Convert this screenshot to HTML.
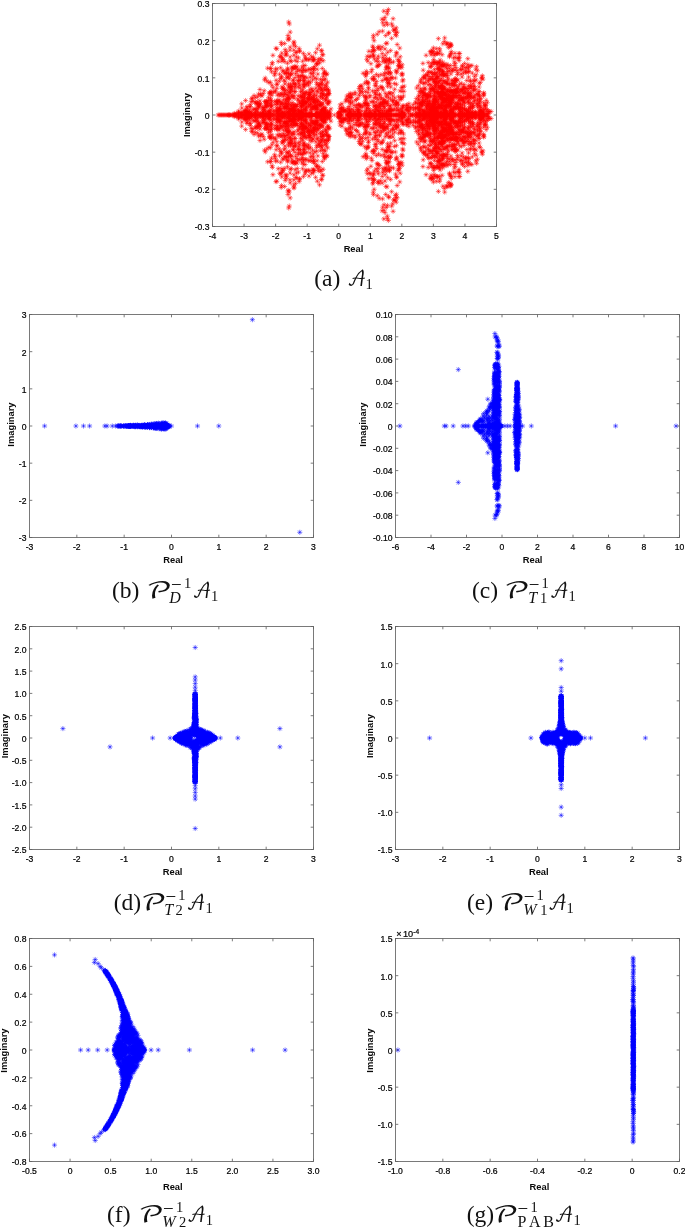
<!DOCTYPE html>
<html lang="en"><head><meta charset="utf-8"><title>Eigenvalue distributions</title>
<style>
html,body{margin:0;padding:0;background:#fff}
body{width:685px;height:1228px;overflow:hidden;position:relative}
svg{position:absolute;left:0;top:0;display:block}
.tl{font-family:"Liberation Sans",sans-serif;font-size:8.6px;fill:#000;stroke:#000;stroke-width:.22px}
.al{font-family:"Liberation Sans",sans-serif;font-size:9.35px;font-weight:bold;fill:#0a0a0a}
.box{fill:none;stroke:#626262;stroke-width:.85}
.tk{fill:none;stroke:#444;stroke-width:.7}
.pts{fill:none;stroke:none}
.cap{font-family:"Liberation Serif","DejaVu Serif",serif;font-size:23.5px;fill:#111}
.scr{font-family:"DejaVu Math TeX Gyre","Liberation Serif",serif}
.s{font-size:14.5px}
.it{font-style:italic}
</style></head><body>
<svg width="685" height="1228" viewBox="0 0 685 1228">
<defs>
<marker id="mr" markerUnits="userSpaceOnUse" markerWidth="8" markerHeight="8" refX="4" refY="4" overflow="visible"><path d="M1.45 4H6.55M4 1.45V6.55M2.2 2.2L5.8 5.8M2.2 5.8L5.8 2.2" fill="none" stroke="#ff0000" stroke-width=".5"/></marker>
<marker id="mb" markerUnits="userSpaceOnUse" markerWidth="8" markerHeight="8" refX="4" refY="4" overflow="visible"><path d="M1.45 4H6.55M4 1.45V6.55M2.2 2.2L5.8 5.8M2.2 5.8L5.8 2.2" fill="none" stroke="#0000ff" stroke-width=".5"/></marker>
</defs>
<g id="plot-a">
<polyline class="pts" style="marker-start:url(#mr);marker-mid:url(#mr);marker-end:url(#mr)" points="266.2,107.1 297.1,66.9 304,87.2 245.6,113.7 268.9,113.2 324.4,115 256,114.2 266.4,115 325.9,99.8 305.3,102.8 288.9,39.8 297.9,99 308.1,94.6 282.2,114.4 267.6,102.8 316.1,107.3 308.6,69.2 298,114.1 317.7,114.9 300.5,79.7 328.6,91.3 275.6,115 300.8,113.2 296,115 287.9,39.1 303.3,68.8 278.6,93.8 316.9,114 320.6,103 266.3,106.1 295,109.8 282.3,113 258.5,106.1 322.3,115 292.7,91 268.9,82.6 308.8,81.3 275.3,90.9 322.7,115 276.8,48.8 247,106.7 275.2,91.6 287.4,94.9 295.1,83.3 323,94.8 310.4,73 287,103.7 241,114.3 270.5,115 330.4,113.4 294.5,91.9 309.9,89.5 252.5,98.2 247.3,115 319.3,112.3 303.1,102 284.8,106.5 285.5,73.4 259.7,115 272,64.2 244.1,111.4 318.9,115 294.9,66.7 266,101.9 313.1,60.8 274.6,101.4 254.1,115 303.8,86.4 322.3,68.5 245,110.5 317.1,107.4 274,111.8 260.3,94 241.5,112.8 283.6,96.3 312.3,106.8 296.7,52.1 319.7,115 276.8,101.5 285.3,113.8 280.7,67.8 328.3,93.9 325.3,89.5 287.1,101.7 293.1,96.6 285.2,49.7 313.6,72.9 248.9,113.2 255.3,109 291.1,89.8 279.5,113.7 319.3,115 313.3,100.2 300.3,88.1 308,113.9 310,69.5 315.7,109.4 324.4,113.3 269.2,110.9 305.6,109.3 268.4,100.7 293.5,80.3 316,106 322.2,93.5 314.4,106 247.6,113 288.3,115 270.9,109.8 330.9,108.9 268.4,106.1 279.4,109.2 288.2,73 253.9,115 320.7,96.3 306.3,59 270.5,68.4 297,71.6 257.6,115 304.6,115 278.3,61.3 248.5,113.5 264.2,90.7 300.9,112.8 306.3,70.4 286,107.3 306.8,77.8 287.9,111.3 266.6,115 285.3,90.8 290.6,74.7 323.4,110.8 264.3,115 259.1,107 301.3,112.3 327,73.8 323,54.7 310.5,101.8 255.2,114.2 317.1,108.6 309.4,115 268.4,112.7 294.9,66.3 251.2,101.6 316.9,105.8 311.8,88.7 317,111.6 314.4,66.5 281.5,77.7 316.2,114.8 279.9,95.9 267.6,105 290.3,104.4 297,114.9 283,115 304.3,109.3 304,80.6 279,100.1 305.4,70.9 288.2,98.9 312.8,106.7 283.4,70.8 316.7,82.6 291.8,86.5 300.8,112.4 308.8,106.6 298.4,77 280.6,114.3 328.4,101.1 260.9,95.2 286,108.1 300.5,96.4 245.6,100.5 269.8,103.5 316.7,98 315.8,115 306.3,106.7 322.7,98.2 314.1,59.6 284.1,89.1 306.9,115 287.1,97.9 313.8,100.1 289.9,109.4 269.6,115 321.1,104.4 309.9,104.9 313.5,115 301.2,75.7 315.8,88.2 293.8,55.1 301.6,70.8 254.3,115 300.9,96.3 317.6,104.5 310.9,103.9 316.9,84.4 296.9,115 321.4,109.7 263.1,115 321.1,88 289.1,92.5 260,89.5 305.2,102.7 294.2,111 292.6,68.3 319.7,62.9 267.6,68.2 305,93.9 291.7,105.5 299.1,48.4 297.1,104.6 267.1,115 298,75.4 320.2,87.2 271.9,85.2 238.3,113.1 255.4,97.6 294.5,112.2 328,94.1 250,106.7 329.7,115 299.6,50.6 265,115 292,96.9 275.9,48.3 311.5,98.6 300,115 283.2,87.8 280.4,106.3 320.5,93.2 314.8,107.2 293.1,115 291.2,106.1 313,90.9 327.6,82.1 257.8,108.5 270.4,98.3 288.5,104.2 297.7,69.7 256.2,103.4 252.2,113.5 277.1,110.4 290,111.4 313.1,109 304.5,80.9 245.7,111.9 250.2,111.5 294.1,104.9 321,111.7 323.5,73.7 288.7,95.9 321.8,50.9 324.5,71.1 291.3,110.7 313.5,95.8 288.7,73.7 269.7,111.1 302.2,94.9 259.1,115 308.1,98.4 317.3,114.6 323.6,111.9 293.8,50.1 264.5,79.8 322.7,98.2 320.7,58.6 327.4,112 303.5,112.1 308.8,115 289.2,115 273.2,115 283.5,115 311.9,115 286,99.7 310,95 297.3,113.6 293.9,106.2 327.4,115 271.2,100.4 296.3,110.5 270.5,113.7 325.1,85.4 296.4,56.9 286.5,73 271.5,102.3 303.5,101.6 290.8,115 266,115 246.8,113.2 290.3,87 302.8,89.9 298.4,80.9 322.6,79.9 323.3,106.9 325,109.3 316.7,115 295.7,106.5 298.8,111.1 290.7,115 290.8,115 249.3,114.1 316.7,113.3 279.6,109.7 245.8,114.1 295,77.6 311.7,56.8 293.1,113.3 288.6,86.8 307.8,98.9 270.8,68.6 238.2,113.9 303.4,53.4 299.2,111.4 320.5,96.7 291.8,95.1 316,113.4 241.4,113.8 245.1,111.7 303.8,93.4 277.7,112.3 255.3,112.5 266.1,101.5 289.3,24 286.9,112.2 301.5,107.7 321.8,82.2 288.7,102.1 273.4,92.3 302.4,72.3 229,114.8 289.9,50.2 285.5,115 290.1,56.9 251.6,98.6 300.8,113 305.5,108.7 313.8,59.5 326.6,86.6 288,35.5 307.6,98.6 293.4,111.8 276.6,84.4 321.9,104.6 313.5,68.7 325.5,100.3 318,109.7 323.7,113.8 266.2,102.3 240.4,113.3 274.9,73.6 291.6,71 309.7,92.9 293.2,83.4 298.1,109 314.5,99.9 256,102.9 309.1,92.5 251.1,115 279.8,110.2 312,73.7 309.4,97.9 291.2,87.1 283.7,104.6 318.3,59.1 282.1,111.6 246.4,115 279.7,110.3 242.8,112.5 317.4,101.5 265.3,111.4 327.9,89.1 276.4,110.6 284.6,73.1 302.9,115 284.8,107.8 289.6,113.7 262.4,107.3 290.2,60.7 244.4,115 277.5,104.3 323.2,103 282.6,94.3 281.8,61.2 309.1,112.7 321.5,110.4 283.8,89.7 289.4,115 311.5,111.8 316.3,113.5 304.8,103.2 272.8,113.6 273,87.7 314.3,99.6 311,107.8 322.3,84.5 315.6,52.7 292.2,102.7 266.9,81 322,115 310.2,115 302.3,105.4 309.3,94.7 289.9,108.6 287.3,106.5 302.2,103.6 296,52.4 311.1,115 325,90 319.4,105.7 290.1,91.5 289.1,37.9 324.3,79.9 290.5,84.1 316.8,115 260.3,103.7 294,68.7 298.3,87.2 317.3,63.5 321.2,83.9 269.6,93.4 305,55.9 305.8,115 269.4,92.8 318.6,85.9 300.8,114.7 326.9,97 273.6,110.3 298.8,83.6 285.9,55.2 306.7,115 304.4,84.8 298,100.2 286,54.1 297.4,115 289.1,97.6 322,109.2 294.6,88 295.5,73.7 280.7,104 280.3,78.7 326.3,97.9 285.2,103.2 320.6,114.6 303.5,65.7 328.5,115 271,92.4 325.4,95.5 315.2,108 301.7,115 311.1,92.2 312,109.2 293.8,45 306.2,103.3 278,101.2 242.9,114.6 309,54 295.5,46.4 322.9,93.8 281.2,93.2 317.8,74.1 329.1,112.3 322.4,115 327.1,89.5 270.4,93.7 271.1,107.2 277.9,115 288.5,108.7 264.2,107.8 269.3,115 241.7,103.9 324.8,73.8 288.4,84.1 305.6,113.5 294.2,98.3 313.3,59.9 317.1,91.2 289.8,98.8 299.6,51.5 261.2,114.3 283,113.9 277.4,95.1 284.8,111.3 286,115 302.2,115 286.6,106.1 286.1,94.3 318.5,115 238.7,111 234.2,114 253.1,109.7 320.4,79.3 306.1,110.8 312.4,97.3 326.6,114.9 276.9,100.4 323.9,108.6 279.3,81.2 298.4,57.9 309.3,115 316.6,95.3 279.8,101.5 295.6,91.5 250.3,114.6 283.2,99.9 328.6,93.5 322.9,109.6 302.7,103.3 316,100.6 322.7,110.3 286.5,108.5 328.5,90.4 293.8,112.2 270.4,82.2 299.2,113.2 303.5,80.8 310.1,77.2 308.6,85.3 249.3,110 306.5,107.3 324,111.9 308.5,101 328,102.2 297.9,80.6 317.3,48.8 267.9,111.4 322.3,54.8 293.1,67.9 321.1,60 285.7,103.8 305.5,110.5 319.4,115 311.3,115 305.2,65.5 327.6,103.5 259.4,104.7 262,95.9 300.6,92 326.4,84 309.6,115 284.9,84.1 263,112.8 293.8,114.7 295.8,67.9 295.1,60.3 305.2,58.1 281.9,57.4 321.3,50.4 283.2,59.7 262.9,112 287.6,76.9 325,109.2 270.4,100.4 282.4,58.9 324.3,87.8 287.6,68.2 319.2,101.4 250.3,104.5 321.8,89.2 278.8,108.8 272.9,55.3 313.3,57.2 329.5,111.1 326.7,115 313.9,68.6 323.5,114.8 329.2,93.7 300.7,113.7 268.5,97.4 319.5,45.2 290.6,89.7 285.1,115 297.2,105.2 247.5,114.5 241.8,108 281.2,42.5 303.6,77.2 313.7,70.3 326.5,74.5 317.8,114.4 325.3,115 306.3,114 312.8,90.9 303,104.8 258.2,106.3 254.1,95.6 314.4,94.1 275.3,71.6 316.2,115 294.8,111.2 235.5,115 301.3,115 293.5,111.7 256.7,109.4 280.9,56 284.7,94.3 287.4,90.3 311,113.3 271.4,105.2 293.5,109.1 304.3,84.1 325.7,112.2 264.2,114.1 257.7,102 274.2,115 277.2,68.9 270.8,91.5 257.1,111.1 276.1,80.3 277.5,102.8 295.8,106.5 307.1,102.1 288.6,112.5 271.5,71.8 260.7,113.7 281.1,102.8 271.8,95.3 295.9,115 320.8,112.2 311.6,99 275.4,68.9 247.8,111.7 255.4,112 293.1,108.2 288.6,77 309.4,94.7 258.6,103.5 280.4,109.8 309.6,96.3 301.8,91.3 298.3,115 322.7,91 263.9,107.5 274.6,75.2 301.6,110.2 301.6,105 328.5,115 328.2,104 303,109.6 314.3,106.5 310.4,82.7 266.9,100.8 304,78 284.6,43.5 288.3,99.3 270,112.7 236.4,114.5 319.8,83.8 311.7,68.8 313.9,97 283.2,114.4 291.9,73.7 272.4,62.6 304,97.6 318.9,89.1 315.5,103.3 324.8,72.4 280.9,115 310.6,104.2 266,105.2 299.6,115 263.4,115 299.9,103.2 300,102.9 287.5,63.2 287.7,105.9 311.3,115 295.9,106.2 291.3,61.4 263.8,110.2 282.7,71.1 319.4,104.5 327.7,112.5 289.2,87.1 320.8,104.2 320.9,115 276.9,88.3 282,86.9 310.3,109.9 284.6,92.9 326.4,94.6 288.7,22 312.5,80 311,115 276.5,107.6 320.5,105.6 286.3,54 263.4,115 251.4,112.4 294,84.3 306.1,101.3 281.8,53.1 319.1,85.2 281.5,44.5 319.4,115 247,110.3 281.1,94.5 270.4,105 293.8,42.8 287.8,112.2 290.5,114.5 319.6,115 302.5,115 304.2,114 290.2,93.1 317.2,102.2 297.3,61.5 313.5,102.4 323.5,113.9 304.7,95.8 293,80.1 281.2,104.1 323.3,95.1 314.7,115 316.7,78.8 277.3,84.1 293.1,115 321.5,115 279.6,108.1 317.6,91.7 299.8,70.3 277,103.1 289.3,78.8 257.1,104 308.7,105 312.3,115 245.7,110.3 284.3,113.1 314.9,78.2 275.1,104.5 299.7,101.2 317.1,69.2 301.9,67.1 265.3,114 323.2,76.4 313.6,101.7 301.5,111.3 286.6,77.6 302.7,113.4 290.3,115 264.8,110.2 265.3,78.1 250.3,106.6 271.8,105.9 279.6,74.2 306.2,84.7 302.6,61.2 303.3,84.5 318,100.1 260.7,113.2 290.2,32.1 257.7,96.9 292,67.2 257.6,115 255.1,101.9 262.4,109.5 290.2,47.2 314.6,102.7 282.7,103.1 313.3,76.2 278.4,115 283.1,108.4 295.3,86.6 256.9,115 293.9,104.3 302.8,99.7 318.1,61 252.9,101.2 316.8,63.6 301.9,97.6 302.4,75.7 251.7,114.9 321.3,90.3 282.3,88.8 300.3,76.7 299.8,80.6 323.2,60.7 304,103.9 329.7,101.8 278.3,113.3 308,82.7 302.3,97 298.1,95.8 305.7,92.6 300.6,106.3 286.8,70.4 306.6,92 258.5,94.2 295.8,114.7 294.1,42 276.5,113 301.8,100.5 308.5,59.7 265.7,114.6 283.9,107 254.2,109 303.7,105.8 258.2,112.2 278,115 293.8,108.3 294,95.6 246.9,107.8 325.8,110.7 278.1,109.8 304.5,97.2 277.3,111.2 303.6,114.4 287.9,98.5 285.6,100.3 295.5,84.6 303,101.6 303.8,93.8 309.8,59.2 281.6,76.4 260.1,105 280.3,115 286.1,51.5 304.4,99.1 291.7,110.8 285,81.4 261.3,115 303.7,70.3 263.3,93.5 298.3,110.2 309.8,99.7 305.4,102.2 270.5,115 288.1,69.4 325.3,107.5 259.9,100.9 309.1,98.3 293.1,108.3 304.8,76.6 290.5,74.8 265.5,104.1 301.4,106.1 234.9,113.3 320.4,115 316.7,64.7 289.2,115 299.7,85.3 299,111.7 328.4,115 249.9,113.7 284,80.2 291.3,86.9 316,108.3 312.5,115 292.3,114.8 238.4,112.6 307.1,83.3 291.3,109.6 264.5,101.4 305.9,59.9 293.6,115 284.7,61.6 281.6,112.9 298.6,115 279.7,56.7 290.4,108.9 325.4,78.9 266.2,122.9 297.1,163.1 304,142.8 245.6,116.3 268.9,116.8 256,115.8 325.9,130.2 305.3,127.2 288.9,190.2 297.9,131 308.1,135.4 282.2,115.6 267.6,127.2 316.1,122.7 308.6,160.8 298,115.9 317.7,115.1 300.5,150.3 328.6,138.7 300.8,116.8 287.9,190.9 303.3,161.2 278.6,136.2 316.9,116 320.6,127 266.3,123.9 295,120.2 282.3,117 258.5,123.9 292.7,139 268.9,147.4 308.8,148.7 275.3,139.1 276.8,181.2 247,123.3 275.2,138.4 287.4,135.1 295.1,146.7 323,135.2 310.4,157 287,126.3 241,115.7 330.4,116.6 294.5,138.1 309.9,140.5 252.5,131.8 319.3,117.7 303.1,128 284.8,123.5 285.5,156.6 272,165.8 244.1,118.6 294.9,163.3 266,128.1 313.1,169.2 274.6,128.6 303.8,143.6 322.3,161.5 245,119.5 317.1,122.6 274,118.2 260.3,136 241.5,117.2 283.6,133.7 312.3,123.2 296.7,177.9 276.8,128.5 285.3,116.2 280.7,162.2 328.3,136.1 325.3,140.5 287.1,128.3 293.1,133.4 285.2,180.3 313.6,157.1 248.9,116.8 255.3,121 291.1,140.2 279.5,116.3 313.3,129.8 300.3,141.9 308,116.1 310,160.5 315.7,120.6 324.4,116.7 269.2,119.1 305.6,120.7 268.4,129.3 293.5,149.7 316,124 322.2,136.5 314.4,124 247.6,117 270.9,120.2 330.9,121.1 268.4,123.9 279.4,120.8 288.2,157 320.7,133.7 306.3,171 270.5,161.6 297,158.4 278.3,168.7 248.5,116.5 264.2,139.3 300.9,117.2 306.3,159.6 286,122.7 306.8,152.2 287.9,118.7 285.3,139.2 290.6,155.3 323.4,119.2 259.1,123 301.3,117.7 327,156.2 323,175.3 310.5,128.2 255.2,115.8 317.1,121.4 268.4,117.3 294.9,163.7 251.2,128.4 316.9,124.2 311.8,141.3 317,118.4 314.4,163.5 281.5,152.3 316.2,115.2 279.9,134.1 267.6,125 290.3,125.6 297,115.1 304.3,120.7 304,149.4 279,129.9 305.4,159.1 288.2,131.1 312.8,123.3 283.4,159.2 316.7,147.4 291.8,143.5 300.8,117.6 308.8,123.4 298.4,153 280.6,115.7 328.4,128.9 260.9,134.8 286,121.9 300.5,133.6 245.6,129.5 269.8,126.5 316.7,132 306.3,123.3 322.7,131.8 314.1,170.4 284.1,140.9 287.1,132.1 313.8,129.9 289.9,120.6 321.1,125.6 309.9,125.1 301.2,154.3 315.8,141.8 293.8,174.9 301.6,159.2 300.9,133.7 317.6,125.5 310.9,126.1 316.9,145.6 321.4,120.3 321.1,142 289.1,137.5 260,140.5 305.2,127.3 294.2,119 292.6,161.7 319.7,167.1 267.6,161.8 305,136.1 291.7,124.5 299.1,181.6 297.1,125.4 298,154.6 320.2,142.8 271.9,144.8 238.3,116.9 255.4,132.4 294.5,117.8 328,135.9 250,123.3 299.6,179.4 292,133.1 275.9,181.7 311.5,131.4 283.2,142.2 280.4,123.7 320.5,136.8 314.8,122.8 291.2,123.9 313,139.1 327.6,147.9 257.8,121.5 270.4,131.7 288.5,125.8 297.7,160.3 256.2,126.6 252.2,116.5 277.1,119.6 290,118.6 313.1,121 304.5,149.1 245.7,118.1 250.2,118.5 294.1,125.1 321,118.3 323.5,156.3 288.7,134.1 321.8,179.1 324.5,158.9 291.3,119.3 313.5,134.2 288.7,156.3 269.7,118.9 302.2,135.1 308.1,131.6 317.3,115.4 323.6,118.1 293.8,179.9 264.5,150.2 322.7,131.8 320.7,171.4 327.4,118 303.5,117.9 286,130.3 310,135 297.3,116.4 293.9,123.8 271.2,129.6 296.3,119.5 270.5,116.3 325.1,144.6 296.4,173.1 286.5,157 271.5,127.7 303.5,128.4 246.8,116.8 290.3,143 302.8,140.1 298.4,149.1 322.6,150.1 323.3,123.1 325,120.7 295.7,123.5 298.8,118.9 249.3,115.9 316.7,116.7 279.6,120.3 245.8,115.9 295,152.4 311.7,173.2 293.1,116.7 288.6,143.2 307.8,131.1 270.8,161.4 238.2,116.1 303.4,176.6 299.2,118.6 320.5,133.3 291.8,134.9 316,116.6 241.4,116.2 245.1,118.3 303.8,136.6 277.7,117.7 255.3,117.5 266.1,128.5 289.3,206 286.9,117.8 301.5,122.3 321.8,147.8 288.7,127.9 273.4,137.7 302.4,157.7 229,115.2 289.9,179.8 290.1,173.1 251.6,131.4 300.8,117 305.5,121.3 313.8,170.5 326.6,143.4 288,194.5 307.6,131.4 293.4,118.2 276.6,145.6 321.9,125.4 313.5,161.3 325.5,129.7 318,120.3 323.7,116.2 266.2,127.7 240.4,116.7 274.9,156.4 291.6,159 309.7,137.1 293.2,146.6 298.1,121 314.5,130.1 256,127.1 309.1,137.5 279.8,119.8 312,156.3 309.4,132.1 291.2,142.9 283.7,125.4 318.3,170.9 282.1,118.4 279.7,119.7 242.8,117.5 317.4,128.5 265.3,118.6 327.9,140.9 276.4,119.4 284.6,156.9 284.8,122.2 289.6,116.3 262.4,122.7 290.2,169.3 244.4,115 277.5,125.7 323.2,127 282.6,135.7 281.8,168.8 309.1,117.3 321.5,119.6 283.8,140.3 311.5,118.2 316.3,116.5 304.8,126.8 272.8,116.4 273,142.3 314.3,130.4 311,122.2 322.3,145.5 315.6,177.3 292.2,127.3 266.9,149 302.3,124.6 309.3,135.3 289.9,121.4 287.3,123.5 302.2,126.4 296,177.6 325,140 319.4,124.3 290.1,138.5 289.1,192.1 324.3,150.1 290.5,145.9 260.3,126.3 294,161.3 298.3,142.8 317.3,166.5 321.2,146.1 269.6,136.6 305,174.1 269.4,137.2 318.6,144.1 300.8,115.3 326.9,133 273.6,119.7 298.8,146.4 285.9,174.8 304.4,145.2 298,129.8 286,175.9 289.1,132.4 322,120.8 294.6,142 295.5,156.3 280.7,126 280.3,151.3 326.3,132.1 285.2,126.8 320.6,115.4 303.5,164.3 271,137.6 325.4,134.5 315.2,122 311.1,137.8 312,120.8 293.8,185 306.2,126.7 278,128.8 242.9,115.4 309,176 295.5,183.6 322.9,136.2 281.2,136.8 317.8,155.9 329.1,117.7 327.1,140.5 270.4,136.3 271.1,122.8 288.5,121.3 264.2,122.2 241.7,126.1 324.8,156.2 288.4,145.9 305.6,116.5 294.2,131.7 313.3,170.1 317.1,138.8 289.8,131.2 299.6,178.5 261.2,115.7 283,116.1 277.4,134.9 284.8,118.7 286.6,123.9 286.1,135.7 238.7,119 234.2,116 253.1,120.3 320.4,150.7 306.1,119.2 312.4,132.7 326.6,115.1 276.9,129.6 323.9,121.4 279.3,148.8 298.4,172.1 316.6,134.7 279.8,128.5 295.6,138.5 250.3,115.4 283.2,130.1 328.6,136.5 322.9,120.4 302.7,126.7 316,129.4 322.7,119.7 286.5,121.5 328.5,139.6 293.8,117.8 270.4,147.8 299.2,116.8 303.5,149.2 310.1,152.8 308.6,144.7 249.3,120 306.5,122.7 324,118.1 308.5,129 328,127.8 297.9,149.4 317.3,181.2 267.9,118.6 322.3,175.2 293.1,162.1 321.1,170 285.7,126.2 305.5,119.5 305.2,164.5 327.6,126.5 259.4,125.3 262,134.1 300.6,138 326.4,146 284.9,145.9 263,117.2 293.8,115.3 295.8,162.1 295.1,169.7 305.2,171.9 281.9,172.6 321.3,179.6 283.2,170.3 262.9,118 287.6,153.1 325,120.8 270.4,129.6 282.4,171.1 324.3,142.2 287.6,161.8 319.2,128.6 250.3,125.5 321.8,140.8 278.8,121.2 272.9,174.7 313.3,172.8 329.5,118.9 313.9,161.4 323.5,115.2 329.2,136.3 300.7,116.3 268.5,132.6 319.5,184.8 290.6,140.3 297.2,124.8 247.5,115.5 241.8,122 281.2,187.5 303.6,152.8 313.7,159.7 326.5,155.5 317.8,115.6 306.3,116 312.8,139.1 303,125.2 258.2,123.7 254.1,134.4 314.4,135.9 275.3,158.4 294.8,118.8 293.5,118.3 256.7,120.6 280.9,174 284.7,135.7 287.4,139.7 311,116.7 271.4,124.8 293.5,120.9 304.3,145.9 325.7,117.8 264.2,115.9 257.7,128 277.2,161.1 270.8,138.5 257.1,118.9 276.1,149.7 277.5,127.2 295.8,123.5 307.1,127.9 288.6,117.5 271.5,158.2 260.7,116.3 281.1,127.2 271.8,134.7 320.8,117.8 311.6,131 275.4,161.1 247.8,118.3 255.4,118 293.1,121.8 288.6,153 309.4,135.3 258.6,126.5 280.4,120.2 309.6,133.7 301.8,138.7 322.7,139 263.9,122.5 274.6,154.8 301.6,119.8 301.6,125 328.2,126 303,120.4 314.3,123.5 310.4,147.3 266.9,129.2 304,152 284.6,186.5 288.3,130.7 270,117.3 236.4,115.5 319.8,146.2 311.7,161.2 313.9,133 283.2,115.6 291.9,156.3 272.4,167.4 304,132.4 318.9,140.9 315.5,126.7 324.8,157.6 310.6,125.8 266,124.8 299.9,126.8 300,127.1 287.5,166.8 287.7,124.1 295.9,123.8 291.3,168.6 263.8,119.8 282.7,158.9 319.4,125.5 327.7,117.5 289.2,142.9 320.8,125.8 276.9,141.7 282,143.1 310.3,120.1 284.6,137.1 326.4,135.4 288.7,208 312.5,150 276.5,122.4 320.5,124.4 286.3,176 251.4,117.6 294,145.7 306.1,128.7 281.8,176.9 319.1,144.8 281.5,185.5 247,119.7 281.1,135.5 270.4,125 293.8,187.2 287.8,117.8 290.5,115.5 304.2,116 290.2,136.9 317.2,127.8 297.3,168.5 313.5,127.6 323.5,116.1 304.7,134.2 293,149.9 281.2,125.9 323.3,134.9 316.7,151.2 277.3,145.9 279.6,121.9 317.6,138.3 299.8,159.7 277,126.9 289.3,151.2 257.1,126 308.7,125 245.7,119.7 284.3,116.9 314.9,151.8 275.1,125.5 299.7,128.8 317.1,160.8 301.9,162.9 265.3,116 323.2,153.6 313.6,128.3 301.5,118.7 286.6,152.4 302.7,116.6 264.8,119.8 265.3,151.9 250.3,123.4 271.8,124.1 279.6,155.8 306.2,145.3 302.6,168.8 303.3,145.5 318,129.9 260.7,116.8 290.2,197.9 257.7,133.1 292,162.8 255.1,128.1 262.4,120.5 290.2,182.8 314.6,127.3 282.7,126.9 313.3,153.8 283.1,121.6 295.3,143.4 293.9,125.7 302.8,130.3 318.1,169 252.9,128.8 316.8,166.4 301.9,132.4 302.4,154.3 251.7,115.1 321.3,139.7 282.3,141.2 300.3,153.3 299.8,149.4 323.2,169.3 304,126.1 329.7,128.2 278.3,116.7 308,147.3 302.3,133 298.1,134.2 305.7,137.4 300.6,123.7 286.8,159.6 306.6,138 258.5,135.8 295.8,115.3 294.1,188 276.5,117 301.8,129.5 308.5,170.3 265.7,115.4 283.9,123 254.2,121 303.7,124.2 258.2,117.8 293.8,121.7 294,134.4 246.9,122.2 325.8,119.3 278.1,120.2 304.5,132.8 277.3,118.8 303.6,115.6 287.9,131.5 285.6,129.7 295.5,145.4 303,128.4 303.8,136.2 309.8,170.8 281.6,153.6 260.1,125 286.1,178.5 304.4,130.9 291.7,119.2 285,148.6 303.7,159.7 263.3,136.5 298.3,119.8 309.8,130.3 305.4,127.8 288.1,160.6 325.3,122.5 259.9,129.1 309.1,131.7 293.1,121.7 304.8,153.4 290.5,155.2 265.5,125.9 301.4,123.9 234.9,116.7 316.7,165.3 299.7,144.7 299,118.3 328.4,115 249.9,116.3 284,149.8 291.3,143.1 316,121.7 292.3,115.2 238.4,117.4 307.1,146.7 291.3,120.4 264.5,128.6 305.9,170.1 284.7,168.4 281.6,117.1 279.7,173.3 290.4,121.1 325.4,151.1 218.2,115 219.3,115 220.4,115 221.5,115 222.6,115 223.6,115 224.7,115 225.8,115 226.9,115 228,115 229.1,115 230.2,115 231.3,115 232.4,115 233.5,115 234.6,115 385.9,43.6 366.3,71.3 400.1,99.7 361.8,110.8 404.2,86.2 405,115 396.4,35.7 373.3,37.8 404.4,115 361.3,115 379.1,104.4 379.8,106.5 353.9,105.3 410.4,107.3 358.2,104.9 378.5,110.8 348.5,115 366.5,81.2 396.3,110.6 388.5,97.5 372,69.5 387,43.1 357.1,114.2 387.5,24.6 399.8,48.1 340.4,112.7 367.8,61.1 364.7,83.3 348.7,115 401.6,112.3 389,115 385.3,93.3 385.2,55.3 388.1,110.3 366.8,115 360.1,106 347.7,108.4 355.6,115 359.8,86.5 394.5,109 369.3,115 373.3,102.3 391.5,113.8 407.3,110.4 350.1,97.3 383.9,59.1 375.1,115 358.2,111.7 370.4,115 393.7,104.6 365.6,103.1 382.6,104.7 377.2,98 341,114.3 398,59.6 398.1,115 396.6,115 376.1,61.1 375.8,113.9 388.2,111 410.4,114 379.5,113.3 367.7,103.5 378.3,88.6 383.2,115 386,72.9 403.6,114.3 383.5,99.4 395.8,115 378.1,115 377.1,105.7 400.9,109 366.7,107.7 368,83.8 382,87.8 350.8,97.4 356.6,99.5 380.4,115 386.6,103.3 409.1,107.4 350.9,111.6 344,110.7 388.9,32.5 400.2,115 349.1,106.5 367.6,115 388.6,63.9 386.6,58.7 398.6,115 387.6,103.4 404.5,115 367.3,56.3 391.8,109.8 384.1,115 373.7,76.6 390.5,99 397.2,44.5 383.6,106.7 390.3,77.9 374.8,106.2 398,102.9 373.2,47.5 385.7,35.5 384.4,106.5 380.3,110.5 401.8,67.6 389.7,84 384,19.7 390.2,109 389.9,109.8 369.9,110.4 368.9,115 385,115 353.9,112 395.2,115 393,100.4 386.6,112.1 370,115 408.9,103.7 391.6,38.3 398.1,109.9 390.5,72.5 382.5,112 366.7,59.3 358.1,115 395.5,104.2 385.6,60.5 363.1,73.3 360.7,115 378.9,111.8 386.3,115 392.6,100.8 378.5,48.3 364.2,105.7 388.4,9.5 352.7,94.1 357.3,115 372.4,91 382.7,61.3 341.1,114.6 353.4,110.1 389.9,92.8 374.7,50.6 376.8,94.5 378.1,99.6 357.6,109.3 406.8,108.1 402.2,64.8 386.2,115 349.1,97.1 388.9,93.2 395.1,115 370.1,95.5 355.1,92.4 390.8,73.8 386.3,111.4 373.7,55.8 367.5,73 402.6,81 348.6,95 368.5,89.1 378.5,76.1 384,75.5 364.6,113.2 384.3,73.3 350.9,115 381.2,105 348.4,112.6 373.5,79.6 390.1,105.8 359.9,90.2 355.2,100.2 406.8,105.5 375.7,105.3 345.7,115 375.5,83.4 365.8,76.3 395.6,55.9 399.2,66.4 392.6,96 388.2,74.1 383.1,114.9 345.7,101.1 387.1,78.3 373.4,56.2 366.5,111 382.9,101.3 363.5,115 410.6,108.9 384.5,113.4 392,77.5 350.5,115 343.3,111.5 357.3,113.9 358.5,104.6 382.1,46.9 387.3,67 400.2,56.8 349.4,110.4 379.5,106.3 387.5,115 375,92.8 347.2,98.6 349.5,113.2 339.6,111.8 369.2,108.7 356.1,107.4 404.7,112.5 386.1,96.7 349.6,113.7 387.8,105.5 379.8,94.2 396.3,52.6 358.9,114.4 370.9,101.8 379,46.6 380.2,115 354.3,114.3 396.3,27.9 355.8,115 377.6,90.6 383.1,115 376.3,108.2 370.5,115 390.6,115 380.8,86.6 388.7,72.6 392.7,26.1 402.2,115 379.2,31.7 375.1,115 401.9,97.5 406.9,109.3 398.8,110 360.3,113 401.1,114.1 386.9,95 380.7,115 352.9,113.4 356.3,105.2 398.4,65.4 367,114.8 378.2,107.5 375.7,109.5 373.2,50.7 375.6,107.1 366.4,99.1 400.5,97.1 380.3,115 367.4,82.7 361.1,91.4 394.7,97.8 394.1,30 395.8,115 384.3,110.7 369.8,115 361,105.6 372.5,115 348.9,115 366.1,115 370.9,63.7 351.1,115 355.2,111.7 351.5,97.3 373.5,49.5 402.4,74.2 405.9,109.5 350.1,102.3 384.3,115 339,113.3 387.8,79.8 385.8,61.9 380.3,115 366.3,103.5 377.7,66.1 343.6,110.7 387.3,11.4 393.5,61.9 348.5,115 413,115 357.8,98.2 401.6,98.9 409,111.4 375.5,97.2 396.9,107.8 382.7,57.4 365.9,74 388.9,83.5 371.6,115 355.3,115 393.1,18.7 359.1,109.3 403.1,79.8 359.8,93.2 369.4,56.8 394.7,89.3 396.6,72.9 374.2,78.5 385,101.9 404,91.3 367.2,108.6 365.5,74.2 350.2,111.2 388.9,114.2 389.1,68.4 351.9,109 390.5,115 367,105.4 380.2,103.5 382.7,22.8 383.8,102.5 382.2,53.6 374.1,40.7 389.5,61 360.9,85.6 398.6,96.8 373.4,35.4 393.2,101.8 385,49 377,66.2 378.3,65.4 380.9,113.1 375.2,90.6 382.7,115 378.3,56.2 397,71 365,111.8 392.2,78.3 374.8,111.5 397.5,115 396.2,105 347.5,113.8 402.5,107.3 395.3,34.6 387.3,115 359.2,115 396.4,84.3 384.1,25.3 362.7,88.8 386.5,66.3 351.6,115 389.5,59.1 359.3,95.4 368.2,114.5 341.6,109.5 372.5,115 384.9,17.4 387.3,13.8 375,115 366.4,110.2 349.4,109.4 371.5,115 393.7,30.1 403,105.5 402,91.3 348.4,101.1 352.5,115 372.2,115 382.6,31.1 344.9,109.9 348.9,114.2 396,101 412.5,115 376.3,85.9 394.3,83.5 389.6,108.9 393,92.9 375.3,94 402.6,87.3 352,115 365.4,97.7 386.3,78.2 364.1,103.2 396.8,103.6 395.8,70.9 394.1,115 399.1,112.1 386.3,22.6 358.3,110.8 369.7,97.1 338.7,114.1 373.8,79.7 386.3,79.5 389.3,111.7 390.2,93.6 364.9,103.7 402.2,112 381.8,115 360.6,115 403.3,106.1 388.1,60.8 388.6,67.8 384.9,100.1 337.9,113.6 382.2,87.5 390.6,50.6 387.8,101.2 361.3,86.3 378.2,61.6 390.7,87 400.6,66.6 362.5,92.3 383.2,89.9 346.9,96.1 357.7,109.5 372.9,115 340.8,111.4 371.4,115 398.7,60.8 368,92.6 355.1,94.3 350.2,93.4 382.2,110.4 374.2,115 385.8,115 374.2,97.9 381,97.3 374.4,59 367,104.2 339.8,108.3 366.6,96.9 391.6,115 370.8,111.8 393.2,115 343.9,111.1 389.7,80.3 396,32.6 363.6,95.6 372.9,110.1 365.2,115 376.1,115 401.9,75.2 389.4,59.5 350.2,100.7 412.5,115 388.5,33.6 395.4,78 396.8,53.2 401.9,73.5 393.4,110.1 365.6,91.6 391.9,110.5 387.9,82.8 375.1,115 398.6,105.1 340.1,104.9 379.8,115 399.5,61.5 381.2,98.8 373,54.1 350.5,103.9 359,88.4 365.3,115 411.8,115 382,19.2 368.3,82.7 399.7,115 385.1,62.1 367.4,115 387.2,114.3 342,103.8 380.7,49.3 380.9,74.6 346.8,110.9 387.5,86.3 341.7,108.2 359.4,113.3 391.6,23.9 374.2,112.1 390.5,106.1 381.6,115 377.7,47.8 384.2,103.7 341.3,108.4 338.4,112.5 403.4,115 389,71.9 358.4,113.6 389.2,115 402.4,111.9 396.7,102.6 386.6,67.5 380.9,115 385.7,102.3 358.3,111.7 376.7,81.4 399,65.5 371.9,78.6 365.5,100.4 380.6,102.4 395.3,29.7 399.3,63.1 412.9,107.5 406.7,105.1 350.5,115 377.2,34.3 382.2,80.6 388.4,115 350.8,94.9 372,51.5 372.7,46.2 384.9,79.1 372.3,115 368.9,51.3 358.7,115 387.7,52.3 368.4,87.5 360.4,107 401.3,115 373.2,101.4 366.8,115 348.9,115 380.6,108.7 370.5,56.2 383.8,11.1 368.6,105.5 378,111.2 352.5,102.1 346.2,99.8 403,115 391.2,62.5 375.2,112.2 359.9,104.6 387.7,82.6 384.7,108.3 385.6,115 408.8,110.4 371.3,71.8 402.6,108.2 376,115 408.3,113.4 407.9,107.4 375,85.7 379.5,95.1 400.2,115 400,90.9 349.4,115 379.8,64.5 349.6,115 397.2,32.2 365.7,96.4 369.8,115 369.1,112.3 390.4,111.3 369.4,112.7 376.4,102.1 398.8,68.2 376.4,74.5 401.7,111.1 401.7,87.4 377.1,110.1 362.7,106.9 403.5,96 382.5,103.1 371.4,115 345.9,111.2 377.7,58.6 343.1,107.5 385.9,69.3 373.8,105.9 385.9,186.4 366.3,158.7 400.1,130.3 361.8,119.2 404.2,143.8 396.4,194.3 373.3,192.2 379.1,125.6 379.8,123.5 353.9,124.7 410.4,122.7 358.2,125.1 378.5,119.2 366.5,148.8 396.3,119.4 388.5,132.5 372,160.5 387,186.9 357.1,115.8 387.5,205.4 399.8,181.9 340.4,117.3 367.8,168.9 364.7,146.7 401.6,117.7 385.3,136.7 385.2,174.7 388.1,119.7 360.1,124 347.7,121.6 359.8,143.5 394.5,121 373.3,127.7 391.5,116.2 407.3,119.6 350.1,132.7 383.9,170.9 358.2,118.3 393.7,125.4 365.6,126.9 382.6,125.3 377.2,132 341,115.7 398,170.4 376.1,168.9 375.8,116.1 388.2,119 410.4,116 379.5,116.7 367.7,126.5 378.3,141.4 386,157.1 403.6,115.7 383.5,130.6 377.1,124.3 400.9,121 366.7,122.3 368,146.2 382,142.2 350.8,132.6 356.6,130.5 386.6,126.7 409.1,122.6 350.9,118.4 344,119.3 388.9,197.5 349.1,123.5 388.6,166.1 386.6,171.3 387.6,126.6 367.3,173.7 391.8,120.2 373.7,153.4 390.5,131 397.2,185.5 383.6,123.3 390.3,152.1 374.8,123.8 398,127.1 373.2,182.5 385.7,194.5 384.4,123.5 380.3,119.5 401.8,162.4 389.7,146 384,210.3 390.2,121 389.9,120.2 369.9,119.6 353.9,118 393,129.6 386.6,117.9 408.9,126.3 391.6,191.7 398.1,120.1 390.5,157.5 382.5,118 366.7,170.7 395.5,125.8 385.6,169.5 363.1,156.7 378.9,118.2 392.6,129.2 378.5,181.7 364.2,124.3 388.4,220.5 352.7,135.9 372.4,139 382.7,168.7 341.1,115.4 353.4,119.9 389.9,137.2 374.7,179.4 376.8,135.5 378.1,130.4 357.6,120.7 406.8,121.9 402.2,165.2 349.1,132.9 388.9,136.8 370.1,134.5 355.1,137.6 390.8,156.2 386.3,118.6 373.7,174.2 367.5,157 402.6,149 348.6,135 368.5,140.9 378.5,153.9 384,154.5 364.6,116.8 384.3,156.7 381.2,125 348.4,117.4 373.5,150.4 390.1,124.2 359.9,139.8 355.2,129.8 406.8,124.5 375.7,124.7 375.5,146.6 365.8,153.7 395.6,174.1 399.2,163.6 392.6,134 388.2,155.9 383.1,115.1 345.7,128.9 387.1,151.7 373.4,173.8 366.5,119 382.9,128.7 410.6,121.1 384.5,116.6 392,152.5 343.3,118.5 357.3,116.1 358.5,125.4 382.1,183.1 387.3,163 400.2,173.2 349.4,119.6 379.5,123.7 375,137.2 347.2,131.4 349.5,116.8 339.6,118.2 369.2,121.3 356.1,122.6 404.7,117.5 386.1,133.3 349.6,116.3 387.8,124.5 379.8,135.8 396.3,177.4 358.9,115.6 370.9,128.2 379,183.4 354.3,115.7 396.3,202.1 377.6,139.4 376.3,121.8 380.8,143.4 388.7,157.4 392.7,203.9 379.2,198.3 401.9,132.5 406.9,120.7 398.8,120 360.3,117 401.1,115.9 386.9,135 352.9,116.6 356.3,124.8 398.4,164.6 367,115.2 378.2,122.5 375.7,120.5 373.2,179.3 375.6,122.9 366.4,130.9 400.5,132.9 367.4,147.3 361.1,138.6 394.7,132.2 394.1,200 384.3,119.3 361,124.4 370.9,166.3 355.2,118.3 351.5,132.7 373.5,180.5 402.4,155.8 405.9,120.5 350.1,127.7 339,116.7 387.8,150.2 385.8,168.1 366.3,126.5 377.7,163.9 343.6,119.3 387.3,218.6 393.5,168.1 357.8,131.8 401.6,131.1 409,118.6 375.5,132.8 396.9,122.2 382.7,172.6 365.9,156 388.9,146.5 393.1,211.3 359.1,120.7 403.1,150.2 359.8,136.8 369.4,173.2 394.7,140.7 396.6,157.1 374.2,151.5 385,128.1 404,138.7 367.2,121.4 365.5,155.8 350.2,118.8 388.9,115.8 389.1,161.6 351.9,121 367,124.6 380.2,126.5 382.7,207.2 383.8,127.5 382.2,176.4 374.1,189.3 389.5,169 360.9,144.4 398.6,133.2 373.4,194.6 393.2,128.2 385,181 377,163.8 378.3,164.6 380.9,116.9 375.2,139.4 378.3,173.8 397,159 365,118.2 392.2,151.7 374.8,118.5 396.2,125 347.5,116.2 402.5,122.7 395.3,195.4 396.4,145.7 384.1,204.7 362.7,141.2 386.5,163.7 389.5,170.9 359.3,134.6 368.2,115.5 341.6,120.5 384.9,212.6 387.3,216.2 366.4,119.8 349.4,120.6 393.7,199.9 403,124.5 402,138.7 348.4,128.9 382.6,198.9 344.9,120.1 348.9,115.8 396,129 376.3,144.1 394.3,146.5 389.6,121.1 393,137.1 375.3,136 402.6,142.7 365.4,132.3 386.3,151.8 364.1,126.8 396.8,126.4 395.8,159.1 399.1,117.9 386.3,207.4 358.3,119.2 369.7,132.9 338.7,115.9 373.8,150.3 386.3,150.5 389.3,118.3 390.2,136.4 364.9,126.3 402.2,118 403.3,123.9 388.1,169.2 388.6,162.2 384.9,129.9 337.9,116.4 382.2,142.5 390.6,179.4 387.8,128.8 361.3,143.7 378.2,168.4 390.7,143 400.6,163.4 362.5,137.7 383.2,140.1 346.9,133.9 357.7,120.5 340.8,118.6 398.7,169.2 368,137.4 355.1,135.7 350.2,136.6 382.2,119.6 374.2,132.1 381,132.7 374.4,171 367,125.8 339.8,121.7 366.6,133.1 370.8,118.2 343.9,118.9 389.7,149.7 396,197.4 363.6,134.4 372.9,119.9 401.9,154.8 389.4,170.5 350.2,129.3 388.5,196.4 395.4,152 396.8,176.8 401.9,156.5 393.4,119.9 365.6,138.4 391.9,119.5 387.9,147.2 398.6,124.9 340.1,125.1 379.8,115 399.5,168.5 381.2,131.2 373,175.9 350.5,126.1 359,141.6 382,210.8 368.3,147.3 385.1,167.9 387.2,115.7 342,126.2 380.7,180.7 380.9,155.4 346.8,119.1 387.5,143.7 341.7,121.8 359.4,116.7 391.6,206.1 374.2,117.9 390.5,123.9 377.7,182.2 384.2,126.3 341.3,121.6 338.4,117.5 389,158.1 358.4,116.4 402.4,118.1 396.7,127.4 386.6,162.5 385.7,127.7 358.3,118.3 376.7,148.6 399,164.5 371.9,151.4 365.5,129.6 380.6,127.6 395.3,200.3 399.3,166.9 412.9,122.5 406.7,124.9 377.2,195.7 382.2,149.4 350.8,135.1 372,178.5 372.7,183.8 384.9,150.9 368.9,178.7 387.7,177.7 368.4,142.5 360.4,123 373.2,128.6 380.6,121.3 370.5,173.8 383.8,218.9 368.6,124.5 378,118.8 352.5,127.9 346.2,130.2 391.2,167.5 375.2,117.8 359.9,125.4 387.7,147.4 384.7,121.7 408.8,119.6 371.3,158.2 402.6,121.8 408.3,116.6 407.9,122.6 375,144.3 379.5,134.9 400,139.1 379.8,165.5 349.6,115 397.2,197.8 365.7,133.6 369.1,117.7 390.4,118.7 369.4,117.3 376.4,127.9 398.8,161.8 376.4,155.5 401.7,118.9 401.7,142.6 377.1,119.9 362.7,123.1 403.5,134 382.5,126.9 345.9,118.8 377.7,171.4 343.1,122.5 385.9,160.7 373.8,124.1 334.3,115 436.7,89.4 450.5,101.8 440.1,74.8 438.7,86 428.5,95.1 471.9,65.5 446.9,82 470.7,96 450.8,74 423.8,83 420,103.9 430.3,114.1 440,107.6 430.1,95.1 439.1,108.6 476.1,112.6 417.1,107.9 423.9,101.8 458.3,57.9 459.7,111 434.6,72.9 423.9,114.8 438.5,87 457.1,91.2 435.6,83.4 446.4,97.2 443,115 473.6,115 452.2,113.4 438.9,62.7 441.1,66.3 427.4,95.2 464.7,88.3 431.2,52.1 426.6,107.7 437.9,83.4 455,106.4 447.4,90.4 415.6,102.1 450.2,103.8 460.3,115 459.7,53.5 432,109.1 423.9,88.9 440.2,98.2 432.3,76.5 481.1,112.8 456.2,91.7 437.1,72.8 467.1,97.8 451.3,106.8 420.7,88.6 432.6,73.4 434.7,111.7 476.1,79.9 453.6,107.9 431.1,85.1 469.1,71.5 440.9,97.1 487.4,109.6 448.7,100.2 416.3,98.6 441.5,113.1 455.5,108.8 442.9,66.2 454.8,79 425.3,75.1 416.8,113.2 425.3,115 453.5,95.6 432.9,88.6 466.5,110.5 464.2,93.5 427.6,98.4 422.4,103.1 455.3,91.4 457.4,74.5 473,83.6 439.1,62.9 418.8,99.3 461.4,97.7 451.1,90.5 480.7,110.1 436.9,115 415.7,112.2 422.2,110.1 472.7,114.2 439.3,53.5 423.8,83.6 419.1,114.5 453.5,115 439.6,80.4 460.4,69.2 451.7,115 433.3,103.9 451.7,115 441.1,95.1 455.5,80.5 434.1,113.8 436.9,92.9 430,84.3 427.9,97.7 441.5,95.1 452,92 450.5,108.2 431.2,115 440.8,87.9 443.1,102.4 432.6,86.8 452.4,83.7 438.7,93.7 425.6,78.6 456.3,79.9 430.2,79.3 439.2,69.8 462.7,100.1 427.5,75 448.6,95.8 450.7,98.6 435.3,103.9 426.6,108.9 441.6,97.8 433.4,47.9 440.7,94.1 428.3,80.8 441.4,115 476.6,103.9 415.4,108.3 449.7,110.3 442.2,89.8 469,115 462.4,110.7 443.8,106.8 434.6,100.8 479.3,111.2 466.8,80.5 472.5,107.2 424.7,95.6 441.1,111.4 444.5,99.2 436.5,62.7 432.9,101.5 438,112.4 430.1,115 481,110.2 474.5,86.4 452.5,99.2 449.8,113.1 487.2,113.8 446,75.5 461.9,98.8 419.6,102.7 442.5,88.4 431.2,63.4 424.7,105.1 468.7,66.8 459.6,57.3 439.3,62.2 427.2,111.3 464.8,108.5 439.2,106.5 463.5,113.3 451.6,99.3 458.9,53.5 451.1,53.5 481.7,78.7 433.8,79.6 471.5,87 452.6,71 457.1,95.9 485.7,105.4 419.8,107.1 435.2,100.4 459.1,100 464.1,114.9 434.3,99.5 444.7,37.9 470.2,86.6 483.7,94.9 483.4,109.1 432.2,50.3 440.5,112.1 442.8,105.1 445.3,112.2 470.3,81.5 445.3,113.2 436.4,48.8 453.1,100.3 464.1,84.5 451.6,113 477.4,100.4 485,106.1 460.8,95.8 473.1,115 424.8,88 450.2,91.6 418.3,85.7 435.3,110.6 453.7,85.9 456.5,97.4 467.5,115 468.4,109 435.4,105.3 443.3,101.7 462.7,112.7 432.2,115 472.3,108 419.5,115 440.4,113 420.8,82.7 435.9,78.4 468.7,88.5 485.6,108.3 442.6,115 433.6,89.6 437.9,77.3 468.4,68.8 431.3,89.4 462.5,114.2 437.2,64.9 434.3,88.7 474,86.4 432.7,53 479.1,87 443.4,109.8 489.1,111.6 459.6,92.3 468.1,90.7 448.2,106.2 483.1,111.6 458.4,108 443.1,74.7 422.3,105.8 431.2,72.3 470.9,88.4 479.1,115 419.4,112.9 441.9,97.1 443.6,74 429.5,108.6 419.7,104.5 470.5,98.6 467.6,113.3 472.7,105.4 436.6,112 473,114.8 483.9,93.1 464.7,109.7 438.9,87.3 440.2,69.6 446.1,107.1 475.9,89.5 446,94.2 442.6,115 422.7,91.2 437.9,107.3 432.3,103.7 444.8,82.4 444.9,105.3 431.4,107 424.7,92.9 453.2,108.2 433.9,81.2 455,114 449.5,84.3 471.3,115 434.9,115 483.4,113.1 469,108 445.8,81.8 439,96.5 432.2,107.7 449.5,56.7 430.8,96.6 439.3,66 422.9,63.4 455.3,92.9 451.3,91.2 456.1,81 468.8,94.3 448.5,106.1 440.1,105.5 434.4,69.4 447.1,83.3 443.1,97.3 443.2,113.9 435.2,102.9 431.5,66.1 464.6,63.5 484,115 455.3,57.4 451.5,110.3 430.1,78.5 443.5,93.1 479,91.5 481.8,77.3 423.8,95.1 468.6,77 432.6,108.3 479.5,96.6 433.1,108.9 462.7,99.5 481.1,107.4 421.3,102.7 416.3,115 447.7,78 442.8,108.8 479,115 436.4,107.8 417.8,103.5 471.2,102.8 451.3,83.5 446.8,110.9 453,91.1 474.8,97.3 434.9,108.1 434.3,106.7 486.8,113.6 446.9,115 419.8,115 461.8,98.4 449.3,102.9 421.3,105.1 440.2,87.3 450.9,45.2 470.8,112.4 454.9,115 453.4,91.1 460.7,107.3 442.3,88.6 466,98.7 459.1,95.5 425.4,115 459.2,95.4 473.6,106.4 479.3,106 443.3,81 427.1,74.9 449.5,102.5 425.7,101.5 449.8,105.9 460.8,115 450.9,115 457,106.4 460.9,109 445,100.5 434.7,82.5 464,114.6 446.5,99.3 457.3,115 440.8,99.9 474.8,80.8 441.2,75 451.3,101.1 453.2,102.3 447.5,102.6 464.6,102.7 435.2,87.2 422.8,110.9 429.2,92.2 442.6,62 457.5,104.1 429.1,76.6 442.3,73 453,80.8 432.1,78.2 453.8,80.9 454.2,65.5 433.3,107.9 473.5,90.2 480.2,106 477.7,107.7 433.1,113.7 437.9,94.2 448.2,79.8 466.3,111.2 418.3,115 434.4,109.6 454.3,62 433.1,62.3 432.8,107.6 489.2,111.4 451.7,80.3 456.7,92.9 425,110.9 436.6,53.7 427.2,112.5 434.2,55.3 427.9,103.6 426.6,115 462.4,104.7 435.6,85.6 473.8,89 415.8,103.1 437.7,107.9 436.8,102.3 441.5,102.9 450.1,87.7 446.3,103.9 439,82.3 438.6,81.7 458.1,58.5 437.5,53 457.1,70.5 446.2,67 433.7,59.5 461.3,83.3 448,65.5 453.3,114.5 424,112.9 444.1,99.6 446.7,91.1 441.9,93.2 440.1,60 427.8,114.5 445.9,99 463.1,100.2 450.3,100.6 437.2,77.7 431.3,111.9 440.2,93.1 437.4,53.6 431.1,54.8 441.9,103.3 439.4,69.8 447.7,99.2 467.6,96.1 439.4,69.9 455.7,102.4 430,115 433.7,51.5 470.3,115 460.7,113.6 458.4,97.8 466.8,72.6 473.6,80.6 478.6,112.9 459.3,104.1 477.6,98.9 435.2,85.9 445,74.2 431.1,110.9 426.1,55.3 441.2,64.9 438.6,115 453,69 441.7,64.3 429.2,106.7 445.8,112.6 438.2,104.5 462.4,89.7 456.6,92.2 480.9,98.5 482.4,75.8 449.9,46.7 434.8,99.5 449.3,104.5 436.7,81.9 447,44.3 461.8,89.9 459.1,60.6 444.1,75.9 437,115 419.2,91.6 470.2,65.9 467.8,64.6 451.6,70.5 465.7,88.5 431.3,51.7 454.8,106.8 436.4,109.8 466.9,115 441.4,87.6 445.1,100.3 439.8,88 442.6,71 471.4,113.9 483.6,93.2 435.2,115 465.2,91.2 481.2,111.8 447,83.5 451.2,103.2 467,88.8 454.9,82.7 447.9,84.2 473.9,90.4 449.1,71.2 463.9,87.5 476.1,74.8 437.6,115 467.9,94.1 431,115 448.1,91.5 454.5,89.6 470.1,106.7 437.5,91.4 483,114.8 461.1,74 476.9,115 434.6,92.1 448.4,47.4 443.8,115 481.7,113.1 466.1,114.5 429.7,100.5 475.5,112.2 439.6,115 444.8,64.1 422.1,115 446.6,73.6 474.9,111.7 444.3,95.3 419.6,113 468.8,96.7 444.6,89.7 425.9,94.1 457.2,104.3 430.9,88.9 451.8,115 442.2,93.3 434.2,96.8 442.9,99.2 436.7,76.1 444.6,110.7 450.4,65.6 446.3,112.4 422.2,97.4 449.6,114.1 479.5,115 469.7,95.4 442.4,83.6 462.7,69.2 430,115 458.1,86.8 430.4,107.8 424.3,112 455,70 439.4,72.8 446.8,68.6 421.6,105.8 433.1,106 424,111.3 477.4,70.7 426.8,105.6 476.6,66.7 423.4,114.6 431.8,109.4 458.1,80 453.1,96.7 421.7,92 438.3,103 427.6,96.2 438.5,99.6 439.5,115 448,89.4 461,100.2 419.5,109.8 455.9,67.5 477.7,94.6 438.4,92.7 454.9,104 443.6,87.8 436.5,78.3 447.6,114.1 422.5,100.3 456,95.7 448,113.7 435,74.8 419.5,108.8 477.7,105.6 454.5,84.8 421.1,90.4 464.1,93 426.4,114.1 444,80.7 427,109 476.5,115 453.6,109.9 456.5,91.5 438.9,96.4 438,110.9 422.9,109.9 472.3,111.9 427.8,103.4 451.8,97.4 432.1,107.2 425.3,94.8 421.3,79.2 438,91.2 426.8,105.2 468.6,112.5 451.8,91.9 430.7,91 418.8,114.2 444.6,100.7 468.8,103.2 434.2,95.3 450.1,43.8 433.9,62.4 483,112.7 434.2,81.6 432.1,111.1 452,113.4 436.1,73.2 470.6,92.3 462.1,77 456.9,115 480.7,114.1 442.7,92.9 420.7,81.1 437.5,113.6 434.3,102.5 430.4,96.9 441.3,106.6 422.7,95.3 413.2,104.6 447.3,97 428.8,109.1 467.2,115 426.5,96.2 425.4,89.3 450.5,110.1 465.4,71.1 463.5,97.5 470.5,104.8 444.3,86.6 434.2,99.9 418.4,110.2 479.3,102 450.6,54.2 479.1,91.8 468.4,110.5 454.9,53.3 462.2,66.4 430.1,51.7 474.5,76.6 469.7,97.1 444.9,93.1 443.1,64.6 445.8,95.4 449.6,92 429.8,103.5 480.1,101.2 439.2,93.8 420.1,115 451.2,45.7 428.5,80.3 491.1,111.5 477.6,103.8 461.4,111.5 423.2,70.2 468.8,100.1 430.7,93.4 453.1,111.7 430.1,88.4 458.6,108.1 457.8,103.2 439,105 433.8,64.4 468.8,111.9 479.3,95.5 430,66.9 488.7,113.2 449.5,94.6 437.9,76.5 445.4,100.5 423,92.1 446.6,106.6 451.3,112.3 446.9,43.7 419.5,107.8 460.3,111.1 445.6,105.5 430,114.9 468,101.3 452.4,91.3 417.8,106.9 442.9,43.8 462,107.4 454.1,84.2 440.5,107.3 464.8,114.9 444.7,115 429.5,101.7 428.1,72.5 474,114.9 434.8,110.8 450.6,97 434.2,102.9 437.7,63.1 437.9,114.4 416.7,88 415.8,114.5 424.9,103 459.2,114.9 435.6,115 443.3,94.7 452.3,95.6 446.6,108.7 473.7,97 463.4,73.2 472.3,73.1 436.9,97.8 486.2,100.4 480.4,109.9 454.8,113.1 465.2,96.7 430.7,104.5 483.6,95.5 431.3,72.5 464.6,105.8 419.8,109.8 462.5,115 449.8,98.6 441.5,106.8 435.3,111.1 444.8,100.1 436.3,78.5 439.6,48.6 487.6,115 439.9,51 471.4,93.7 443.6,87.9 470.9,112.9 458.1,88.3 470.3,80.2 459.1,113.1 452.3,115 473.1,97.8 455.2,107 467.8,58.7 455.7,78.4 444.1,93.7 436,81.4 437.8,101.4 468.1,102.3 434.7,91.6 436.3,84.5 484.2,109.9 455.8,91.2 438.5,115 457,88.6 443.4,75.5 423.1,101.2 474.9,95 421.9,103.9 479.3,83.3 442.1,54.7 448.3,96 445.4,110.4 444.2,110.1 468.8,93 438.4,38.6 486.7,111 450.1,114.6 467.7,93.4 429.9,115 431,109.6 437.3,106.5 471.5,97.1 441.7,108.4 465,67.7 456.1,85.5 430.6,66.3 445.9,92.4 427.6,96.1 446.3,102.2 429.8,115 455.4,63.6 444,100.1 450.8,44.4 443.6,65.7 449.6,55.8 442.3,70 436.7,112.8 480.6,112.1 447.5,71.4 428.8,103.9 439.2,68.5 462.9,93.2 448.3,101.2 445.1,111.5 449.8,115 459,109.8 484.7,114.4 428.4,111.8 478.5,94.4 444.3,41.6 452.3,95.5 442.5,71.9 444.1,65.5 441.2,85.6 462.2,89.6 445.3,111.3 462.6,108.3 426,99.2 418.7,100 433.8,107.1 433.4,106.9 434.5,114.4 443.3,71.5 455.2,96.9 474.7,100.4 487.3,102.7 453.9,98.1 474.2,101.3 446.9,105.2 460.7,91.7 473.1,103.7 456.9,90 441.7,105.3 466.4,115 462.7,90.2 484.3,105.1 466.6,67.6 450.3,90.9 433.3,115 415.5,108.1 433.3,90 457.9,72.7 428.8,71.7 457.8,92.1 434.9,93 429.8,110.8 470.6,85.3 427.5,95.5 469.6,113.9 451.6,103.7 435.1,115 433.6,99.1 450.6,115 434.8,102.4 451.3,51.7 452.1,85.6 418.6,96.2 434.9,53.9 459.7,99 428.2,62.6 461,69.7 463.2,86.5 466.7,112.5 472.7,112.9 439.7,115 479.8,99.5 421.1,115 422.5,101.1 450.8,111.4 422.9,113.3 447.1,43.1 437.2,68.6 456.4,108.6 442.8,113.2 438.1,68.1 454.7,95.4 482.9,79.1 433.5,109 423.3,93 429.4,114.6 475.9,114.1 459.6,84.4 413.5,109.9 432.3,105.6 462.5,65.5 428.5,105.4 445.4,115 431.1,115 436,99.3 443.6,114.7 445.2,107.9 470.6,110 445.2,95 480.3,82.5 447,64.4 444.3,106 436.3,100.4 440.8,93.7 483.6,102.7 448,94 430.8,112.2 427.7,101.3 453.5,93.7 448.4,105.6 446.3,115 452.1,109.4 423.9,77.5 422.9,98 435.8,96.7 435.8,62.5 458.4,107.7 471.3,115 449.7,105.2 464.1,102.2 464.6,109.7 441.3,78.6 449.5,68.4 465.4,71.9 480.2,111.2 465.7,92.4 442.1,92.7 425.4,99.3 434.2,95.6 447.5,75.7 432.2,109.9 460,113.9 435.1,114.4 443,91.5 441.4,91.2 485.5,105 442.2,85.2 455.7,91 481,115 460.5,103.4 458.6,100.9 467.6,96.9 441.5,92.4 433.7,74.5 433.1,110.7 425.9,82.4 424,76.2 470.8,108 476.8,93.7 467.2,112.2 432.9,79.5 420.5,112.2 460.1,89.8 448.5,98.5 450.4,96.5 441.4,115 451.1,111.6 460.5,104.8 445.3,88.7 442.9,102.3 443.1,99.8 420.4,93.1 440,94.5 440.8,80.6 434.4,62.3 457.1,105.2 465.2,98.2 441.2,85.5 459.9,107.1 446.7,113.4 437.1,115 419.2,95.8 437.2,110.1 472.7,114.5 468.2,85.8 479.3,103.5 464,102.1 453.5,57.9 422.2,102.9 423.7,77.8 468.4,71.9 428.1,84.8 427.4,106.3 475.8,69.2 442.1,88.3 425,113.6 433.1,112.1 436.7,140.6 450.5,128.2 440.1,155.2 438.7,144 428.5,134.9 471.9,164.5 446.9,148 470.7,134 450.8,156 423.8,147 420,126.1 430.3,115.9 440,122.4 430.1,134.9 439.1,121.4 476.1,117.4 417.1,122.1 423.9,128.2 458.3,172.1 459.7,119 434.6,157.1 423.9,115.2 438.5,143 457.1,138.8 435.6,146.6 446.4,132.8 452.2,116.6 438.9,167.3 441.1,163.7 427.4,134.8 464.7,141.7 431.2,177.9 426.6,122.3 437.9,146.6 455,123.6 447.4,139.6 415.6,127.9 450.2,126.2 460.3,115 459.7,176.5 432,120.9 423.9,141.1 440.2,131.8 432.3,153.5 481.1,117.2 456.2,138.3 437.1,157.2 467.1,132.2 451.3,123.2 420.7,141.4 432.6,156.6 434.7,118.3 476.1,150.1 453.6,122.1 431.1,144.9 469.1,158.5 440.9,132.9 487.4,120.4 448.7,129.8 416.3,131.4 441.5,116.9 455.5,121.2 442.9,163.8 454.8,151 425.3,154.9 416.8,116.8 453.5,134.4 432.9,141.4 466.5,119.5 464.2,136.5 427.6,131.6 422.4,126.9 455.3,138.6 457.4,155.5 473,146.4 439.1,167.1 418.8,130.7 461.4,132.3 451.1,139.5 480.7,119.9 415.7,117.8 422.2,119.9 472.7,115.8 439.3,176.5 423.8,146.4 419.1,115.5 439.6,149.6 460.4,160.8 433.3,126.1 441.1,134.9 455.5,149.5 434.1,116.2 436.9,137.1 430,145.7 427.9,132.3 441.5,134.9 452,138 450.5,121.8 440.8,142.1 443.1,127.6 432.6,143.2 452.4,146.3 438.7,136.3 425.6,151.4 456.3,150.1 430.2,150.7 439.2,160.2 462.7,129.9 427.5,155 448.6,134.2 450.7,131.4 435.3,126.1 426.6,121.1 441.6,132.2 433.4,182.1 440.7,135.9 428.3,149.2 476.6,126.1 415.4,121.7 449.7,119.7 442.2,140.2 462.4,119.3 443.8,123.2 434.6,129.2 479.3,118.8 466.8,149.5 472.5,122.8 424.7,134.4 441.1,118.6 444.5,130.8 436.5,167.3 432.9,128.5 438,117.6 481,119.8 474.5,143.6 452.5,130.8 449.8,116.9 487.2,116.2 446,154.5 461.9,131.2 419.6,127.3 442.5,141.6 431.2,166.6 424.7,124.9 468.7,163.2 459.6,172.7 439.3,167.8 427.2,118.7 464.8,121.5 439.2,123.5 463.5,116.7 451.6,130.7 458.9,176.5 451.1,176.5 481.7,151.3 433.8,150.4 471.5,143 452.6,159 457.1,134.1 485.7,124.6 419.8,122.9 435.2,129.6 459.1,130 464.1,115.1 434.3,130.5 444.7,192.1 470.2,143.4 483.7,135.1 483.4,120.9 432.2,179.7 440.5,117.9 442.8,124.9 445.3,117.8 470.3,148.5 445.3,116.8 436.4,181.2 453.1,129.7 464.1,145.5 451.6,117 477.4,129.6 485,123.9 460.8,134.2 424.8,142 450.2,138.4 418.3,144.3 435.3,119.4 453.7,144.1 456.5,132.6 468.4,121 435.4,124.7 443.3,128.3 462.7,117.3 472.3,122 440.4,117 420.8,147.3 435.9,151.6 468.7,141.5 485.6,121.7 433.6,140.4 437.9,152.7 468.4,161.2 431.3,140.6 462.5,115.8 437.2,165.1 434.3,141.3 474,143.6 432.7,177 479.1,143 443.4,120.2 489.1,118.4 459.6,137.7 468.1,139.3 448.2,123.8 483.1,118.4 458.4,122 443.1,155.3 422.3,124.2 431.2,157.7 470.9,141.6 419.4,117.1 441.9,132.9 443.6,156 429.5,121.4 419.7,125.5 470.5,131.4 467.6,116.7 472.7,124.6 436.6,118 473,115.2 483.9,136.9 464.7,120.3 438.9,142.7 440.2,160.4 446.1,122.9 475.9,140.5 446,135.8 422.7,138.8 437.9,122.7 432.3,126.3 444.8,147.6 444.9,124.7 431.4,123 424.7,137.1 453.2,121.8 433.9,148.8 455,116 449.5,145.7 483.4,116.9 469,122 445.8,148.2 439,133.5 432.2,122.3 449.5,173.3 430.8,133.4 439.3,164 422.9,166.6 455.3,137.1 451.3,138.8 456.1,149 468.8,135.7 448.5,123.9 440.1,124.5 434.4,160.6 447.1,146.7 443.1,132.7 443.2,116.1 435.2,127.1 431.5,163.9 464.6,166.5 455.3,172.6 451.5,119.7 430.1,151.5 443.5,136.9 479,138.5 481.8,152.7 423.8,134.9 468.6,153 432.6,121.7 479.5,133.4 433.1,121.1 462.7,130.5 481.1,122.6 421.3,127.3 447.7,152 442.8,121.2 436.4,122.2 417.8,126.5 471.2,127.2 451.3,146.5 446.8,119.1 453,138.9 474.8,132.7 434.9,121.9 434.3,123.3 486.8,116.4 461.8,131.6 449.3,127.1 421.3,124.9 440.2,142.7 450.9,184.8 470.8,117.6 453.4,138.9 460.7,122.7 442.3,141.4 466,131.3 459.1,134.5 459.2,134.6 473.6,123.6 479.3,124 443.3,149 427.1,155.1 449.5,127.5 425.7,128.5 449.8,124.1 457,123.6 460.9,121 445,129.5 434.7,147.5 464,115.4 446.5,130.7 440.8,130.1 474.8,149.2 441.2,155 451.3,128.9 453.2,127.7 447.5,127.4 464.6,127.3 435.2,142.8 422.8,119.1 429.2,137.8 442.6,168 457.5,125.9 429.1,153.4 442.3,157 453,149.2 432.1,151.8 453.8,149.1 454.2,164.5 433.3,122.1 473.5,139.8 480.2,124 477.7,122.3 433.1,116.3 437.9,135.8 448.2,150.2 466.3,118.8 434.4,120.4 454.3,168 433.1,167.7 432.8,122.4 489.2,118.6 451.7,149.7 456.7,137.1 425,119.1 436.6,176.3 427.2,117.5 434.2,174.7 427.9,126.4 462.4,125.3 435.6,144.4 473.8,141 415.8,126.9 437.7,122.1 436.8,127.7 441.5,127.1 450.1,142.3 446.3,126.1 439,147.7 438.6,148.3 458.1,171.5 437.5,177 457.1,159.5 446.2,163 433.7,170.5 461.3,146.7 448,164.5 453.3,115.5 424,117.1 444.1,130.4 446.7,138.9 441.9,136.8 440.1,170 427.8,115.5 445.9,131 463.1,129.8 450.3,129.4 437.2,152.3 431.3,118.1 440.2,136.9 437.4,176.4 431.1,175.2 441.9,126.7 439.4,160.2 447.7,130.8 467.6,133.9 439.4,160.1 455.7,127.6 433.7,178.5 460.7,116.4 458.4,132.2 466.8,157.4 473.6,149.4 478.6,117.1 459.3,125.9 477.6,131.1 435.2,144.1 445,155.8 431.1,119.1 426.1,174.7 441.2,165.1 438.6,115 453,161 441.7,165.7 429.2,123.3 445.8,117.4 438.2,125.5 462.4,140.3 456.6,137.8 480.9,131.5 482.4,154.2 449.9,183.3 434.8,130.5 449.3,125.5 436.7,148.1 447,185.7 461.8,140.1 459.1,169.4 444.1,154.1 419.2,138.4 470.2,164.1 467.8,165.4 451.6,159.5 465.7,141.5 431.3,178.3 454.8,123.2 436.4,120.2 441.4,142.4 445.1,129.7 439.8,142 442.6,159 471.4,116.1 483.6,136.8 465.2,138.8 481.2,118.2 447,146.5 451.2,126.8 467,141.2 454.9,147.3 447.9,145.8 473.9,139.6 449.1,158.8 463.9,142.5 476.1,155.2 467.9,135.9 448.1,138.5 454.5,140.4 470.1,123.3 437.5,138.6 483,115.2 461.1,156 434.6,137.9 448.4,182.6 481.7,116.9 466.1,115.5 429.7,129.5 475.5,117.8 444.8,165.9 446.6,156.4 474.9,118.3 444.3,134.7 419.6,117 468.8,133.3 444.6,140.3 425.9,135.9 457.2,125.7 430.9,141.1 442.2,136.7 434.2,133.2 442.9,130.8 436.7,153.9 444.6,119.3 450.4,164.4 446.3,117.6 422.2,132.6 449.6,115.9 469.7,134.6 442.4,146.4 462.7,160.8 458.1,143.2 430.4,122.2 424.3,118 455,160 439.4,157.2 446.8,161.4 421.6,124.2 433.1,124 424,118.7 477.4,159.3 426.8,124.4 476.6,163.3 423.4,115.4 431.8,120.6 458.1,150 453.1,133.3 421.7,138 438.3,127 427.6,133.8 438.5,130.4 448,140.6 461,129.8 419.5,120.2 455.9,162.5 477.7,135.4 438.4,137.3 454.9,126 443.6,142.2 436.5,151.7 447.6,115.9 422.5,129.7 456,134.3 448,116.3 435,155.2 419.5,121.2 477.7,124.4 454.5,145.2 421.1,139.6 464.1,137 426.4,115.9 444,149.3 427,121 453.6,120.1 456.5,138.5 438.9,133.6 438,119.1 422.9,120.1 472.3,118.1 427.8,126.6 451.8,132.6 432.1,122.8 425.3,135.2 421.3,150.8 438,138.8 426.8,124.8 468.6,117.5 451.8,138.1 430.7,139 418.8,115.8 444.6,129.3 468.8,126.8 434.2,134.7 450.1,186.2 433.9,167.6 483,117.3 434.2,148.4 432.1,118.9 452,116.6 436.1,156.8 470.6,137.7 462.1,153 480.7,115.9 442.7,137.1 420.7,148.9 437.5,116.4 434.3,127.5 430.4,133.1 441.3,123.4 422.7,134.7 413.2,125.4 447.3,133 428.8,120.9 426.5,133.8 425.4,140.7 450.5,119.9 465.4,158.9 463.5,132.5 470.5,125.2 444.3,143.4 434.2,130.1 418.4,119.8 479.3,128 450.6,175.8 479.1,138.2 468.4,119.5 454.9,176.7 462.2,163.6 430.1,178.3 474.5,153.4 469.7,132.9 444.9,136.9 443.1,165.4 445.8,134.6 449.6,138 429.8,126.5 480.1,128.8 439.2,136.2 451.2,184.3 428.5,149.7 491.1,118.5 477.6,126.2 461.4,118.5 423.2,159.8 468.8,129.9 430.7,136.6 453.1,118.3 430.1,141.6 458.6,121.9 457.8,126.8 439,125 433.8,165.6 468.8,118.1 479.3,134.5 430,163.1 488.7,116.8 449.5,135.4 437.9,153.5 445.4,129.5 423,137.9 446.6,123.4 451.3,117.7 446.9,186.3 419.5,122.2 460.3,118.9 445.6,124.5 430,115.1 468,128.7 452.4,138.7 417.8,123.1 442.9,186.2 462,122.6 454.1,145.8 440.5,122.7 464.8,115.1 429.5,128.3 428.1,157.5 474,115.1 434.8,119.2 450.6,133 434.2,127.1 437.7,166.9 437.9,115.6 416.7,142 415.8,115.5 424.9,127 459.2,115.1 443.3,135.3 452.3,134.4 446.6,121.3 473.7,133 463.4,156.8 472.3,156.9 436.9,132.2 486.2,129.6 480.4,120.1 454.8,116.9 465.2,133.3 430.7,125.5 483.6,134.5 431.3,157.5 464.6,124.2 419.8,120.2 449.8,131.4 441.5,123.2 435.3,118.9 444.8,129.9 436.3,151.5 439.6,181.4 439.9,179 471.4,136.3 443.6,142.1 470.9,117.1 458.1,141.7 470.3,149.8 459.1,116.9 473.1,132.2 455.2,123 467.8,171.3 455.7,151.6 444.1,136.3 436,148.6 437.8,128.6 468.1,127.7 434.7,138.4 436.3,145.5 484.2,120.1 455.8,138.8 457,141.4 443.4,154.5 423.1,128.8 474.9,135 421.9,126.1 479.3,146.7 442.1,175.3 448.3,134 445.4,119.6 444.2,119.9 468.8,137 438.4,191.4 486.7,119 450.1,115.4 467.7,136.6 431,120.4 437.3,123.5 471.5,132.9 441.7,121.6 465,162.3 456.1,144.5 430.6,163.7 445.9,137.6 427.6,133.9 446.3,127.8 455.4,166.4 444,129.9 450.8,185.6 443.6,164.3 449.6,174.2 442.3,160 436.7,117.2 480.6,117.9 447.5,158.6 428.8,126.1 439.2,161.5 462.9,136.8 448.3,128.8 445.1,118.5 459,120.2 484.7,115.6 428.4,118.2 478.5,135.6 444.3,188.4 452.3,134.5 442.5,158.1 444.1,164.5 441.2,144.4 462.2,140.4 445.3,118.7 462.6,121.7 426,130.8 418.7,130 433.8,122.9 433.4,123.1 434.5,115.6 443.3,158.5 455.2,133.1 474.7,129.6 487.3,127.3 453.9,131.9 474.2,128.7 446.9,124.8 460.7,138.3 473.1,126.3 456.9,140 441.7,124.7 462.7,139.8 484.3,124.9 466.6,162.4 450.3,139.1 415.5,121.9 433.3,140 457.9,157.3 428.8,158.3 457.8,137.9 434.9,137 429.8,119.2 470.6,144.7 427.5,134.5 469.6,116.1 451.6,126.3 433.6,130.9 434.8,127.6 451.3,178.3 452.1,144.4 418.6,133.8 434.9,176.1 459.7,131 428.2,167.4 461,160.3 463.2,143.5 466.7,117.5 472.7,117.1 479.8,130.5 422.5,128.9 450.8,118.6 422.9,116.7 447.1,186.9 437.2,161.4 456.4,121.4 442.8,116.8 438.1,161.9 454.7,134.6 482.9,150.9 433.5,121 423.3,137 429.4,115.4 475.9,115.9 459.6,145.6 413.5,120.1 432.3,124.4 462.5,164.5 428.5,124.6 436,130.7 443.6,115.3 445.2,122.1 470.6,120 445.2,135 480.3,147.5 447,165.6 444.3,124 436.3,129.6 440.8,136.3 483.6,127.3 448,136 430.8,117.8 427.7,128.7 453.5,136.3 448.4,124.4 452.1,120.6 423.9,152.5 422.9,132 435.8,133.3 435.8,167.5 458.4,122.3 449.7,124.8 464.1,127.8 464.6,120.3 441.3,151.4 449.5,161.6 465.4,158.1 480.2,118.8 465.7,137.6 442.1,137.3 425.4,130.7 434.2,134.4 447.5,154.3 432.2,120.1 460,116.1 435.1,115.6 443,138.5 441.4,138.8 485.5,125 442.2,144.8 455.7,139 460.5,126.6 458.6,129.1 467.6,133.1 441.5,137.6 433.7,155.5 433.1,119.3 425.9,147.6 424,153.8 470.8,122 476.8,136.3 467.2,117.8 432.9,150.5 420.5,117.8 460.1,140.2 448.5,131.5 450.4,133.5 451.1,118.4 460.5,125.2 445.3,141.3 442.9,127.7 443.1,130.2 420.4,136.9 440,135.5 440.8,149.4 434.4,167.7 457.1,124.8 465.2,131.8 441.2,144.5 459.9,122.9 446.7,116.6 419.2,134.2 437.2,119.9 472.7,115.5 468.2,144.2 479.3,126.5 464,127.9 453.5,172.1 422.2,127.1 423.7,152.2 468.4,158.1 428.1,145.2 427.4,123.7 475.8,160.8 442.1,141.7 425,116.4 433.1,117.9"/>
<path class="tk" d="M212.50 226.50v-2.8M212.50 3.50v2.8M244.06 226.50v-2.8M244.06 3.50v2.8M275.61 226.50v-2.8M275.61 3.50v2.8M307.17 226.50v-2.8M307.17 3.50v2.8M338.72 226.50v-2.8M338.72 3.50v2.8M370.28 226.50v-2.8M370.28 3.50v2.8M401.83 226.50v-2.8M401.83 3.50v2.8M433.39 226.50v-2.8M433.39 3.50v2.8M464.94 226.50v-2.8M464.94 3.50v2.8M496.50 226.50v-2.8M496.50 3.50v2.8M212.50 3.50h2.8M496.50 3.50h-2.8M212.50 40.67h2.8M496.50 40.67h-2.8M212.50 77.83h2.8M496.50 77.83h-2.8M212.50 115.00h2.8M496.50 115.00h-2.8M212.50 152.17h2.8M496.50 152.17h-2.8M212.50 189.33h2.8M496.50 189.33h-2.8M212.50 226.50h2.8M496.50 226.50h-2.8"/>
<rect class="box" x="212.50" y="3.50" width="284.00" height="223.00"/>
<text class="tl" text-anchor="middle" x="212.5" y="239.0">-4</text>
<text class="tl" text-anchor="middle" x="244.1" y="239.0">-3</text>
<text class="tl" text-anchor="middle" x="275.6" y="239.0">-2</text>
<text class="tl" text-anchor="middle" x="307.2" y="239.0">-1</text>
<text class="tl" text-anchor="middle" x="338.7" y="239.0">0</text>
<text class="tl" text-anchor="middle" x="370.3" y="239.0">1</text>
<text class="tl" text-anchor="middle" x="401.8" y="239.0">2</text>
<text class="tl" text-anchor="middle" x="433.4" y="239.0">3</text>
<text class="tl" text-anchor="middle" x="464.9" y="239.0">4</text>
<text class="tl" text-anchor="middle" x="496.5" y="239.0">5</text>
<text class="tl" text-anchor="end" x="209.5" y="7.3">0.3</text>
<text class="tl" text-anchor="end" x="209.5" y="44.5">0.2</text>
<text class="tl" text-anchor="end" x="209.5" y="81.6">0.1</text>
<text class="tl" text-anchor="end" x="209.5" y="118.8">0</text>
<text class="tl" text-anchor="end" x="209.5" y="156.0">-0.1</text>
<text class="tl" text-anchor="end" x="209.5" y="193.1">-0.2</text>
<text class="tl" text-anchor="end" x="209.5" y="230.3">-0.3</text>
<text class="al" text-anchor="middle" x="353.5" y="251.9">Real</text>
<text class="al" text-anchor="middle" transform="translate(189.7 115.0) rotate(-90)">Imaginary</text>
</g>
<g id="plot-b">
<polyline class="pts" style="marker-start:url(#mb);marker-mid:url(#mb);marker-end:url(#mb)" points="44.6,426 75.9,426 83.5,426 89.6,426 104.8,426 107.1,426 112.3,426 115.6,426 171.5,426 197.5,426 218.8,426 252.4,319.7 299.8,532.3 165.6,422.8 166,428.9 129.6,426.3 163,422.8 159.7,426.3 143.7,426.3 143.2,425.8 142.6,427 165,429.1 145.6,426.3 149.4,424.5 154.7,424.1 130.2,425.6 120,425.9 159,426.3 144.2,425.4 161.4,425.1 163.2,428.1 126.6,426.4 137.1,425.6 141.6,426.1 165.3,423.4 137.6,425.2 146.7,426 154.7,427.9 167.4,426.6 142.2,426.1 168.2,426.5 160.8,426.6 162.3,424.9 147.4,425.2 158.9,424.8 123.9,426.2 155.4,423.7 143.1,426.1 135,426.7 165.2,423.9 122.1,426.1 144.3,424.8 149.6,427.3 168.2,425.3 155.1,424.8 130.7,426.5 152.6,425.1 161.3,428.6 157.6,428.1 151.4,426.8 138.6,425.6 144.7,426.1 164.7,428.8 123.7,425.8 150.3,426.6 137.3,426.7 134,426.2 133.9,425.5 134.9,425.9 164.5,423.7 169,425.9 161.9,424.7 167.8,427 131,426.3 167.9,426.8 135.8,425.9 135.1,426.4 140.8,426.6 145.8,425.9 164.3,426.2 162.8,425.8 129.9,425.8 161.4,424 154.9,427.8 168.2,426 156.1,427.3 144.8,424.8 147.8,424.7 166.4,426.9 120.6,425.9 167.4,424.6 148.1,425 127.8,426.4 165.4,427.6 162.9,425.2 139.3,426.4 147.2,426.8 140,427 141.3,426.8 157.2,423.7 163.1,427.4 132.9,426.4 133.1,426 133,425.8 162.8,424.7 129.3,425.7 146.7,426.4 130.6,425.4 141.1,425.6 127.5,426.3 134.8,425.7 162,424.7 155.9,425.1 155.2,426.8 142.5,426.2 140.5,426 123.5,426.1 143.9,425.2 162.8,428.7 137.9,426.7 135.3,425.4 118.7,425.9 159.1,428.8 129.8,426.2 132,425.7 125,425.9 153.7,427.5 130.6,425.8 156.2,425.5 153.6,427.5 166.7,424.8 141.7,425.2 150.1,424.5 166.4,424.8 153.9,425.6 158.5,423.2 130.7,426.4 165.9,425.3 146.1,426.2 156,428.5 160.7,427.9 141.2,425.8 168.6,426.4 147.3,425.6 161.1,429 147.4,424.9 150.3,426.8 151.8,424.8 143.3,425.7 144.9,426.4 124,426.2 159.8,423.7 163.9,428.3 166.9,425.3 119.2,426.1 156.5,425.3 121.2,426 156.5,426.2 166.7,423.6 149.5,427.4 128.6,425.6 153.3,428 163.7,429 153.3,424.3 153.5,426.6 148.9,426 135,426.6 147,425.5 156.4,428.3 118.4,426 129.2,426.3 162.8,423.1 137.2,425.2 143.5,425.9 128.7,426.1 130.3,425.4 152,424.3 150.6,425.8 145.2,427.3 153.6,427.1 130,425.8 151.7,424.7 127.9,425.7 135.4,425.3 142.5,426.6 137.2,425.3 141.5,426.2 147.9,426 155.8,428.3 128.9,426 154.2,425.7 141.5,425.7 136.1,426 129.1,426.4 147.9,424.7 120.1,426.1 133.4,425.3 141.2,426.4 168.5,425.6 146.7,426.7 147.7,425.1 164.6,426.5 151.6,427.6 155.3,425.8 142.3,426.9 128.7,425.7 134.4,426.5 125.6,425.7 151,427 126.7,426.3 146.6,425.5 137.4,426.4 117.7,426 157.1,423.7 121.3,426 151.3,424.1 145.5,425.6 163.7,425 144.2,427.2 130.3,425.6 144.7,425 147.5,427.4 126,425.9 135.4,426.6 133,425.4 134.8,425.6 161.6,429 139.7,425.4 157,425.6 120.1,426 169,426.1 164,423 146,425.8 125.3,425.8 147.8,426.1 156.5,425.7 139.4,426.1 117.9,426 139.7,426.3 154,423.7 126.5,425.9 149.7,427.8 161.4,423 155.4,424.9 160.8,425 160,428 164.3,423.5 145,426.9 156.5,423.5 167.8,427.3 157.1,425 169.1,426 167.3,425.4 142.4,425.2 129.9,426 138.5,425.6 128.5,426.3 127.5,425.7 146,427.2 166.9,426 166.7,427.5 155.4,427.6 168.3,426.7 139,426.4 131.3,426.4 165.8,428.6 164.8,423.8 139.1,426 159.2,423.8 130.4,425.7 166.9,427.4 138.6,425.5 133.5,425.5"/>
<path class="tk" d="M29.50 537.50v-2.8M29.50 314.50v2.8M76.83 537.50v-2.8M76.83 314.50v2.8M124.17 537.50v-2.8M124.17 314.50v2.8M171.50 537.50v-2.8M171.50 314.50v2.8M218.83 537.50v-2.8M218.83 314.50v2.8M266.17 537.50v-2.8M266.17 314.50v2.8M313.50 537.50v-2.8M313.50 314.50v2.8M29.50 314.50h2.8M313.50 314.50h-2.8M29.50 351.67h2.8M313.50 351.67h-2.8M29.50 388.83h2.8M313.50 388.83h-2.8M29.50 426.00h2.8M313.50 426.00h-2.8M29.50 463.17h2.8M313.50 463.17h-2.8M29.50 500.33h2.8M313.50 500.33h-2.8M29.50 537.50h2.8M313.50 537.50h-2.8"/>
<rect class="box" x="29.50" y="314.50" width="284.00" height="223.00"/>
<text class="tl" text-anchor="middle" x="29.5" y="550.1">-3</text>
<text class="tl" text-anchor="middle" x="76.8" y="550.1">-2</text>
<text class="tl" text-anchor="middle" x="124.2" y="550.1">-1</text>
<text class="tl" text-anchor="middle" x="171.5" y="550.1">0</text>
<text class="tl" text-anchor="middle" x="218.8" y="550.1">1</text>
<text class="tl" text-anchor="middle" x="266.2" y="550.1">2</text>
<text class="tl" text-anchor="middle" x="313.5" y="550.1">3</text>
<text class="tl" text-anchor="end" x="26.5" y="318.3">3</text>
<text class="tl" text-anchor="end" x="26.5" y="355.5">2</text>
<text class="tl" text-anchor="end" x="26.5" y="392.6">1</text>
<text class="tl" text-anchor="end" x="26.5" y="429.8">0</text>
<text class="tl" text-anchor="end" x="26.5" y="467.0">-1</text>
<text class="tl" text-anchor="end" x="26.5" y="504.1">-2</text>
<text class="tl" text-anchor="end" x="26.5" y="541.3">-3</text>
<text class="al" text-anchor="middle" x="173.1" y="563.2">Real</text>
<text class="al" text-anchor="middle" transform="translate(13.9 424.6) rotate(-90)">Imaginary</text>
</g>
<g id="plot-c">
<polyline class="pts" style="marker-start:url(#mb);marker-mid:url(#mb);marker-end:url(#mb)" points="399.9,426 444.3,426 446.1,426 453.2,426 462.9,426 465.6,426 468.3,426 504.8,426 507.5,426 510.2,426 522.6,426 531.3,426 615.6,426 676,426 458.3,369.6 458.3,482.4 487.8,399.2 487.8,452.8 478.1,426 501.1,426 478,426 497.1,426 498,426 493.8,426 494.4,426 495,426 499.5,426 490.3,426 485.1,426 486.6,426 478,426 476.6,426 483.9,426 491,426 500.9,426 494.4,426 497.6,426 496.7,426 491.7,426 487.3,426 480.1,426 481.3,426 489.1,426 494.9,426 501.9,426 493.3,426 477.2,426 500,426 487,426 483.3,426 476.7,426 499.3,426 489.7,426 483.5,426 485.5,426 498.1,426 498.5,426 500.4,426 487.9,426 489.4,426 478.6,426 485.2,426 500.1,426 499.2,426 498.1,426 499.2,426 491.4,426 486.3,426 474.4,426 497,426 495.4,426 498.1,426 494,426 500.8,426 499.9,426 482.8,426 501,426 495.5,426 493.7,394.4 494.9,371 498.7,376.5 499.5,387 494.4,389.5 495.3,385.7 496.5,389.1 496.9,422.2 498.2,397.5 496.6,377.2 493.8,425.6 497.2,414.1 494.7,373.3 495.6,412.1 495.6,422.6 497.9,404.1 497,419.5 498,421.1 498.2,367.9 496.8,387.1 495.4,373.9 496.9,421.1 499.5,385 498.6,422.4 494,423.9 498.9,423.1 495.8,410.5 498.9,376.2 498,408.2 494.3,382.7 497.5,410.4 497.5,412.5 495.4,411.2 497.6,406.3 493.9,378.6 496.6,374.8 497.6,412.3 494.6,375.4 498.6,414.1 498.1,367.6 499.1,415.6 499.1,372 495.7,368.2 494.1,413.8 494.2,395.3 494.2,384.8 495.3,398.2 496.3,364.9 495.8,425.5 499.2,399.2 498,368.4 494.3,402.5 493.9,380.9 496.9,425.9 498.4,395 494.3,420.2 498.3,398.1 495.8,417.7 498.1,395.8 493.9,415.6 495.2,379.7 498.2,394.3 494.3,383.9 499.5,381.8 494.2,400.6 494.2,424.8 496.3,379.7 499.1,404.6 495.8,396.1 494.5,389.7 494.9,365.3 497.1,376.8 494.5,372.7 498.7,394.2 498.5,389.4 498.6,405.6 495.6,399.1 496,378.6 498.3,396.2 497.9,373.1 496,389.6 498.1,377.3 499.4,387.3 498.6,386.7 498.6,398 497.4,378.2 496,413.8 497.6,372 494.7,414.4 499.2,399.4 497.7,390.3 495,410.2 494.7,367.7 494.6,424.8 499.4,407.8 498.5,389.2 499,400 495.8,393.6 495.6,365 494.9,408.9 495.7,409.8 493.7,407.6 497.1,411.3 496.1,399.8 498.6,399.5 496.1,380.7 496.7,382.1 495.4,407.4 497.6,364.4 495.7,409.9 496.4,375 498.6,395.7 498,369.9 498.4,410.7 497.1,403.4 494.4,407.9 494.4,376.1 498.5,371.4 499.6,414.1 497.5,389.3 495.2,423.9 495,378.1 495.1,410.2 499.1,420.3 496.1,364.1 497.9,381.1 499.3,411.6 498.9,374.7 499,423.5 495.7,403.2 495.4,415.1 498,392 494.1,390.6 495.7,378.3 495.8,368.2 498.6,404.2 499.7,422.9 497.9,399.6 497.6,383.3 495.1,396.8 496.1,409.6 496.9,387 494.8,391.6 498.3,389.6 496.8,366.7 498.6,372.5 499.5,419.6 494.8,379.7 497.3,403.4 497.9,386.8 494.8,400.1 496.4,365.6 497.7,376 494.4,383.3 494.2,410.3 496.4,418.5 496.3,418.2 498.5,390.3 494.4,401.9 495.5,364.7 496.7,400.1 498.4,413.4 496.7,366.2 497.7,393.9 495.4,376.5 496.7,410.3 496,391.7 499.1,378.9 497.1,364.8 496.9,422.7 499.4,390.8 494.7,376.7 495.9,408 499.3,402.8 499.5,411.1 495.7,415.2 498.6,406.3 499.5,381.7 495.8,412.6 494.5,373.7 495.1,413.8 499.7,399.3 498.1,367.7 494.4,377 498.4,369.2 495.3,422.8 495.4,406.3 497.7,411.7 495.4,374.9 496.3,423 494.4,408.8 495.4,374.1 495.7,402.9 499,407.5 494.9,405.8 493.8,402.7 499.4,384 495,404.1 496,403 496.1,376.1 497.4,396 498.8,371.8 496.9,406.6 498.8,415.2 495.5,375.6 497,404.4 497.1,405.8 494.9,417.5 499,371.5 494.8,367.2 496.4,391.5 496.8,423.4 499.6,416.9 497.9,365.9 495.7,399.1 495.2,393.8 496.9,393.6 496.6,384.8 499.1,395.5 495,365.8 499.1,382.3 496.8,408.4 495.6,377.7 494.6,405.2 494.9,423.8 495.6,392.6 499,391.1 497.5,364.1 497,424.6 496.2,404.7 494.7,379.8 494.9,410.8 494.3,416.1 496.6,403.5 496.7,366.9 494.6,392.1 495,364.6 495.6,363.8 497,391.7 498,377.4 497,394.7 495.8,390.5 496.1,367.3 498.2,372 496.8,378.5 497.8,413.5 494.8,416.7 495.4,381.7 495.3,418.4 494.9,410.9 499.6,400.3 495.6,407.6 498.8,400 494.4,379.4 494.4,376.4 498.9,386.9 499.1,391.7 498.1,418.1 497.5,422.1 494.8,424.5 497.4,405.8 495,392.2 497.2,408.4 498.2,379.5 494.5,403.9 497.5,386.5 497.9,375.1 495.6,388 495.5,416.1 497,374.9 497.8,406.2 498.9,366.3 497.7,386.7 495.6,365.7 498.3,380 493.7,397.8 494.6,409.3 497.2,379.1 498.8,401.3 494.3,405.9 495.6,386.5 494.4,424.3 494.9,394.7 495.3,388 498.5,375.8 498,404.3 496.9,382.2 497.8,404.2 498.3,425.3 497.6,388.6 495.5,403 494.6,393.7 499.5,406.8 494.6,380.2 499.6,411.3 495.6,380.4 493.8,392.1 496,374.6 494.8,410.6 498,413.1 493.7,457.6 494.9,481 498.7,475.5 499.5,465 494.4,462.5 495.3,466.3 496.5,462.9 496.9,429.8 498.2,454.5 496.6,474.8 493.8,426.4 497.2,437.9 494.7,478.7 495.6,439.9 495.6,429.4 497.9,447.9 497,432.5 498,430.9 498.2,484.1 496.8,464.9 495.4,478.1 496.9,430.9 499.5,467 498.6,429.6 494,428.1 498.9,428.9 495.8,441.5 498.9,475.8 498,443.8 494.3,469.3 497.5,441.6 497.5,439.5 495.4,440.8 497.6,445.7 493.9,473.4 496.6,477.2 497.6,439.7 494.6,476.6 498.6,437.9 498.1,484.4 499.1,436.4 499.1,480 495.7,483.8 494.1,438.2 494.2,456.7 494.2,467.2 495.3,453.8 496.3,487.1 495.8,426.5 499.2,452.8 498,483.6 494.3,449.5 493.9,471.1 496.9,426.1 498.4,457 494.3,431.8 498.3,453.9 495.8,434.3 498.1,456.2 493.9,436.4 495.2,472.3 498.2,457.7 494.3,468.1 499.5,470.2 494.2,451.4 494.2,427.2 496.3,472.3 499.1,447.4 495.8,455.9 494.5,462.3 494.9,486.7 497.1,475.2 494.5,479.3 498.7,457.8 498.5,462.6 498.6,446.4 495.6,452.9 496,473.4 498.3,455.8 497.9,478.9 496,462.4 498.1,474.7 499.4,464.7 498.6,465.3 498.6,454 497.4,473.8 496,438.2 497.6,480 494.7,437.6 499.2,452.6 497.7,461.7 495,441.8 494.7,484.3 494.6,427.2 499.4,444.2 498.5,462.8 499,452 495.8,458.4 495.6,487 494.9,443.1 495.7,442.2 493.7,444.4 497.1,440.7 496.1,452.2 498.6,452.5 496.1,471.3 496.7,469.9 495.4,444.6 497.6,487.6 495.7,442.1 496.4,477 498.6,456.3 498,482.1 498.4,441.3 497.1,448.6 494.4,444.1 494.4,475.9 498.5,480.6 499.6,437.9 497.5,462.7 495.2,428.1 495,473.9 495.1,441.8 499.1,431.7 496.1,487.9 497.9,470.9 499.3,440.4 498.9,477.3 499,428.5 495.7,448.8 495.4,436.9 498,460 494.1,461.4 495.7,473.7 495.8,483.8 498.6,447.8 499.7,429.1 497.9,452.4 497.6,468.7 495.1,455.2 496.1,442.4 496.9,465 494.8,460.4 498.3,462.4 496.8,485.3 498.6,479.5 499.5,432.4 494.8,472.3 497.3,448.6 497.9,465.2 494.8,451.9 496.4,486.4 497.7,476 494.4,468.7 494.2,441.7 496.4,433.5 496.3,433.8 498.5,461.7 494.4,450.1 495.5,487.3 496.7,451.9 498.4,438.6 496.7,485.8 497.7,458.1 495.4,475.5 496.7,441.7 496,460.3 499.1,473.1 497.1,487.2 496.9,429.3 499.4,461.2 494.7,475.3 495.9,444 499.3,449.2 499.5,440.9 495.7,436.8 498.6,445.7 499.5,470.3 495.8,439.4 494.5,478.3 495.1,438.2 499.7,452.7 498.1,484.3 494.4,475 498.4,482.8 495.3,429.2 495.4,445.7 497.7,440.3 495.4,477.1 496.3,429 494.4,443.2 495.4,477.9 495.7,449.1 499,444.5 494.9,446.2 493.8,449.3 499.4,468 495,447.9 496,449 496.1,475.9 497.4,456 498.8,480.2 496.9,445.4 498.8,436.8 495.5,476.4 497,447.6 497.1,446.2 494.9,434.5 499,480.5 494.8,484.8 496.4,460.5 496.8,428.6 499.6,435.1 497.9,486.1 495.7,452.9 495.2,458.2 496.9,458.4 496.6,467.2 499.1,456.5 495,486.2 499.1,469.7 496.8,443.6 495.6,474.3 494.6,446.8 494.9,428.2 495.6,459.4 499,460.9 497.5,487.9 497,427.4 496.2,447.3 494.7,472.2 494.9,441.2 494.3,435.9 496.6,448.5 496.7,485.1 494.6,459.9 495,487.4 495.6,488.2 497,460.3 498,474.6 497,457.3 495.8,461.5 496.1,484.7 498.2,480 496.8,473.5 497.8,438.5 494.8,435.3 495.4,470.3 495.3,433.6 494.9,441.1 499.6,451.7 495.6,444.4 498.8,452 494.4,472.6 494.4,475.6 498.9,465.1 499.1,460.3 498.1,433.9 497.5,429.9 494.8,427.5 497.4,446.2 495,459.8 497.2,443.6 498.2,472.5 494.5,448.1 497.5,465.5 497.9,476.9 495.6,464 495.5,435.9 497,477.1 497.8,445.8 498.9,485.7 497.7,465.3 495.6,486.3 498.3,472 493.7,454.2 494.6,442.7 497.2,472.9 498.8,450.7 494.3,446.1 495.6,465.5 494.4,427.7 494.9,457.3 495.3,464 498.5,476.2 498,447.7 496.9,469.8 497.8,447.8 498.3,426.7 497.6,463.4 495.5,449 494.6,458.3 499.5,445.2 494.6,471.8 499.6,440.7 495.6,471.6 493.8,459.9 496,477.4 494.8,441.4 498,438.9 497.4,341.6 497.3,352.3 498.3,357.6 498.7,343.9 497.9,358.5 498.3,355 497.7,340.1 497.2,340.7 495.1,337 499.1,345.9 497.1,358.4 496.7,337.5 497.2,355 498.3,346.7 497.2,346 497.7,358.9 497.9,356.7 498.6,355.9 497.3,346 497,338.1 497.9,353.3 498,363.4 497.4,510.4 497.3,499.7 498.3,494.4 498.7,508.1 497.9,493.5 498.3,497 497.7,511.9 497.2,511.3 495.1,515 499.1,506.1 497.1,493.6 496.7,514.5 497.2,497 498.3,505.3 497.2,506 497.7,493.1 497.9,495.3 498.6,496.1 497.3,506 497,513.9 497.9,498.7 498,488.6 494.9,333.5 496.1,336.2 498.4,341.3 499.2,346.3 497,352.4 494.9,518.5 496.1,515.8 498.4,510.7 499.2,505.7 497,499.6 492.4,407.2 476.8,423.7 494.3,404.4 493,417.9 486.6,412.2 487.1,420.1 493.3,399.9 481.9,425.9 476.1,423.9 492.3,403.5 494.5,394.2 483.3,421.6 479.9,420.4 492.9,405.4 478.4,422.6 479.3,420.7 484.5,417.3 492.8,409.5 490.3,407.1 493.4,403.9 489.7,424.8 483.5,413.6 490.3,404.6 488.2,423 480.2,419.4 493.7,412.6 493.3,417.4 490.8,403.5 489.5,410.7 486.6,415.2 488,417.7 480.8,418.7 493.7,406.1 492.7,412.9 484.3,417.8 491.3,424.1 477,424.7 487.6,411.6 491.9,424.7 493.5,406.5 492.9,420.8 486.8,414.2 493.6,397 486.3,419 486.9,410.6 476.4,423.1 481.8,424.5 489,422.6 489.2,424.6 493.3,400.4 492.3,420.2 482.2,420.5 494.7,417 477.3,422.4 487.8,425.3 489.3,408.1 489.2,416.1 479.9,420.9 482.4,420.4 477.3,425 477.9,422.6 490.3,420.7 485.9,424.8 484.1,422.2 475.6,425 494.7,424 493.1,414.9 483.3,425.9 476.9,422.6 474.8,425.4 482.6,420.8 487.2,411.6 492.5,402.8 489.6,424.8 492.3,416.3 478.7,421.8 486.4,412.8 489.1,406.9 494.8,424.8 492.7,423 494.4,398 490.9,407.1 489.3,418.8 491.6,425.6 491.2,418.2 481.3,420.6 489.5,421.7 487.5,421 481.2,421.4 489.1,424.8 494.4,405.3 483,416 489.7,408.8 491.5,406.3 488.3,418.7 492.4,444.8 476.8,428.3 494.3,447.6 493,434.1 486.6,439.8 487.1,431.9 493.3,452.1 481.9,426.1 476.1,428.1 492.3,448.5 494.5,457.8 483.3,430.4 479.9,431.6 492.9,446.6 478.4,429.4 479.3,431.3 484.5,434.7 492.8,442.5 490.3,444.9 493.4,448.1 489.7,427.2 483.5,438.4 490.3,447.4 488.2,429 480.2,432.6 493.7,439.4 493.3,434.6 490.8,448.5 489.5,441.3 486.6,436.8 488,434.3 480.8,433.3 493.7,445.9 492.7,439.1 484.3,434.2 491.3,427.9 477,427.3 487.6,440.4 491.9,427.3 493.5,445.5 492.9,431.2 486.8,437.8 493.6,455 486.3,433 486.9,441.4 476.4,428.9 481.8,427.5 489,429.4 489.2,427.4 493.3,451.6 492.3,431.8 482.2,431.5 494.7,435 477.3,429.6 487.8,426.7 489.3,443.9 489.2,435.9 479.9,431.1 482.4,431.6 477.3,427 477.9,429.4 490.3,431.3 485.9,427.2 484.1,429.8 475.6,427 494.7,428 493.1,437.1 483.3,426.1 476.9,429.4 474.8,426.6 482.6,431.2 487.2,440.4 492.5,449.2 489.6,427.2 492.3,435.7 478.7,430.2 486.4,439.2 489.1,445.1 494.8,427.2 492.7,429 494.4,454 490.9,444.9 489.3,433.2 491.6,426.4 491.2,433.8 481.3,431.4 489.5,430.3 487.5,431 481.2,430.6 489.1,427.2 494.4,446.7 483,436 489.7,443.2 491.5,445.7 488.3,433.3 517.2,384.8 517.2,382.4 517.3,414.8 515.9,410.5 516.1,407.2 518,400.9 518.5,413.2 517,388.6 517.1,383.5 515.3,416.1 517.2,383.1 517.3,383.6 517.1,408.6 516.7,405.9 516.7,388.9 516.5,405.2 517.2,390 517.6,388 520,425.3 517.2,384.8 517.2,418.4 517,423.6 515.8,401.3 516.4,423.3 517,413.5 516.4,397.7 516.7,410.6 516.3,415.7 514.6,419.5 518.1,393.4 517.3,410.8 517.5,405.6 517.2,423.2 519.4,420.5 517.8,423.2 517,389.2 516.7,394.7 516.7,391.1 517.2,382.4 518.1,395.7 517.7,391.9 516.6,390.2 518.1,393.6 517.3,385.1 516.9,388.6 516.6,411.5 517.2,382.5 517.3,386.6 515.9,407.6 516.5,395.8 517.4,389.4 516.9,387.8 516.6,412.2 516.6,422.2 518,399.1 517.2,402.7 517.3,404.7 516.7,398.8 517.5,403.1 517.8,402.6 517,400 517.2,389 516.7,425.6 515.5,424.6 519.6,417.3 518.4,415 519.1,421.8 517.6,415.5 516.2,412.6 515.7,401 519.1,409.5 518.4,397.9 515.8,417.2 517.7,417.6 515.4,422.7 516.9,414.9 517.2,383 517.4,415.6 516.8,396.5 515.5,409 517.8,394.1 519.6,417.2 518,411.1 517.1,425.9 516.4,401.6 518.6,422.6 517.3,409.1 517.8,423.2 516.2,396.4 517.1,393.8 517.4,388 517.5,392.4 515,425.9 516.6,394.5 517.3,416.8 518.4,417.8 517.7,420.3 519.6,414.6 517.3,417.8 520,424 516.4,399.6 517.7,399.6 516.5,394.5 515.8,412.7 519.1,413 517.7,390.6 516.9,385.7 515.5,422.9 516.5,395 516.6,390.2 518.8,406.1 517.4,395.3 516.8,394.2 517.2,384.6 517.7,388.8 517.5,389.8 517.9,397.7 515,414.3 517.9,423.3 516.6,409.9 515.1,419 518.3,416.6 516,416.6 515.9,426 516.7,414.5 516.4,394 519.1,410.3 516,396.9 517.7,397.7 517.7,396.1 518.3,425.2 517.9,407.7 517.2,392.5 516.7,397.9 518.1,396.6 517.2,382.9 515.5,424.1 517,408.3 517,411.8 515.1,420.2 517.7,419.6 519.6,421.5 518.2,416 518.3,425.3 516.2,397.7 517.3,385.3 518.7,409 518,419.8 517.2,412.4 518,414.6 515.8,417 516.8,388 516.8,387.3 517,384.6 519,418.3 517.8,391.7 517,398.9 517.1,383.4 516.2,419.6 515.5,419.2 517.9,414.4 516.3,425.4 516.6,390.4 516.6,400.8 518.4,418 516.3,406.6 518.4,414.7 516.5,402.5 517.3,401 517.1,417.6 517.2,467.2 517.2,469.6 517.3,437.2 515.9,441.5 516.1,444.8 518,451.1 518.5,438.8 517,463.4 517.1,468.5 515.3,435.9 517.2,468.9 517.3,468.4 517.1,443.4 516.7,446.1 516.7,463.1 516.5,446.8 517.2,462 517.6,464 520,426.7 517.2,467.2 517.2,433.6 517,428.4 515.8,450.7 516.4,428.7 517,438.5 516.4,454.3 516.7,441.4 516.3,436.3 514.6,432.5 518.1,458.6 517.3,441.2 517.5,446.4 517.2,428.8 519.4,431.5 517.8,428.8 517,462.8 516.7,457.3 516.7,460.9 517.2,469.6 518.1,456.3 517.7,460.1 516.6,461.8 518.1,458.4 517.3,466.9 516.9,463.4 516.6,440.5 517.2,469.5 517.3,465.4 515.9,444.4 516.5,456.2 517.4,462.6 516.9,464.2 516.6,439.8 516.6,429.8 518,452.9 517.2,449.3 517.3,447.3 516.7,453.2 517.5,448.9 517.8,449.4 517,452 517.2,463 516.7,426.4 515.5,427.4 519.6,434.7 518.4,437 519.1,430.2 517.6,436.5 516.2,439.4 515.7,451 519.1,442.5 518.4,454.1 515.8,434.8 517.7,434.4 515.4,429.3 516.9,437.1 517.2,469 517.4,436.4 516.8,455.5 515.5,443 517.8,457.9 519.6,434.8 518,440.9 517.1,426.1 516.4,450.4 518.6,429.4 517.3,442.9 517.8,428.8 516.2,455.6 517.1,458.2 517.4,464 517.5,459.6 515,426.1 516.6,457.5 517.3,435.2 518.4,434.2 517.7,431.7 519.6,437.4 517.3,434.2 520,428 516.4,452.4 517.7,452.4 516.5,457.5 515.8,439.3 519.1,439 517.7,461.4 516.9,466.3 515.5,429.1 516.5,457 516.6,461.8 518.8,445.9 517.4,456.7 516.8,457.8 517.2,467.4 517.7,463.2 517.5,462.2 517.9,454.3 515,437.7 517.9,428.7 516.6,442.1 515.1,433 518.3,435.4 516,435.4 515.9,426 516.7,437.5 516.4,458 519.1,441.7 516,455.1 517.7,454.3 517.7,455.9 518.3,426.8 517.9,444.3 517.2,459.5 516.7,454.1 518.1,455.4 517.2,469.1 515.5,427.9 517,443.7 517,440.2 515.1,431.8 517.7,432.4 519.6,430.5 518.2,436 518.3,426.7 516.2,454.3 517.3,466.7 518.7,443 518,432.2 517.2,439.6 518,437.4 515.8,435 516.8,464 516.8,464.7 517,467.4 519,433.7 517.8,460.3 517,453.1 517.1,468.6 516.2,432.4 515.5,432.8 517.9,437.6 516.3,426.6 516.6,461.6 516.6,451.2 518.4,434 516.3,445.4 518.4,437.3 516.5,449.5 517.3,451 517.1,434.4"/>
<path class="tk" d="M395.50 537.50v-2.8M395.50 314.50v2.8M431.00 537.50v-2.8M431.00 314.50v2.8M466.50 537.50v-2.8M466.50 314.50v2.8M502.00 537.50v-2.8M502.00 314.50v2.8M537.50 537.50v-2.8M537.50 314.50v2.8M573.00 537.50v-2.8M573.00 314.50v2.8M608.50 537.50v-2.8M608.50 314.50v2.8M644.00 537.50v-2.8M644.00 314.50v2.8M679.50 537.50v-2.8M679.50 314.50v2.8M395.50 314.50h2.8M679.50 314.50h-2.8M395.50 336.80h2.8M679.50 336.80h-2.8M395.50 359.10h2.8M679.50 359.10h-2.8M395.50 381.40h2.8M679.50 381.40h-2.8M395.50 403.70h2.8M679.50 403.70h-2.8M395.50 426.00h2.8M679.50 426.00h-2.8M395.50 448.30h2.8M679.50 448.30h-2.8M395.50 470.60h2.8M679.50 470.60h-2.8M395.50 492.90h2.8M679.50 492.90h-2.8M395.50 515.20h2.8M679.50 515.20h-2.8M395.50 537.50h2.8M679.50 537.50h-2.8"/>
<rect class="box" x="395.50" y="314.50" width="284.00" height="223.00"/>
<text class="tl" text-anchor="middle" x="395.5" y="550.1">-6</text>
<text class="tl" text-anchor="middle" x="431.0" y="550.1">-4</text>
<text class="tl" text-anchor="middle" x="466.5" y="550.1">-2</text>
<text class="tl" text-anchor="middle" x="502.0" y="550.1">0</text>
<text class="tl" text-anchor="middle" x="537.5" y="550.1">2</text>
<text class="tl" text-anchor="middle" x="573.0" y="550.1">4</text>
<text class="tl" text-anchor="middle" x="608.5" y="550.1">6</text>
<text class="tl" text-anchor="middle" x="644.0" y="550.1">8</text>
<text class="tl" text-anchor="middle" x="679.5" y="550.1">10</text>
<text class="tl" text-anchor="end" x="392.5" y="318.3">0.10</text>
<text class="tl" text-anchor="end" x="392.5" y="340.6">0.08</text>
<text class="tl" text-anchor="end" x="392.5" y="362.9">0.06</text>
<text class="tl" text-anchor="end" x="392.5" y="385.2">0.04</text>
<text class="tl" text-anchor="end" x="392.5" y="407.5">0.02</text>
<text class="tl" text-anchor="end" x="392.5" y="429.8">0</text>
<text class="tl" text-anchor="end" x="392.5" y="452.1">-0.02</text>
<text class="tl" text-anchor="end" x="392.5" y="474.4">-0.04</text>
<text class="tl" text-anchor="end" x="392.5" y="496.7">-0.06</text>
<text class="tl" text-anchor="end" x="392.5" y="519.0">-0.08</text>
<text class="tl" text-anchor="end" x="392.5" y="541.3">-0.10</text>
<text class="al" text-anchor="middle" x="532.6" y="563.2">Real</text>
<text class="al" text-anchor="middle" transform="translate(366.4 424.6) rotate(-90)">Imaginary</text>
</g>
<g id="plot-d">
<polyline class="pts" style="marker-start:url(#mb);marker-mid:url(#mb);marker-end:url(#mb)" points="152.6,738 170.1,738 220.3,738 237.8,738 62.9,728.6 110,746.9 279.9,728.6 279.9,746.9 195.2,647.5 195.2,828.5 195.2,676.9 195.2,680 195.2,683.6 195.2,687.2 195.2,690.3 195.2,799.1 195.2,796 195.2,792.4 195.2,788.8 195.2,785.7 194.2,723.6 195.4,699.8 195.4,698.9 195.6,712.6 194.3,731.9 195.2,719 195.4,713.6 196.3,722.6 195,696.7 194.3,723.1 195.3,703.2 195.3,697.7 194.8,714.9 195.5,707.3 195.1,696.5 195.2,711.3 194.3,727.5 194.6,710.6 195.2,698.8 194.4,734.7 195.8,713.3 195.4,706.8 197.2,734.4 194.9,712.2 196.2,732.8 197.2,734.7 195,700.4 195.1,700.8 195.7,717 195,717.8 194.1,728.3 195,722.8 194.4,718 195.4,700 194.5,720.9 195.4,699.8 195.7,721.6 196.3,724.4 194.8,710.4 195.1,732.1 194.2,733.8 195.4,710 194.7,710.5 194,729.2 196.1,721.1 194.7,719.4 196.3,727.6 195.8,719 195.4,703.5 196.5,727.7 195.2,712.2 195,695.5 195,701 194.9,723.4 194.8,716.1 195.1,732.6 195.4,700.8 195.1,718.1 195.3,693.8 195,696.9 193.9,726.2 195.1,701.9 195.2,710.3 194.5,723 194.6,727.1 194.8,708.5 196.1,718.3 195.3,721.5 195.4,728.3 194.9,700.3 194,727.5 194.6,713.4 194.5,728.8 195,723 195.1,703.9 195.4,699.1 196.2,728.6 193.8,729.7 195.1,708.3 195.3,700.6 195.8,732.5 194.9,706.8 194.4,731.7 195.2,694.7 196.9,735 194.8,719.5 194.1,724 194.9,711.5 195.1,714 195.6,709.8 195.4,712.3 193.9,727.9 196.1,719.1 195.8,731.5 195.3,732.7 195.4,734.3 195.1,694.5 195.3,704.5 193.8,730.1 195.9,716.3 195.1,708.3 194.4,725 195.3,699.2 195.5,708.6 195.2,697.2 195,698.3 195.7,713.6 196.5,732.9 194.3,718 193.6,732.5 195.6,734.2 195.5,705.6 195.2,694.4 195.1,694 195.1,700 195.4,708.4 194.9,699 195,701.5 195.1,701.5 195.5,706.1 194.8,712.5 195.3,720.2 194.2,729.6 194.9,709.9 194.6,717.3 195.2,694.3 195.4,697.9 195.3,694.4 194.6,731 195.5,702.6 194.4,735.1 195.9,733.5 194.3,730.8 194.9,707.3 194.8,706.6 194.9,718.2 194.6,725.4 196.9,731.9 197,734.1 194.9,720.8 194.9,730.8 196.1,728 194.3,728.7 195,703.8 197,733.1 194.1,729.5 194.5,716.1 193.8,728.7 195.4,700.8 196.2,721.2 195.6,705.3 195.2,724.5 196.7,732.2 194.2,726.5 195.1,731.7 194.8,705.3 195.1,694 193.3,734.4 194.6,723.4 194.3,725.5 197,732.9 196,727.1 195,699.6 195.1,698.5 194.8,717.1 194.6,715 195.1,694.6 195.1,709.6 195.8,720.6 195.4,706.6 195,718.8 194.5,713.4 195.3,694.6 195.7,725.4 195.5,712 195.3,697 195.2,707.9 195.2,694.7 195.7,719.5 195.9,731.1 196.2,728 195.5,708.5 194.3,716.9 195.2,695.8 194,724.4 194.9,714.7 195.9,719 195.9,734 194.9,707.2 195.3,704.2 195.2,706.7 195.3,710.4 195,704 194.7,715 194.6,713.5 193.6,731.6 195,708 194.9,724.3 195.8,734.4 194.4,722.5 195.3,709 195.1,698.1 195.1,704.4 195.4,701.9 195.5,724.9 194.1,728.6 195.3,695.2 195.1,694.3 195.9,722.1 194.1,722.5 195.3,707.8 195.2,699.7 195.7,713.3 195.2,699.8 195.9,718 195,699 194.7,713.9 196.2,719.4 195.4,710.8 194.9,699.8 195,715 196.2,719.9 193.9,729.3 195,707.1 195.6,719.9 196,724 196.1,727.9 195.9,728 196.1,722.5 194.9,705.1 195,702.3 193.7,730.8 195,702.9 194.9,707.9 195.8,724.3 194.8,724.3 195,695.5 195.8,713.9 195.3,699.1 194.6,716.5 195.8,719.7 194.3,718.6 194.3,717.4 195.4,699.4 195.6,716.9 195.2,729.7 194.9,698.8 195.1,730.9 194.4,732.3 195.2,724.1 193.1,734.1 195.4,718.8 195.6,724.4 195.2,698 195.3,709.2 195.3,717.7 195.4,699.5 195.8,716 195.1,698.7 195.7,711.1 195.4,715.2 194.7,705.2 195.1,715.5 195.6,732.7 195.9,723.9 194.4,730.1 194.9,724.7 195,695.2 194.4,725.7 196.2,729.6 194.9,714.4 195.8,722.8 195.3,694.7 195.5,703 195.4,697.7 193.9,726.3 195.9,727.8 196.1,721 195.4,707.3 195.8,730.1 195.1,705.6 195,715.3 194.8,714.6 195.4,703.7 193.9,725.9 194.8,704.2 194.2,752.4 195.4,776.2 195.4,777.1 195.6,763.4 194.3,744.1 195.2,757 195.4,762.4 196.3,753.4 195,779.3 194.3,752.9 195.3,772.8 195.3,778.3 194.8,761.1 195.5,768.7 195.1,779.5 195.2,764.7 194.3,748.5 194.6,765.4 195.2,777.2 194.4,741.3 195.8,762.7 195.4,769.2 197.2,741.6 194.9,763.8 196.2,743.2 197.2,741.3 195,775.6 195.1,775.2 195.7,759 195,758.2 194.1,747.7 195,753.2 194.4,758 195.4,776 194.5,755.1 195.4,776.2 195.7,754.4 196.3,751.6 194.8,765.6 195.1,743.9 194.2,742.2 195.4,766 194.7,765.5 194,746.8 196.1,754.9 194.7,756.6 196.3,748.4 195.8,757 195.4,772.5 196.5,748.3 195.2,763.8 195,780.5 195,775 194.9,752.6 194.8,759.9 195.1,743.4 195.4,775.2 195.1,757.9 195.3,782.2 195,779.1 193.9,749.8 195.1,774.1 195.2,765.7 194.5,753 194.6,748.9 194.8,767.5 196.1,757.7 195.3,754.5 195.4,747.7 194.9,775.7 194,748.5 194.6,762.6 194.5,747.2 195,753 195.1,772.1 195.4,776.9 196.2,747.4 193.8,746.3 195.1,767.7 195.3,775.4 195.8,743.5 194.9,769.2 194.4,744.3 195.2,781.3 196.9,741 194.8,756.5 194.1,752 194.9,764.5 195.1,762 195.6,766.2 195.4,763.7 193.9,748.1 196.1,756.9 195.8,744.5 195.3,743.3 195.4,741.7 195.1,781.5 195.3,771.5 193.8,745.9 195.9,759.7 195.1,767.7 194.4,751 195.3,776.8 195.5,767.4 195.2,778.8 195,777.7 195.7,762.4 196.5,743.1 194.3,758 193.6,743.5 195.6,741.8 195.5,770.4 195.2,781.6 195.1,782 195.1,776 195.4,767.6 194.9,777 195,774.5 195.1,774.5 195.5,769.9 194.8,763.5 195.3,755.8 194.2,746.4 194.9,766.1 194.6,758.7 195.2,781.7 195.4,778.1 195.3,781.6 194.6,745 195.5,773.4 194.4,740.9 195.9,742.5 194.3,745.2 194.9,768.7 194.8,769.4 194.9,757.8 194.6,750.6 196.9,744.1 197,741.9 194.9,755.2 194.9,745.2 196.1,748 194.3,747.3 195,772.2 197,742.9 194.1,746.5 194.5,759.9 193.8,747.3 195.4,775.2 196.2,754.8 195.6,770.7 195.2,751.5 196.7,743.8 194.2,749.5 195.1,744.3 194.8,770.7 195.1,782 193.3,741.6 194.6,752.6 194.3,750.5 197,743.1 196,748.9 195,776.4 195.1,777.5 194.8,758.9 194.6,761 195.1,781.4 195.1,766.4 195.8,755.4 195.4,769.4 195,757.2 194.5,762.6 195.3,781.4 195.7,750.6 195.5,764 195.3,779 195.2,768.1 195.2,781.3 195.7,756.5 195.9,744.9 196.2,748 195.5,767.5 194.3,759.1 195.2,780.2 194,751.6 194.9,761.3 195.9,757 195.9,742 194.9,768.8 195.3,771.8 195.2,769.3 195.3,765.6 195,772 194.7,761 194.6,762.5 193.6,744.4 195,768 194.9,751.7 195.8,741.6 194.4,753.5 195.3,767 195.1,777.9 195.1,771.6 195.4,774.1 195.5,751.1 194.1,747.4 195.3,780.8 195.1,781.7 195.9,753.9 194.1,753.5 195.3,768.2 195.2,776.3 195.7,762.7 195.2,776.2 195.9,758 195,777 194.7,762.1 196.2,756.6 195.4,765.2 194.9,776.2 195,761 196.2,756.1 193.9,746.7 195,768.9 195.6,756.1 196,752 196.1,748.1 195.9,748 196.1,753.5 194.9,770.9 195,773.7 193.7,745.2 195,773.1 194.9,768.1 195.8,751.7 194.8,751.7 195,780.5 195.8,762.1 195.3,776.9 194.6,759.5 195.8,756.3 194.3,757.4 194.3,758.6 195.4,776.6 195.6,759.1 195.2,746.3 194.9,777.2 195.1,745.1 194.4,743.7 195.2,751.9 193.1,741.9 195.4,757.2 195.6,751.6 195.2,778 195.3,766.8 195.3,758.3 195.4,776.5 195.8,760 195.1,777.3 195.7,764.9 195.4,760.8 194.7,770.8 195.1,760.5 195.6,743.3 195.9,752.1 194.4,745.9 194.9,751.3 195,780.8 194.4,750.3 196.2,746.4 194.9,761.6 195.8,753.2 195.3,781.3 195.5,773 195.4,778.3 193.9,749.7 195.9,748.2 196.1,755 195.4,768.7 195.8,745.9 195.1,770.4 195,760.7 194.8,761.4 195.4,772.3 193.9,750.1 194.8,771.8 195.1,732 185.7,745.1 190.2,740.6 200.9,736.3 185.9,742.3 194.6,731.9 195.5,749.4 178.1,736.4 214.5,737.3 208.1,738.6 179.1,741 189.7,736.8 205.2,735.7 201.1,738.5 177.3,736.5 178.8,734.2 175.4,737.6 200.5,729.5 208.5,733 211.1,741.4 206.2,735.7 176.8,737.7 183.7,741.5 190.6,733.9 213.3,739 206.4,744 195.8,730.1 182,736.1 198.5,747.2 188,741.4 189.6,741.5 214.1,738.3 188.1,745.4 193.6,746.4 189.9,729.4 183.1,735.1 176,737.2 185.6,731.8 183.4,738.8 183.6,739.4 182.2,736.3 202.4,743.6 191.1,738.7 190.1,731.1 175.9,738.2 175.9,739.1 214.7,738.6 211,736.1 210.4,733.6 194.1,742.7 208.8,736.6 201.2,729.7 180.8,735.7 198.1,749.1 198,747.6 185.9,736 199.6,737.4 199,736.3 181.4,742.8 179.5,738.7 200.9,737.3 205.9,741 201.7,738.5 198.2,738.1 201,739.4 195.9,746.9 190.6,729.5 179.6,734.4 215.3,738.1 204,734.8 180.2,736.1 200.9,732.3 182.6,742.1 200,740.9 214,736.9 213,738.3 193.8,742.3 177.5,737 188.1,734.7 189.9,743.2 193.5,746.6 188.2,744.2 210,741.8 200.3,744.3 214.6,738 194.3,747.9 185.9,744 203.8,731.5 196.4,743.6 207.2,740.2 181.3,742.7 214.4,737.8 179,736 182.8,733.7 184.7,734 199.2,747.5 204.8,743.2 197.1,740.1 187.6,735.4 212.8,735.3 178.9,734.5 187.4,731.3 186.7,733.7 185.5,737.3 180.9,741.9 214.1,736.9 213.9,739.5 199.6,735.2 211.3,735.9 186.6,737.5 210.4,737.6 205.2,734.2 207.1,741.3 203.3,732.3 175.2,737.8 204.7,735.8 190.8,729 200,733.6 184.6,733.6 211.3,739.2 212.9,739.6 204.3,744.5 212.2,735.5 200.5,731.3 191.5,738.1 211.7,734.8 210.5,739.6 182.2,732.7 197.8,739.2 177,738.1 175.1,738.3 179.8,741.6 209.6,734.7 182.3,741.3 177.6,740.6 212,740.6 178.7,734.6 194.7,731.9 191.9,742.9 196.1,740.4 179.2,739 194.2,729.6 179.6,734.1 190.1,744 203.8,743.7 180.8,740.2 174.8,738 201.2,741.9 209.7,739.3 181.1,736.2 177.7,735.5 182,741.4 179,740 196,732.8 215.3,737.8 197.5,735.2 179.4,739.2 183.9,733.6 206.9,734.4 196.3,746.5 206.6,743.1 190.5,737.1 181.3,737.8 180.4,737.1 195.6,724.9 215.2,738.1 201,733 206.7,742.5 203.3,744.1 203.2,731.4 176.9,740.1 191.8,735.1 204,730.9 176.1,738.2 175,738.1 198.7,747.5 182,741.4 197.7,741.8 175,737.9 176.4,738.1 175.5,738.7 199,743.3 199.9,732 197.2,731.2 211.3,738.2 185.9,742.6 186.8,745.4 208.4,741.2 197.9,737.1 188.3,739.5 189.3,744.9 187.1,736.3 195.5,731.8 187.8,737.1 190.2,733.9 200.8,742.3 197.8,735.7 195.4,727 175.8,738.8 197.5,730.2 191,747.7 185.4,744.4 206.9,737.7 203.2,737.2 212.1,738.8 178.3,736.1 190.4,740.6 205.4,740.8 181.9,740.7 183,743.5 187.5,737 176.3,737.3 202.7,737 207,739 181.1,735.6 179.4,739.3 201.3,730 212.1,738.7 214.2,739 197.9,728.7 197.2,732 215.4,738 177.4,740.1 190.6,731.2 203.1,740.6 210.3,740.1 203.4,734.1 194.9,725.5 194.3,726.7 211.9,739.5 205.3,731.4 183.2,733.6 212.6,739.7 208,732.7 200.2,743 207.6,734.3 204.5,738.2 188.8,741.5 203.5,739.3 190.4,747.4 176.1,736.8 190.5,744.1 196.9,744.5 206,735.6 196.4,734 179.6,734.6 190.2,735.8 206.8,734.2 189,737.8 202.7,743.6 187.7,733.1 182.4,741.2 211.7,736 178.9,738.6 206.3,743.1 201.2,736.5 177.1,738.6 175.4,738.2 185,739 202.8,734.1 206.4,736 189.8,733.8 210.6,738.3 179.4,738.1 206.5,735.5 203.6,732.7 188.7,738.9 215,737.4 189.2,744.1 185.2,735.4 201,734.4 197,742 181.8,743.3 189.1,737.3 208,739.4 188.6,733.2 206.1,736.3 198.6,736 206.1,742.5 184.2,735.7 210.5,740.8 179.5,736.6 198.6,737.3 214.1,739.3 180.3,733.9 179.4,735.6 183,738 176.1,738.2 202.6,739.8 196.1,749.4 185.6,741.6 203.7,741.4 195.6,724 186.5,739.8 183.3,740.3 187.2,734.9 209.5,742.5 215.4,738 189.7,735.4 199.6,733.4 205.5,741.3 185.3,740.3 202.5,735.6 193.1,734.6 212.1,736.8 181.2,737 178.5,741.2 176.6,738 192.3,747.9 192.4,745.5 182.5,733.5 207.6,739.3 205.6,740.2 202.7,730.5 201.6,735.3 203.1,741.8 206.6,739.9 193.8,733.8 184.4,742.8 180.6,733.4 188,732.6 196.8,744 214.3,739 209.6,733.2 196.6,732.7 177.7,736 180.7,741.3 184.1,733.2 180.1,740.8 190.4,734.4 202.8,732.2 175.9,738.4 183.7,732.2 211.9,738.7 194.8,744.2 196.2,730.2 198.4,736.1 201.8,738.3 184.1,742.7 202.4,731.2 178.7,736.1 207.1,744 206.7,738 187.9,739.7 205.9,736.9 180.4,740.5 210,738.9 194.5,735.6 194,726.2 182.4,737.4 207.1,740.7 194.6,724.6 186.2,743.7 183.3,744 198.5,739.5 176.8,738 190,733.4 177.3,739.7 210.5,738.2 190.5,732.4 177.7,739.6 195.6,729.5 184.2,732 199.2,730.2 207.8,736.9 198.1,730 208.9,739.5 199.3,728.9 207.3,732.5 190.9,746.9 203,741.3 188,740.9 204.5,736.2 210.3,733.9 186.8,730.7 194.6,747.7 192.4,732.3 180.5,741.1 188.7,734.7 189.3,734.7 209.5,740.9 203.3,738 180.3,736 180.9,734.9 186,731.7 199.3,739.4 184.3,731.5 180.9,733.2 201.5,738.6 189.4,737.5 207.6,742.5 213.1,738.4 203.1,740.4 203.7,744.9 199.7,746.3 179.5,734.5 196.9,734.9 183.3,737.4 182.8,742.6 187.4,731.2 195.2,750.1 211.3,734.5 180.5,735.2 190.3,734.3 182.6,740.5 207.3,732.6 184.5,737.6 193.7,733 190.8,742.2 199.1,737.8 178.8,740.2 201.2,742.7 203.6,737.3 185.9,738.8 214.5,738.5 202.9,745.5 181.8,739.7 188.1,734.8 179.6,741.5 190.6,739.4 175.8,737.8 203.4,738.7 214.5,739.1 212.5,736.2 182.2,737.3 194.3,726.8 199.4,730.3 195.4,724.2 197.3,749.5 177.9,737.2 195.1,723.9 198.5,742.4 196.6,726.6 214.6,738.4 198.1,738.8 196.5,732.9 199.9,731.8 177.6,736.5 198.6,748 198.8,734.9 206.9,734.4 191.4,742.7 205.3,741.2 191.6,727.7 179.8,734.2 189.3,734.9 214.1,737.2 196.2,725.4 201.2,746.3 176.2,736.7 209.8,735.3 197.9,741.3 188.2,745.1 209.5,737.1"/>
<path class="tk" d="M29.50 849.50v-2.8M29.50 626.50v2.8M76.83 849.50v-2.8M76.83 626.50v2.8M124.17 849.50v-2.8M124.17 626.50v2.8M171.50 849.50v-2.8M171.50 626.50v2.8M218.83 849.50v-2.8M218.83 626.50v2.8M266.17 849.50v-2.8M266.17 626.50v2.8M313.50 849.50v-2.8M313.50 626.50v2.8M29.50 626.50h2.8M313.50 626.50h-2.8M29.50 648.80h2.8M313.50 648.80h-2.8M29.50 671.10h2.8M313.50 671.10h-2.8M29.50 693.40h2.8M313.50 693.40h-2.8M29.50 715.70h2.8M313.50 715.70h-2.8M29.50 738.00h2.8M313.50 738.00h-2.8M29.50 760.30h2.8M313.50 760.30h-2.8M29.50 782.60h2.8M313.50 782.60h-2.8M29.50 804.90h2.8M313.50 804.90h-2.8M29.50 827.20h2.8M313.50 827.20h-2.8M29.50 849.50h2.8M313.50 849.50h-2.8"/>
<rect class="box" x="29.50" y="626.50" width="284.00" height="223.00"/>
<text class="tl" text-anchor="middle" x="29.5" y="861.7">-3</text>
<text class="tl" text-anchor="middle" x="76.8" y="861.7">-2</text>
<text class="tl" text-anchor="middle" x="124.2" y="861.7">-1</text>
<text class="tl" text-anchor="middle" x="171.5" y="861.7">0</text>
<text class="tl" text-anchor="middle" x="218.8" y="861.7">1</text>
<text class="tl" text-anchor="middle" x="266.2" y="861.7">2</text>
<text class="tl" text-anchor="middle" x="313.5" y="861.7">3</text>
<text class="tl" text-anchor="end" x="26.5" y="630.3">2.5</text>
<text class="tl" text-anchor="end" x="26.5" y="652.6">2.0</text>
<text class="tl" text-anchor="end" x="26.5" y="674.9">1.5</text>
<text class="tl" text-anchor="end" x="26.5" y="697.2">1.0</text>
<text class="tl" text-anchor="end" x="26.5" y="719.5">0.5</text>
<text class="tl" text-anchor="end" x="26.5" y="741.8">0</text>
<text class="tl" text-anchor="end" x="26.5" y="764.1">-0.5</text>
<text class="tl" text-anchor="end" x="26.5" y="786.4">-1.0</text>
<text class="tl" text-anchor="end" x="26.5" y="808.7">-1.5</text>
<text class="tl" text-anchor="end" x="26.5" y="831.0">-2.0</text>
<text class="tl" text-anchor="end" x="26.5" y="853.3">-2.5</text>
<text class="al" text-anchor="middle" x="172.6" y="874.9">Real</text>
<text class="al" text-anchor="middle" transform="translate(7.7 736.2) rotate(-90)">Imaginary</text>
</g>
<g id="plot-e">
<polyline class="pts" style="marker-start:url(#mb);marker-mid:url(#mb);marker-end:url(#mb)" points="429.6,738 530.9,738 584.8,738 590.5,738 645.4,738 561.2,660.7 561.2,668.9 561.2,687.5 561.2,691.2 561.2,815.3 561.2,807.1 561.2,788.5 561.2,784.8 561.1,713.6 561.3,705.4 560.9,704.3 561.1,697.2 560,724.3 561,728.5 562.5,728.2 561.5,707 561,698.3 560.7,709.8 564.7,729.5 560.6,714.1 561.4,708.8 560.1,721.7 561.5,717.6 561.3,703 561.7,725.2 561,724.5 562.1,732.2 556.8,731.6 561.2,714.9 565.7,731.9 561.1,722.8 561.1,703.2 561.2,696.1 560.9,706 558.1,732.5 561.2,701.4 561.3,701.3 560.9,721.1 561.3,709.3 561.3,712.5 561.2,725.6 560.5,722.9 560.4,722.3 561,697.2 560.7,716.1 561.1,699.6 561.3,695.9 562,727.9 561.2,712.6 561.2,704.1 560.7,710.4 559.1,725.4 561,705.2 561.2,706.2 561.1,717.8 564,730.2 565.8,730.6 560.8,727.6 560.3,725 561.3,702.4 561.1,703.3 560,724.9 560.9,702.5 560.7,710.5 561.4,707.1 561.5,712.6 561.5,708.6 561.2,717.7 561.5,716.8 561.1,698.9 561.3,701.2 561,715.7 561.3,698 560.8,712.2 561,702.3 564.8,732.7 562.3,725 560.9,721.2 561.3,713.5 561,703.6 557.9,730.1 561.1,717.8 562.9,729.1 561.5,710.7 557.8,732.9 561.7,713.4 560.4,721.4 560.5,720 561.4,707 561.3,717 562,726.2 561.2,721.9 560.4,721.7 561.5,705.1 559.6,724.7 561.2,696.6 561,711.2 560.9,700.2 561,716.6 561.6,717 561.6,709.2 561.3,698.6 561,701.8 561.6,721.6 565.3,729.9 560.9,724 562.5,733.4 561.1,700.3 561.2,696 561.1,700.3 561.3,696.5 561.1,714.7 561.3,709.9 561.2,696.9 560.7,714.9 561.1,696.4 561,718.4 560.8,717.4 563.7,730.9 561.1,721.1 562.4,729.3 561.3,698.7 562.8,725.1 560.7,712.8 561.8,718 561.1,707.8 561.1,710.3 561.7,721 564,732.1 561.5,728.6 563.2,731.7 557.8,728.4 562.6,725 560.8,724 561.1,703.2 560.8,705.9 560.7,721.4 560.9,711.8 564.4,732.1 561.4,706.3 561.4,700.6 561.7,726.6 561.6,709.3 561.6,720.5 560.9,706.6 559.3,727.9 561.4,702.2 560.8,706.6 561.2,697.4 561.1,716 561.6,718 562.3,723.5 560.7,715.8 563.5,726.3 561.3,705.1 561.1,697.8 561,704.3 560.6,716.8 561.2,712.7 561.6,709.6 561.8,720.2 561.5,714.9 561.4,701.9 560.9,719.3 562.9,730.8 561.1,710.4 563.5,726.7 560.6,715.3 561.2,712.2 557.2,731.6 561,702.1 559.8,722.8 561.2,696.7 558.1,732.2 559.5,725.1 561.2,713 561.6,711.7 560.2,733.1 560.9,712.1 561.2,706.5 560.7,711.7 561.5,721.8 561.5,721.7 560.8,730.7 561.7,722.2 561.4,723.8 561.3,702.4 561.8,723.2 561.5,703.7 561.7,717.7 560.8,714.9 561.4,714.4 560.3,724.3 559.8,727.5 561.4,715.6 562.3,722.2 561.3,696.3 559.9,727.3 561.4,713.4 561.4,709.2 561.4,709.4 561.2,703.5 563,726.8 560.9,717.1 562.3,724 565.5,732.9 561.1,700.6 561,698.6 561.2,697.1 560.6,716.9 561.2,723.9 561.5,705.1 561.7,721.7 561.4,700.8 561,698.1 561.6,730.1 561.5,720 560.9,703.9 560.9,710.3 561.5,720.1 561.1,701.8 557.7,732.1 561.2,696.5 560.8,709.7 558.4,728.9 560.7,709.9 565,730.1 561,703.3 560.8,709.1 561.4,704.2 561.4,708.8 561,696 560.6,717.6 561.4,700.2 560.4,720.2 561.7,719.2 561.7,717.6 560.9,722.4 560.6,718.6 561.1,712.2 561.3,714.3 561.3,696.7 560.9,712.4 561.4,702 562.6,723 561.9,723.3 561.5,726.8 561.1,714.3 561.4,703.2 561.6,714.8 561,707.1 557.7,731.7 560.2,722.1 561.1,697 561.1,702.4 561.4,721.2 561.1,701.5 561.3,704.4 561.1,698.6 561.7,715.3 561.2,710.4 562.2,730.9 562.6,725.3 561.3,705.4 561.1,705.4 558.5,730.3 556.8,732.5 561,713.4 561.1,762.4 561.3,770.6 560.9,771.7 561.1,778.8 560,751.7 561,747.5 562.5,747.8 561.5,769 561,777.7 560.7,766.2 564.7,746.5 560.6,761.9 561.4,767.2 560.1,754.3 561.5,758.4 561.3,773 561.7,750.8 561,751.5 562.1,743.8 556.8,744.4 561.2,761.1 565.7,744.1 561.1,753.2 561.1,772.8 561.2,779.9 560.9,770 558.1,743.5 561.2,774.6 561.3,774.7 560.9,754.9 561.3,766.7 561.3,763.5 561.2,750.4 560.5,753.1 560.4,753.7 561,778.8 560.7,759.9 561.1,776.4 561.3,780.1 562,748.1 561.2,763.4 561.2,771.9 560.7,765.6 559.1,750.6 561,770.8 561.2,769.8 561.1,758.2 564,745.8 565.8,745.4 560.8,748.4 560.3,751 561.3,773.6 561.1,772.7 560,751.1 560.9,773.5 560.7,765.5 561.4,768.9 561.5,763.4 561.5,767.4 561.2,758.3 561.5,759.2 561.1,777.1 561.3,774.8 561,760.3 561.3,778 560.8,763.8 561,773.7 564.8,743.3 562.3,751 560.9,754.8 561.3,762.5 561,772.4 557.9,745.9 561.1,758.2 562.9,746.9 561.5,765.3 557.8,743.1 561.7,762.6 560.4,754.6 560.5,756 561.4,769 561.3,759 562,749.8 561.2,754.1 560.4,754.3 561.5,770.9 559.6,751.3 561.2,779.4 561,764.8 560.9,775.8 561,759.4 561.6,759 561.6,766.8 561.3,777.4 561,774.2 561.6,754.4 565.3,746.1 560.9,752 562.5,742.6 561.1,775.7 561.2,780 561.1,775.7 561.3,779.5 561.1,761.3 561.3,766.1 561.2,779.1 560.7,761.1 561.1,779.6 561,757.6 560.8,758.6 563.7,745.1 561.1,754.9 562.4,746.7 561.3,777.3 562.8,750.9 560.7,763.2 561.8,758 561.1,768.2 561.1,765.7 561.7,755 564,743.9 561.5,747.4 563.2,744.3 557.8,747.6 562.6,751 560.8,752 561.1,772.8 560.8,770.1 560.7,754.6 560.9,764.2 564.4,743.9 561.4,769.7 561.4,775.4 561.7,749.4 561.6,766.7 561.6,755.5 560.9,769.4 559.3,748.1 561.4,773.8 560.8,769.4 561.2,778.6 561.1,760 561.6,758 562.3,752.5 560.7,760.2 563.5,749.7 561.3,770.9 561.1,778.2 561,771.7 560.6,759.2 561.2,763.3 561.6,766.4 561.8,755.8 561.5,761.1 561.4,774.1 560.9,756.7 562.9,745.2 561.1,765.6 563.5,749.3 560.6,760.7 561.2,763.8 557.2,744.4 561,773.9 559.8,753.2 561.2,779.3 558.1,743.8 559.5,750.9 561.2,763 561.6,764.3 560.2,742.9 560.9,763.9 561.2,769.5 560.7,764.3 561.5,754.2 561.5,754.3 560.8,745.3 561.7,753.8 561.4,752.2 561.3,773.6 561.8,752.8 561.5,772.3 561.7,758.3 560.8,761.1 561.4,761.6 560.3,751.7 559.8,748.5 561.4,760.4 562.3,753.8 561.3,779.7 559.9,748.7 561.4,762.6 561.4,766.8 561.4,766.6 561.2,772.5 563,749.2 560.9,758.9 562.3,752 565.5,743.1 561.1,775.4 561,777.4 561.2,778.9 560.6,759.1 561.2,752.1 561.5,770.9 561.7,754.3 561.4,775.2 561,777.9 561.6,745.9 561.5,756 560.9,772.1 560.9,765.7 561.5,755.9 561.1,774.2 557.7,743.9 561.2,779.5 560.8,766.3 558.4,747.1 560.7,766.1 565,745.9 561,772.7 560.8,766.9 561.4,771.8 561.4,767.2 561,780 560.6,758.4 561.4,775.8 560.4,755.8 561.7,756.8 561.7,758.4 560.9,753.6 560.6,757.4 561.1,763.8 561.3,761.7 561.3,779.3 560.9,763.6 561.4,774 562.6,753 561.9,752.7 561.5,749.2 561.1,761.7 561.4,772.8 561.6,761.2 561,768.9 557.7,744.3 560.2,753.9 561.1,779 561.1,773.6 561.4,754.8 561.1,774.5 561.3,771.6 561.1,777.4 561.7,760.7 561.2,765.6 562.2,745.1 562.6,750.7 561.3,770.6 561.1,770.6 558.5,745.7 556.8,743.5 561,762.6 544.7,738.5 545.9,738.2 576.6,732.6 544.6,742.1 577.5,733.3 552.1,743.5 570.5,739.1 554.1,736.4 568.3,743 564.6,739.8 542.6,740.8 570.2,742.7 568.3,742.8 566.5,733.9 559,732.1 569.9,741.2 576.4,736.6 572.3,734.9 550.4,735.9 565.8,738.4 544.3,737 552,734.1 545.1,740.2 569.1,733.1 548.6,736.7 565.6,732.2 549.7,732.9 558.7,732.9 576.7,736.3 579.2,740.7 572.8,733.5 574.3,739.2 558.6,732.8 561.1,734.3 572.9,740.9 570,733 560.2,742.7 556.3,735.4 556.8,738.3 579.7,739.5 570.5,736.9 547,734 550.3,741.3 545.1,739.2 576.4,739.1 579.9,737.5 563.4,732.1 551.7,740.6 552.5,742.5 559.2,742.3 542,737.2 556.6,734.5 575,733.4 552,739.9 545.8,742.7 548.4,737.8 543.5,737.8 551.4,737.9 558.9,741.5 570.1,732.9 545.4,735.9 573.6,736.7 575.8,733.3 567.3,734 568.3,742.5 557.7,741.3 574.4,736.1 555.3,733.3 547.1,741.5 553,739.4 544.3,735.6 563.4,741.9 569.3,737.3 571.7,742.8 545.5,738.2 551.4,737.1 575.1,738.7 577.1,741.4 575.1,733.3 555.9,732.7 557.2,742.3 554.6,741.5 555.7,740.6 557,738.8 544.4,735.9 556.3,738.7 573.1,741.9 569.7,733 554.3,739.5 563.7,733.6 566.4,734.5 579.3,738.8 558.5,734.4 566,735.5 568.7,738.6 565.8,743 550.1,741 566.5,742.5 570.3,737.1 551.4,735.1 577.3,733.5 551.9,742.4 570.4,735.1 559.4,741.9 580.5,738.2 546.4,733.6 569.8,738 580.4,737.8 563.6,733.7 568.9,732.9 543.9,738 542,737.9 554.8,738.1 554.6,739.2 546.5,736.6 574.2,741.2 575.5,742.9 557.3,738.8 556.2,734.3 573,740.4 554.8,742.3 572.5,740.5 569.5,742.8 544.9,738.6 576.5,738.3 575.3,743.7 544.1,741.5 573.4,737.6 556.9,738.9 566.8,739.7 566.7,735.1 543.7,737.9 571.4,734 563.6,732.1 550.2,736.4 564.3,734.1 576.6,735.1 543.1,741.1 566.6,739.7 549.3,740.7 551.6,738.5 543.3,734 567.7,735.2 571.5,739.3 573.4,739 554.4,733.8 565,735.6 552,735.6 568.3,741.4 575.6,738 577.2,740 543.9,734 565.7,736.9 575,742.6 545.4,739.2 552.2,742.5 543.3,738.4 545.5,738.9 542.6,739.3 548.8,742.1 555.6,740.3 561.3,741.9 551,735.7 573.3,737.4 560.3,741.8 554.3,738 556.4,732.9 580.2,738.2 571.9,742.2 574.8,736.9 573.6,737.5 541.8,737.8 549.6,735.5 565.5,735 542.8,737.6 546.6,739 551.4,735.8 562.9,733.2 550.3,742 545.6,732.3 567.3,735.2 564.4,733.3 565.9,738.2 547.1,742.3 566.4,736.9 551.8,741.9 548.5,733.1 543.5,740.2 579.6,740.1 547.4,743.6 553.5,733.2 567.7,737.5 547,739.6 578.4,736.3 567.8,736.7 576,733.5 555,740.1 576.1,741.5 571.3,738.6 568.8,732.1 550.1,736 571.9,742.5 545.4,739 552.6,736.4 568.9,740.2 569.2,741 553.7,733.8 549.6,738.6 567.1,739.8 545.9,737.3 575.8,739.3 572,732.8 573,741 573.4,735.3 568,739.7 554.5,741 544.2,740 567,737.5 576.9,735.1 544.3,739.5 580.5,737.9 566,732.3 542.3,737.5 545.4,734.8 546.8,733.9 567.8,740.9 564.2,732.4 548.7,741.7 553.7,733.6 577.2,739.7 549.5,741.8 547.7,732.7 556.7,741.9 544.2,741.2 580.1,738.6 545.8,741.4 550.1,736.2 573.2,743.4 544.3,739.2 566.5,738.1 568,734.8 543.5,737.5 574,738.2 566.8,733.1 551.1,733.8 578.8,736.9 547.5,739.4 561.4,733.2 545.8,737 563.4,741.3 569.9,733.1 562.7,734.4 570.8,735.5 557.4,735.1 542,737.4 553.9,743.8 542.9,737 555.1,734.9 570.3,739.5 574.6,741.3 559.7,733.2 573.4,732.7 546.8,743.8 571.4,733.7 557.4,742.5 567.6,734.7 558.5,732.8 578.6,735.7 564.8,733.7 547.7,743.9 573.5,743.4 548.1,734.3 569,736.6 556.3,739.2 575.4,743.4 550.3,742.5 577.2,743.3 576.4,742.8 546.1,742.3 567.8,740.8 563.5,732.9 566,732.2 565.9,738.2 572.3,741.5 545.2,742.9 552.3,732.9 578.6,742.4 544.5,736.4 543.6,742.4 556.4,742.8 565.4,737.4 570.4,736.2 572,740.4 570.5,743.8 579.3,738.1 575,737.4 556.6,741.2 547.6,733.1 554.7,742.4 544.5,739.6 566.7,733 569.8,738.7 568.8,739.1 565.5,736.2 555.8,736.9 572.1,732.9 573.3,736.2 558,735.2 543.3,740.7 579.2,734.9 542.1,737.8 569.5,740.3 546.8,741 557.6,735.6 550.6,741.3 545.8,736.7 576.2,733.1 569.6,733 570.2,742.3 545.2,742.5 565,736.4 556.8,739 545.6,737.3 562.7,733.2 571.8,741.8 579.7,739.1 563.7,741.3 571.6,738.5 546.2,734.9 557.5,739.5 549.1,732.1 555.5,732.4 567.9,732.8 570.9,741.5 553,737.3 546.6,738.9 556.7,741.5 576.4,734.8 562.1,732.8 576.6,741.6 548.2,737.4 574,735.1 547.9,732.3 571.9,734.5 544.2,735.3 568.2,742.5 545.1,732.7 567,741.1 547.7,740.3 572.5,741.3 561.1,742.8 569,738.1 576.6,734.8 556.7,735 551.7,739.1 575.8,737 556.9,740.6 541.9,738.2 570.9,739.7 546,735.7 561.3,733.8 553.9,734.2 570.8,734.4 546.1,733.7 575.4,739.4 570.2,733.2 568.9,738.7 548.2,736.4 543.3,741.9 569.5,741.1 576.8,739.5 545.5,733.9 553,732.2 580.5,738.3 548.6,741.8 552.3,734.3 553.8,735.9 556,741.3 575.7,740.5 565,743 548.8,732.2 557.5,735.2 574.6,743.2 556.8,732.4 564.9,739.7 573.2,736.4 563.2,733.8 567.5,741 557.3,743.6 565.2,734.4 556.4,734.7 547,743.8 562.8,743.7 555.5,736.1 572.8,738.3 563,732.2 565.5,733.5 548.1,740.2 564.9,738.4 572.4,740.3 555.4,734.5 552.4,736.6 554.8,742.5 542.9,738.7 556,743.7 575.8,740.3 568.6,736.2 556.9,736.8 547.4,742.3 574.8,738.5 570.4,742.2 571.3,739.5 576,733.9 556.7,732.1 542.4,737.6 580.5,737.7 559.3,741.3 566.4,742.7 549.8,737.4 569.9,743.2 569.7,742.3 565.5,732.6 570.2,735.2 549,736.9 578.7,737.3 564.8,742.4 562.2,733.8 580.1,736.4 564.6,739.7 544,734.5 573.9,732.2 542.4,737.6 544.9,733.8 551.8,738.4 549.9,734.9 569.3,737.9 577.8,743 566.8,740.8 567.1,738.2 551.8,734.2 562.8,732.7 545.8,741.3 558,740.9 571.3,734.1 567.3,740.7 543.5,737.3 552.7,742.5 563.6,742.8 546.3,742.5 543,736 567.6,732.8 554.3,733.6 560,742.3 571.3,736.9 563.8,733.7 549.3,741 564.9,738.5 551.4,740.6 570.3,736.2 546.4,740.4 574.6,738.7 573.3,738.1 573.7,735.8 542.4,736.1 574.5,732.9 574.5,739.6 552,738.1 570.4,743.5 577.6,739.5 580.2,737.4 544.6,735.3 560.5,733.3 569.1,734.1 566.8,742.4 551.4,738.2 550.8,736.5 567.2,741.6 547.4,734.1 554.5,734.7 556.3,740.1 543.5,740.4 563.8,742.5 542.8,741.6 566.6,743 542.7,740.6 554.4,732.9 547.6,735.9 559.1,733.7 553.4,742.4 560.5,733 553.8,733.3 576,741.8 558.4,742.2 544.8,735.7 559.2,741.5 558,735.8"/>
<path class="tk" d="M395.50 849.50v-2.8M395.50 626.50v2.8M442.83 849.50v-2.8M442.83 626.50v2.8M490.17 849.50v-2.8M490.17 626.50v2.8M537.50 849.50v-2.8M537.50 626.50v2.8M584.83 849.50v-2.8M584.83 626.50v2.8M632.17 849.50v-2.8M632.17 626.50v2.8M679.50 849.50v-2.8M679.50 626.50v2.8M395.50 626.50h2.8M679.50 626.50h-2.8M395.50 663.67h2.8M679.50 663.67h-2.8M395.50 700.83h2.8M679.50 700.83h-2.8M395.50 738.00h2.8M679.50 738.00h-2.8M395.50 775.17h2.8M679.50 775.17h-2.8M395.50 812.33h2.8M679.50 812.33h-2.8M395.50 849.50h2.8M679.50 849.50h-2.8"/>
<rect class="box" x="395.50" y="626.50" width="284.00" height="223.00"/>
<text class="tl" text-anchor="middle" x="395.5" y="861.7">-3</text>
<text class="tl" text-anchor="middle" x="442.8" y="861.7">-2</text>
<text class="tl" text-anchor="middle" x="490.2" y="861.7">-1</text>
<text class="tl" text-anchor="middle" x="537.5" y="861.7">0</text>
<text class="tl" text-anchor="middle" x="584.8" y="861.7">1</text>
<text class="tl" text-anchor="middle" x="632.2" y="861.7">2</text>
<text class="tl" text-anchor="middle" x="679.5" y="861.7">3</text>
<text class="tl" text-anchor="end" x="392.5" y="630.3">1.5</text>
<text class="tl" text-anchor="end" x="392.5" y="667.5">1.0</text>
<text class="tl" text-anchor="end" x="392.5" y="704.6">0.5</text>
<text class="tl" text-anchor="end" x="392.5" y="741.8">0</text>
<text class="tl" text-anchor="end" x="392.5" y="779.0">-0.5</text>
<text class="tl" text-anchor="end" x="392.5" y="816.1">-1.0</text>
<text class="tl" text-anchor="end" x="392.5" y="853.3">-1.5</text>
<text class="al" text-anchor="middle" x="538.8" y="874.9">Real</text>
<text class="al" text-anchor="middle" transform="translate(373.0 736.0) rotate(-90)">Imaginary</text>
</g>
<g id="plot-f">
<polyline class="pts" style="marker-start:url(#mb);marker-mid:url(#mb);marker-end:url(#mb)" points="80.6,1050 88.2,1050 97.7,1050 107.2,1050 151.1,1050 158.2,1050 189.4,1050 252.6,1050 285.1,1050 54.5,954.9 54.5,1145.1 95.2,959.5 94.4,962.5 98.1,963.6 100.1,966.4 101.3,967.8 103.7,969.9 95.2,1140.5 94.4,1137.5 98.1,1136.4 100.1,1133.6 101.3,1132.2 103.7,1130.1 109.5,977.5 118.7,1044.9 116.9,1046.1 126.1,1018.5 125,1016.7 125.5,1017.3 124.7,1016.3 125,1032.5 126.2,1025.8 116.7,991.3 128,1043 137.4,1038.4 130.4,1032.7 140.5,1046.9 127.2,1037.4 124.7,1017.6 127.1,1017.1 105.6,971.6 128.6,1033.6 127.1,1021.1 120.7,1006.5 118.6,995.3 109.6,977.7 118.8,1044.5 106.3,972.8 126.7,1034.3 121,1047.1 121.5,1009.9 119.9,999.4 133,1038.3 118.5,994.5 122.3,1040.7 116.7,1043.3 118.2,994.5 120.9,1004.1 125.4,1016.9 118,1038.5 122.5,1004.5 123.4,1008.2 123.3,1006.9 127.9,1017.8 133,1046.9 133.6,1041.4 135,1049.2 114,984.8 121.2,1006.6 132,1036 137.2,1048.8 106.7,973.1 135,1049.2 128.5,1026.2 113.5,985.6 138,1035.4 121,1046.8 135.3,1046.5 125.2,1049.4 133,1032.9 125.8,1016.1 133.1,1040.9 132.9,1031 124,1020.1 128,1018.3 132.6,1032.6 120.5,1002.4 129.3,1042.6 114.9,986.9 122.2,1016.6 122.9,1047.8 121.2,1032.3 128.6,1043 136.3,1034.2 120.1,1042 135.9,1048.6 127.9,1021.4 121.3,1006.6 105.7,971.7 139.4,1041.5 116.1,991.4 139.3,1043.1 123.4,1049.8 121.7,1049.4 111.7,982 123.4,1025.4 117.6,993.2 124.5,1021.6 126.8,1013.5 120.1,998.8 123,1030.2 122.5,1004 110.1,978.4 107.5,974.5 109.7,977.9 118.5,1036.1 116.5,990.6 123.1,1015.8 124.8,1040 130.1,1040.7 119.5,1049 111.9,981.3 129.4,1045.2 105.1,970.7 123.8,1038.2 126.2,1040.8 116,990.2 121.3,1003.8 122.5,1025.2 127.8,1036.2 123,1026.7 106.7,973.4 121.8,1005.4 119.8,997.8 127.8,1025.9 136.6,1049 144.6,1049.7 144.5,1049.6 113.6,984.4 117.5,994.3 128.5,1031.9 116.5,992.6 124.3,1025 128.2,1023.2 105,970.7 136,1038.6 105.8,971.9 122.5,1006.1 128.5,1028.5 131,1046.6 125.5,1013.6 116.4,989.6 120.1,1003.1 126.1,1037.8 141.9,1049.9 130.8,1033 126.8,1012.7 125.4,1011.9 107.9,975 122.9,1030.7 118.6,997.9 125.8,1015.7 121.7,1004 128.1,1032.7 108.4,976 126.3,1049 128.8,1028.8 125.2,1020.3 115.1,988.7 122.5,1008.1 127.2,1034.9 128.4,1042.3 130.2,1021.7 110.6,979.2 125.6,1015.1 141.1,1045.1 118,994.9 119.3,1044.3 124.8,1045.9 128.8,1030.2 125.1,1014.5 117.6,991.4 140.4,1041.1 128.2,1049 140.7,1046.6 107.2,974.1 125.7,1017.4 117.3,1047.2 117.6,992.7 142.9,1049.7 119.9,1050 117,991.1 125,1015.3 122.8,1010.4 129.6,1031 121.7,1045.1 118.5,994.3 137.3,1050 123.8,1038.1 123.3,1005.3 143.5,1049.3 135.1,1043.4 126.4,1018.4 113.6,983.9 133.1,1034.5 123,1010.3 123.5,1024.8 123.8,1009 132.4,1028 128.1,1025.9 122.2,1010.6 105,970.8 139.3,1049.8 124,1030.7 137.1,1047.7 125,1015.9 134.4,1047.3 123.3,1009.4 117.3,1049.6 136.6,1048.7 138.3,1048.9 128.6,1018.8 131.1,1038 143.5,1049.9 124.4,1028.7 126,1021.7 129.9,1025 122.3,1010.7 120.6,1003.6 120.3,1000.7 119,997.2 120.6,998.5 133.8,1038.9 122.8,1014.4 126.6,1036.5 123.7,1010.2 115.7,989.2 106.2,972.5 123.2,1048.1 116.4,991.8 113.3,984.5 134.4,1033 124.5,1045.3 106,972.3 122.7,1048.4 115.8,990.9 132.3,1041.6 111.2,980.5 118.5,994.7 121.2,999.4 123.8,1009 121.6,1003.4 135.9,1038.2 113.3,983.6 122.8,1032.4 128,1036.1 115.8,1049.9 120,1036.5 121.5,1046.9 126.2,1022.9 122.8,1006.4 126,1047.6 112.6,983 117.7,1037.3 133.6,1049.2 115.6,1047 115.8,987.8 110.5,978.8 118.8,1039.9 132.8,1050 126,1028.7 133.3,1036.2 117.8,1046.8 122.8,1005.4 120,1047 126.8,1026.1 119.1,1035.6 121.2,1028.8 124.6,1015.5 129.7,1041 122.4,1048.7 107.2,973.9 129.8,1035.1 123,1049.6 115.5,988 130,1027.6 124.3,1009.2 129.4,1024.8 122.2,1020.3 128.6,1022.9 122.7,1049.9 134.4,1040.9 120.4,1050 127.2,1016.9 126.8,1026.8 125.5,1013.3 123.2,1040.8 118.3,992.9 117,991.3 129.7,1030.3 124.5,1015 124.8,1015.2 125,1011.5 123.4,1015.6 135.8,1039.6 134.4,1033.6 118.7,996.6 124.6,1016.3 121.7,1033.1 108.2,975.7 116.6,1050 121.2,1004.2 122.5,1047 115.5,1047.7 118,995.3 119.1,999.6 115,987.9 123.9,1012.6 122.9,1037.8 136.4,1046.2 121.6,1001.2 121.8,1004 122.4,1008.7 124.2,1029.8 123.5,1012.2 118.6,1046.6 109.3,977.2 119.1,999.6 128.8,1035.7 120.7,1042.5 126.6,1040.1 113.4,984.9 136.9,1033.2 112.6,983 127.3,1015.4 130.5,1044.3 134.8,1041.9 117.9,993.2 130.1,1022.2 127.2,1042.2 122.8,1034 123.5,1020.5 124.5,1019.6 105.3,971.2 108.4,976.1 113.7,984.1 126.8,1015.9 121.7,1041.8 124.2,1013.3 120.3,1003.2 128.1,1048 108.5,976.3 129.5,1024 117.9,994 125.4,1037.7 118.1,993.7 120,1037.4 124.9,1049.9 124.3,1022.9 130.6,1029.4 117.9,1049.2 120.9,999.8 126.2,1037.2 127.8,1018.6 125.7,1010.5 128.3,1035.1 121.9,1048.9 120.1,996.5 120.5,1002.1 134.4,1040.2 131.1,1029.3 127.4,1020.1 133.5,1035.1 107.6,974.3 125.2,1017.2 117.7,1048.2 135.7,1049.7 124.8,1025.5 121.6,1000.6 135.3,1040.5 121.8,1025.8 116.1,988.7 122.3,1007.4 119.5,996.2 128.2,1041.4 127.4,1031.1 121.8,1002.5 108.1,975.5 124.2,1031.2 123.4,1027.9 133.3,1047.6 112.4,982.4 125.7,1036.7 122,1031.1 119.1,1000.4 129.3,1025 107.7,974.5 117.1,992.8 120.6,1001.3 124.1,1026 113.1,984.2 135.8,1044 123.8,1007.7 129.8,1027.1 115.1,989.2 141.4,1049.9 105.1,970.9 135.2,1032.5 133.2,1039.8 127,1040 116.3,1049.9 135.1,1046.7 118.5,997 119.9,999.2 122.1,1026.6 122.5,1006.5 129.3,1033.6 139.8,1045.2 124.2,1038.5 127.5,1034.8 113.4,984.3 125.1,1011.4 123.1,1016.4 117.5,1042.7 108,975.3 110.4,979.1 116,989.1 113.9,984.9 122,1043.1 111.7,981.1 129.1,1031.3 135.9,1046.7 135.4,1037.9 128.8,1041.5 132.9,1038.9 114.4,986.3 137.7,1044 140.1,1041.1 125.6,1019.9 108.3,975.4 122.6,1002.8 127.5,1026.2 116.7,1043.6 116.9,993.6 134.3,1029.7 134.8,1049.8 124.8,1045.7 127.9,1026.5 136.4,1036.8 132.1,1046.8 127.8,1023.8 124.4,1027.2 126,1039 127.9,1040.8 128,1039.1 125,1011 135.3,1047.7 125.6,1039.2 126,1022.6 122.3,1022.2 118.7,997.7 131.9,1030.2 118.9,1034.9 122.5,1044.3 119.2,1040.4 121.5,1045.5 116.9,993.9 141.9,1043.5 119.5,995.1 124.4,1007.8 119.7,997.4 123.3,1006.4 139.9,1050 140.2,1039.7 115.1,987.2 114.4,1049.9 123.9,1049.6 131.9,1029.7 118.9,995.2 134.9,1044.8 125.8,1017.1 132,1030.5 125.6,1026.3 126.1,1012.9 111.9,981.3 130.4,1028.6 132.4,1040.2 117.2,994.5 122.9,1041 116.6,1049.6 136.2,1047.2 127.5,1022.3 119.8,996.3 117.5,995.3 107.4,974.1 124.2,1007.3 122.6,1037.6 120.1,1001.6 129.1,1046.3 125.8,1042.9 127.6,1014.5 124.6,1030.9 133.9,1040.2 105.5,971.6 133.6,1046.6 125,1021.8 117.4,991 142.8,1046 114.3,986.7 115.5,987.2 122.9,1009.3 118.5,1041.8 124.2,1013.9 114.8,1049.7 130.4,1039.1 121.7,1030.5 119.6,999 108.5,976.2 130.3,1032.2 124.3,1045.8 115.8,989 139.3,1048 124.9,1049.8 119.7,1041 123.7,1020.3 121.6,1008.7 122.3,1032.8 115.4,1044.5 117.5,1046.4 127.2,1022.6 131.4,1034.4 118.7,994.5 116.9,990.2 120.7,1048.7 111.4,980.6 116.1,990.2 114.3,985.6 115.3,989.1 125.1,1012.4 114.5,986.2 123.4,1009.8 122.9,1016.1 120.9,1003.6 123.3,1017.4 121.1,1048.5 141,1049 107.5,974.2 124.7,1049.7 121.3,999.8 127.8,1016.6 119.8,1045.5 109.4,977.7 124,1012.7 115.2,987.5 121.3,1003.1 124.9,1029.4 124.8,1048 105.8,972.1 117.7,1040.4 122.1,1005.1 119.4,1041.1 120.2,1001.6 125.4,1013.5 128.3,1040.5 114.2,986.3 131.5,1037 105.8,971.8 110.6,979.1 138.4,1048.5 136.7,1049 135.2,1033.2 121.2,1005.5 119.6,1049.8 115.3,988.2 111,980.5 132.3,1048.2 122.9,1012.4 132.4,1046 119.3,997.9 136.8,1049.6 120.6,1034.3 123.8,1029.2 115.4,988.1 127.2,1031.5 120.7,1034.2 138.2,1042 126.2,1036.5 131.1,1037.2 121.3,1002.2 130,1025 115.8,989.7 110.9,979.4 125.5,1011.8 127.2,1021.3 137.6,1045.8 141.6,1049.9 113.3,984.2 125.9,1024.8 118.6,1044.7 132.3,1038.6 133.9,1047.8 123.9,1035.3 129,1033.3 116,1049.7 116.6,990.6 127.5,1028.9 126.8,1047.6 122.4,1007.6 137.2,1042.1 113.1,983.7 116.9,993.8 111.8,981.4 126,1034 123,1044.5 115.6,990.3 119.8,1047.1 116.1,990.1 120.9,1002.7 124.4,1022.5 116.5,990.1 114.8,986.4 124,1013.5 140.4,1049.9 137,1045.6 124.5,1018.3 107.3,974.2 115.1,1046.1 129.8,1038.7 128.8,1033.4 126.9,1038 124.3,1028.6 124.2,1039.8 135.6,1044.2 108.5,976.2 124.8,1012.9 122.7,1012.2 134,1039.9 124.4,1014.1 125.6,1041.8 126.5,1026 113.6,985 124.4,1014.8 130.8,1042.4 128.1,1025.7 111.7,981.6 123,1048.4 122.2,1008.5 122.8,1014.8 132.4,1030.1 124.2,1011.9 142.1,1046.8 140.6,1042.3 120.1,1003.9 113.4,984.5 122.4,1017.8 123.6,1015.3 112.8,983.9 134.3,1049.9 138.3,1045.8 119.9,1000.7 121,1007.6 124.4,1017.4 126.5,1037 137,1038.4 126.5,1014.4 108.7,976.4 135.1,1031.5 126,1028.8 110.4,978.6 126.9,1020.2 122.4,1044.7 115.4,989.3 140.8,1042.3 124,1049.9 136.8,1039.6 120.3,1037.3 121.3,1000.3 137.7,1041.1 123.4,1017.8 131.3,1038.5 127.2,1028.1 127,1047.6 140.9,1045.7 135.2,1032 115.4,988.7 138.2,1044.3 118,1048.3 124.1,1048.5 119.7,997.6 135.1,1038.9 129,1035.8 143.2,1047.8 130.9,1028.7 126.2,1038.5 124.7,1048.6 125.7,1015.2 126.5,1031.4 123,1037.4 123.4,1046.9 128.6,1030.4 132.2,1039.5 135.1,1039.2 138.3,1049.7 122.2,1023.4 120,1002.3 144.2,1049.6 121.5,1002.5 128.3,1041.4 106.9,973.5 122.9,1007.8 135.1,1049.8 123.8,1020 123.2,1048.6 127.5,1028.6 120.6,1002.7 121.3,1006.1 128.7,1031.1 137.4,1049.4 127.1,1029.5 127.8,1020.3 132.3,1049.6 121.7,1025.6 124.2,1010.3 136.4,1044.6 108.9,976.6 117,991.4 129,1023.7 119.7,997.6 136.4,1034.3 132.3,1046.7 132.1,1040.2 122.2,1034.2 118.4,1044.8 125.8,1016.6 111.9,981.2 129.2,1048.8 125.6,1020.1 124.3,1046.9 114,985.3 115.8,989.5 129.1,1030.5 127.9,1027.5 122,1045.1 137.3,1046.7 124.1,1034.4 129.1,1020.1 131.8,1041.1 106.8,973.4 121.9,1006 129.1,1041 124.7,1038.5 134.1,1029.1 111.2,980.7 132.9,1026.5 129.4,1042 123.9,1012.9 134.7,1045.5 121,1002.8 105.1,971 143.9,1047.4 112.9,983.6 124.9,1047.9 114.1,984.9 115.9,990.9 121.9,1009.1 115.4,989.3 120.2,998.9 122.4,1005.2 123,1006.5 137.6,1039 112.1,981.8 130.9,1030.6 135.5,1042.7 134.1,1050 131.5,1032.3 123,1047.2 133.2,1040.1 141.7,1042.7 137.9,1044.1 125.9,1014.5 113.8,986.2 124.2,1046.4 117.5,994.9 115.4,988 127.8,1029.6 114.6,1045.4 127,1016.1 120.8,1004.4 117.7,992.7 114.1,1049 107.9,975 120.8,1002.9 131.3,1035.5 125.4,1042.5 120.2,1042.4 137,1044.7 133,1035.5 121,1033.8 128.1,1016.7 130.1,1027.4 118,1049.4 110.8,980.3 128.5,1049.1 129.2,1023.3 133.1,1033.9 114.2,986.5 118,1036.9 130.3,1040 119.2,997.1 132.4,1047.8 118,1041.6 110.9,979.9 128.4,1042.2 112.7,982.7 125.3,1017.6 124.7,1044.2 129.9,1033.1 121.4,1009.4 125.2,1046.9 132.2,1029.7 137.6,1047 121.2,1028.9 128.6,1019.2 137,1046.8 124.7,1034.3 133,1042.2 121,1007.4 123.9,1010.8 131,1023.3 128.5,1036.8 132.1,1041.5 123,1032.7 119.7,1049.8 127.9,1031.5 133.7,1040.6 128.6,1022.8 125.4,1009.9 110.1,978.7 123.5,1033.1 126.7,1033.4 118.5,993.8 120.5,1047.6 132.7,1047.4 125.7,1018.8 134.9,1046.4 119.6,997.5 121.7,1002.2 131,1037.5 125.1,1016.9 126.7,1025.6 106.1,972.4 123,1007.7 125.8,1015.9 124.3,1011.7 128.3,1041.2 133.1,1042.1 106.3,972.5 123.6,1010.2 136.8,1038.7 114.1,985.7 129.2,1034.6 126.2,1038.7 129.2,1050 111.3,980.6 127.3,1020.1 140,1049.1 121.3,1001.2 113.5,985.1 117.2,991.7 107,973.7 121.1,1001 126.2,1017.6 108.7,976.1 123.5,1008.7 125.2,1037.8 125.1,1011.5 128,1037.3 126.2,1028.1 121.8,1033.8 116.1,1042.2 121.6,1002.7 122.3,1030.7 124.1,1016.6 126.2,1024.8 133.1,1031.6 121.6,1047.7 134.8,1049.8 130.9,1029.2 111.8,981.2 123.1,1015 128.6,1049.5 132.3,1042.8 116.1,990.5 143.5,1048.4 113.5,984.4 115.5,987.2 126.8,1020.3 127.1,1036.4 125.9,1030.2 117.3,1049.8 108.8,976.3 114.6,1049.9 116.8,990.6 127.2,1033.8 110.6,979.2 127.4,1015.6 118.4,994 131.6,1041.7 143.1,1049.9 120.8,1027.6 126.8,1023 124.2,1023.1 134.7,1040.1 118.7,996.4 123.8,1029.7 114.9,1045.4 125.7,1032.2 127.5,1030.1 135.1,1047.6 115,1049.7 138.7,1050 123.9,1013.6 134.3,1048.6 122.1,1001.9 125.8,1011.9 120.9,1001 130.5,1022.7 124.9,1015.4 141,1042.5 127.4,1014.1 138.3,1050 121.3,1003.7 117.1,1043.3 126.3,1015.9 113.2,984.2 124.2,1007.1 109.5,1122.5 118.7,1055.1 116.9,1053.9 126.1,1081.5 125,1083.3 125.5,1082.7 124.7,1083.7 125,1067.5 126.2,1074.2 116.7,1108.7 128,1057 137.4,1061.6 130.4,1067.3 140.5,1053.1 127.2,1062.6 124.7,1082.4 127.1,1082.9 105.6,1128.4 128.6,1066.4 127.1,1078.9 120.7,1093.5 118.6,1104.7 109.6,1122.3 118.8,1055.5 106.3,1127.2 126.7,1065.7 121,1052.9 121.5,1090.1 119.9,1100.6 133,1061.7 118.5,1105.5 122.3,1059.3 116.7,1056.7 118.2,1105.5 120.9,1095.9 125.4,1083.1 118,1061.5 122.5,1095.5 123.4,1091.8 123.3,1093.1 127.9,1082.2 133,1053.1 133.6,1058.6 135,1050.8 114,1115.2 121.2,1093.4 132,1064 137.2,1051.2 106.7,1126.9 135,1050.8 128.5,1073.8 113.5,1114.4 138,1064.6 121,1053.2 135.3,1053.5 125.2,1050.6 133,1067.1 125.8,1083.9 133.1,1059.1 132.9,1069 124,1079.9 128,1081.7 132.6,1067.4 120.5,1097.6 129.3,1057.4 114.9,1113.1 122.2,1083.4 122.9,1052.2 121.2,1067.7 128.6,1057 136.3,1065.8 120.1,1058 135.9,1051.4 127.9,1078.6 121.3,1093.4 105.7,1128.3 139.4,1058.5 116.1,1108.6 139.3,1056.9 123.4,1050.2 121.7,1050.6 111.7,1118 123.4,1074.6 117.6,1106.8 124.5,1078.4 126.8,1086.5 120.1,1101.2 123,1069.8 122.5,1096 110.1,1121.6 107.5,1125.5 109.7,1122.1 118.5,1063.9 116.5,1109.4 123.1,1084.2 124.8,1060 130.1,1059.3 119.5,1051 111.9,1118.7 129.4,1054.8 105.1,1129.3 123.8,1061.8 126.2,1059.2 116,1109.8 121.3,1096.2 122.5,1074.8 127.8,1063.8 123,1073.3 106.7,1126.6 121.8,1094.6 119.8,1102.2 127.8,1074.1 136.6,1051 144.6,1050.3 144.5,1050.4 113.6,1115.6 117.5,1105.7 128.5,1068.1 116.5,1107.4 124.3,1075 128.2,1076.8 105,1129.3 136,1061.4 105.8,1128.1 122.5,1093.9 128.5,1071.5 131,1053.4 125.5,1086.4 116.4,1110.4 120.1,1096.9 126.1,1062.2 141.9,1050.1 130.8,1067 126.8,1087.3 125.4,1088.1 107.9,1125 122.9,1069.3 118.6,1102.1 125.8,1084.3 121.7,1096 128.1,1067.3 108.4,1124 126.3,1051 128.8,1071.2 125.2,1079.7 115.1,1111.3 122.5,1091.9 127.2,1065.1 128.4,1057.7 130.2,1078.3 110.6,1120.8 125.6,1084.9 141.1,1054.9 118,1105.1 119.3,1055.7 124.8,1054.1 128.8,1069.8 125.1,1085.5 117.6,1108.6 140.4,1058.9 128.2,1051 140.7,1053.4 107.2,1125.9 125.7,1082.6 117.3,1052.8 117.6,1107.3 142.9,1050.3 119.9,1050 117,1108.9 125,1084.7 122.8,1089.6 129.6,1069 121.7,1054.9 118.5,1105.7 137.3,1050 123.8,1061.9 123.3,1094.7 143.5,1050.7 135.1,1056.6 126.4,1081.6 113.6,1116.1 133.1,1065.5 123,1089.7 123.5,1075.2 123.8,1091 132.4,1072 128.1,1074.1 122.2,1089.4 105,1129.2 139.3,1050.2 124,1069.3 137.1,1052.3 125,1084.1 134.4,1052.7 123.3,1090.6 117.3,1050.4 136.6,1051.3 138.3,1051.1 128.6,1081.2 131.1,1062 143.5,1050.1 124.4,1071.3 126,1078.3 129.9,1075 122.3,1089.3 120.6,1096.4 120.3,1099.3 119,1102.8 120.6,1101.5 133.8,1061.1 122.8,1085.6 126.6,1063.5 123.7,1089.8 115.7,1110.8 106.2,1127.5 123.2,1051.9 116.4,1108.2 113.3,1115.5 134.4,1067 124.5,1054.7 106,1127.7 122.7,1051.6 115.8,1109.1 132.3,1058.4 111.2,1119.5 118.5,1105.3 121.2,1100.6 123.8,1091 121.6,1096.6 135.9,1061.8 113.3,1116.4 122.8,1067.6 128,1063.9 115.8,1050.1 120,1063.5 121.5,1053.1 126.2,1077.1 122.8,1093.6 126,1052.4 112.6,1117 117.7,1062.7 133.6,1050.8 115.6,1053 115.8,1112.2 110.5,1121.2 118.8,1060.1 132.8,1050 126,1071.3 133.3,1063.8 117.8,1053.2 122.8,1094.6 120,1053 126.8,1073.9 119.1,1064.4 121.2,1071.2 124.6,1084.5 129.7,1059 122.4,1051.3 107.2,1126.1 129.8,1064.9 123,1050.4 115.5,1112 130,1072.4 124.3,1090.8 129.4,1075.2 122.2,1079.7 128.6,1077.1 122.7,1050.1 134.4,1059.1 120.4,1050 127.2,1083.1 126.8,1073.2 125.5,1086.7 123.2,1059.2 118.3,1107.1 117,1108.7 129.7,1069.7 124.5,1085 124.8,1084.8 125,1088.5 123.4,1084.4 135.8,1060.4 134.4,1066.4 118.7,1103.4 124.6,1083.7 121.7,1066.9 108.2,1124.3 116.6,1050 121.2,1095.8 122.5,1053 115.5,1052.3 118,1104.7 119.1,1100.4 115,1112.1 123.9,1087.4 122.9,1062.2 136.4,1053.8 121.6,1098.8 121.8,1096 122.4,1091.3 124.2,1070.2 123.5,1087.8 118.6,1053.4 109.3,1122.8 119.1,1100.4 128.8,1064.3 120.7,1057.5 126.6,1059.9 113.4,1115.1 136.9,1066.8 112.6,1117 127.3,1084.6 130.5,1055.7 134.8,1058.1 117.9,1106.8 130.1,1077.8 127.2,1057.8 122.8,1066 123.5,1079.5 124.5,1080.4 105.3,1128.8 108.4,1123.9 113.7,1115.9 126.8,1084.1 121.7,1058.2 124.2,1086.7 120.3,1096.8 128.1,1052 108.5,1123.7 129.5,1076 117.9,1106 125.4,1062.3 118.1,1106.3 120,1062.6 124.9,1050.1 124.3,1077.1 130.6,1070.6 117.9,1050.8 120.9,1100.2 126.2,1062.8 127.8,1081.4 125.7,1089.5 128.3,1064.9 121.9,1051.1 120.1,1103.5 120.5,1097.9 134.4,1059.8 131.1,1070.7 127.4,1079.9 133.5,1064.9 107.6,1125.7 125.2,1082.8 117.7,1051.8 135.7,1050.3 124.8,1074.5 121.6,1099.4 135.3,1059.5 121.8,1074.2 116.1,1111.3 122.3,1092.6 119.5,1103.8 128.2,1058.6 127.4,1068.9 121.8,1097.5 108.1,1124.5 124.2,1068.8 123.4,1072.1 133.3,1052.4 112.4,1117.6 125.7,1063.3 122,1068.9 119.1,1099.6 129.3,1075 107.7,1125.5 117.1,1107.2 120.6,1098.7 124.1,1074 113.1,1115.8 135.8,1056 123.8,1092.3 129.8,1072.9 115.1,1110.8 141.4,1050.1 105.1,1129.1 135.2,1067.5 133.2,1060.2 127,1060 116.3,1050.1 135.1,1053.3 118.5,1103 119.9,1100.8 122.1,1073.4 122.5,1093.5 129.3,1066.4 139.8,1054.8 124.2,1061.5 127.5,1065.2 113.4,1115.7 125.1,1088.6 123.1,1083.6 117.5,1057.3 108,1124.7 110.4,1120.9 116,1110.9 113.9,1115.1 122,1056.9 111.7,1118.9 129.1,1068.7 135.9,1053.3 135.4,1062.1 128.8,1058.5 132.9,1061.1 114.4,1113.7 137.7,1056 140.1,1058.9 125.6,1080.1 108.3,1124.6 122.6,1097.2 127.5,1073.8 116.7,1056.4 116.9,1106.4 134.3,1070.3 134.8,1050.2 124.8,1054.3 127.9,1073.5 136.4,1063.2 132.1,1053.2 127.8,1076.2 124.4,1072.8 126,1061 127.9,1059.2 128,1060.9 125,1089 135.3,1052.3 125.6,1060.8 126,1077.4 122.3,1077.8 118.7,1102.3 131.9,1069.8 118.9,1065.1 122.5,1055.7 119.2,1059.6 121.5,1054.5 116.9,1106.1 141.9,1056.5 119.5,1104.9 124.4,1092.2 119.7,1102.6 123.3,1093.6 139.9,1050 140.2,1060.3 115.1,1112.8 114.4,1050.1 123.9,1050.4 131.9,1070.3 118.9,1104.8 134.9,1055.2 125.8,1082.9 132,1069.5 125.6,1073.7 126.1,1087.1 111.9,1118.7 130.4,1071.4 132.4,1059.8 117.2,1105.5 122.9,1059 116.6,1050.4 136.2,1052.8 127.5,1077.7 119.8,1103.7 117.5,1104.7 107.4,1125.9 124.2,1092.7 122.6,1062.4 120.1,1098.4 129.1,1053.7 125.8,1057.1 127.6,1085.5 124.6,1069.1 133.9,1059.8 105.5,1128.4 133.6,1053.4 125,1078.2 117.4,1109 142.8,1054 114.3,1113.3 115.5,1112.8 122.9,1090.7 118.5,1058.2 124.2,1086.1 114.8,1050.3 130.4,1060.9 121.7,1069.5 119.6,1101 108.5,1123.8 130.3,1067.8 124.3,1054.2 115.8,1111 139.3,1052 124.9,1050.2 119.7,1059 123.7,1079.7 121.6,1091.3 122.3,1067.2 115.4,1055.5 117.5,1053.6 127.2,1077.4 131.4,1065.6 118.7,1105.5 116.9,1109.8 120.7,1051.3 111.4,1119.4 116.1,1109.8 114.3,1114.4 115.3,1110.9 125.1,1087.6 114.5,1113.8 123.4,1090.2 122.9,1083.9 120.9,1096.4 123.3,1082.6 121.1,1051.5 141,1051 107.5,1125.8 124.7,1050.3 121.3,1100.2 127.8,1083.4 119.8,1054.5 109.4,1122.3 124,1087.3 115.2,1112.5 121.3,1096.9 124.9,1070.6 124.8,1052 105.8,1127.9 117.7,1059.6 122.1,1094.9 119.4,1058.9 120.2,1098.4 125.4,1086.5 128.3,1059.5 114.2,1113.7 131.5,1063 105.8,1128.2 110.6,1120.9 138.4,1051.5 136.7,1051 135.2,1066.8 121.2,1094.5 119.6,1050.2 115.3,1111.8 111,1119.5 132.3,1051.8 122.9,1087.6 132.4,1054 119.3,1102.1 136.8,1050.4 120.6,1065.7 123.8,1070.8 115.4,1111.9 127.2,1068.5 120.7,1065.8 138.2,1058 126.2,1063.5 131.1,1062.8 121.3,1097.8 130,1075 115.8,1110.3 110.9,1120.6 125.5,1088.2 127.2,1078.7 137.6,1054.2 141.6,1050.1 113.3,1115.8 125.9,1075.2 118.6,1055.3 132.3,1061.4 133.9,1052.2 123.9,1064.7 129,1066.7 116,1050.3 116.6,1109.4 127.5,1071.1 126.8,1052.4 122.4,1092.4 137.2,1057.9 113.1,1116.3 116.9,1106.2 111.8,1118.6 126,1066 123,1055.5 115.6,1109.7 119.8,1052.9 116.1,1109.9 120.9,1097.3 124.4,1077.5 116.5,1109.9 114.8,1113.6 124,1086.5 140.4,1050.1 137,1054.4 124.5,1081.7 107.3,1125.8 115.1,1053.9 129.8,1061.3 128.8,1066.6 126.9,1062 124.3,1071.4 124.2,1060.2 135.6,1055.8 108.5,1123.8 124.8,1087.1 122.7,1087.8 134,1060.1 124.4,1085.9 125.6,1058.2 126.5,1074 113.6,1115 124.4,1085.2 130.8,1057.6 128.1,1074.3 111.7,1118.4 123,1051.6 122.2,1091.5 122.8,1085.2 132.4,1069.9 124.2,1088.1 142.1,1053.2 140.6,1057.7 120.1,1096.1 113.4,1115.5 122.4,1082.2 123.6,1084.7 112.8,1116.1 134.3,1050.1 138.3,1054.2 119.9,1099.3 121,1092.4 124.4,1082.6 126.5,1063 137,1061.6 126.5,1085.6 108.7,1123.6 135.1,1068.5 126,1071.2 110.4,1121.4 126.9,1079.8 122.4,1055.3 115.4,1110.7 140.8,1057.7 124,1050.1 136.8,1060.4 120.3,1062.7 121.3,1099.7 137.7,1058.9 123.4,1082.2 131.3,1061.5 127.2,1071.9 127,1052.4 140.9,1054.3 135.2,1068 115.4,1111.3 138.2,1055.7 118,1051.7 124.1,1051.5 119.7,1102.4 135.1,1061.1 129,1064.2 143.2,1052.2 130.9,1071.3 126.2,1061.5 124.7,1051.4 125.7,1084.8 126.5,1068.6 123,1062.6 123.4,1053.1 128.6,1069.6 132.2,1060.5 135.1,1060.8 138.3,1050.3 122.2,1076.6 120,1097.7 144.2,1050.4 121.5,1097.5 128.3,1058.6 106.9,1126.5 122.9,1092.2 135.1,1050.2 123.8,1080 123.2,1051.4 127.5,1071.4 120.6,1097.3 121.3,1093.9 128.7,1068.9 137.4,1050.6 127.1,1070.5 127.8,1079.7 132.3,1050.4 121.7,1074.4 124.2,1089.7 136.4,1055.4 108.9,1123.4 117,1108.6 129,1076.3 119.7,1102.4 136.4,1065.7 132.3,1053.3 132.1,1059.8 122.2,1065.8 118.4,1055.2 125.8,1083.4 111.9,1118.8 129.2,1051.2 125.6,1079.9 124.3,1053.1 114,1114.7 115.8,1110.5 129.1,1069.5 127.9,1072.5 122,1054.9 137.3,1053.3 124.1,1065.6 129.1,1079.9 131.8,1058.9 106.8,1126.6 121.9,1094 129.1,1059 124.7,1061.5 134.1,1070.9 111.2,1119.3 132.9,1073.5 129.4,1058 123.9,1087.1 134.7,1054.5 121,1097.2 105.1,1129 143.9,1052.6 112.9,1116.4 124.9,1052.1 114.1,1115.1 115.9,1109.1 121.9,1090.9 115.4,1110.7 120.2,1101.1 122.4,1094.8 123,1093.5 137.6,1061 112.1,1118.2 130.9,1069.4 135.5,1057.3 134.1,1050 131.5,1067.7 123,1052.8 133.2,1059.9 141.7,1057.3 137.9,1055.9 125.9,1085.5 113.8,1113.8 124.2,1053.6 117.5,1105.1 115.4,1112 127.8,1070.4 114.6,1054.6 127,1083.9 120.8,1095.6 117.7,1107.3 114.1,1051 107.9,1125 120.8,1097.1 131.3,1064.5 125.4,1057.5 120.2,1057.6 137,1055.3 133,1064.5 121,1066.2 128.1,1083.3 130.1,1072.6 118,1050.6 110.8,1119.7 128.5,1050.9 129.2,1076.7 133.1,1066.1 114.2,1113.5 118,1063.1 130.3,1060 119.2,1102.9 132.4,1052.2 118,1058.4 110.9,1120.1 128.4,1057.8 112.7,1117.3 125.3,1082.4 124.7,1055.8 129.9,1066.9 121.4,1090.6 125.2,1053.1 132.2,1070.3 137.6,1053 121.2,1071.1 128.6,1080.8 137,1053.2 124.7,1065.7 133,1057.8 121,1092.6 123.9,1089.2 131,1076.7 128.5,1063.2 132.1,1058.5 123,1067.3 119.7,1050.2 127.9,1068.5 133.7,1059.4 128.6,1077.2 125.4,1090.1 110.1,1121.3 123.5,1066.9 126.7,1066.6 118.5,1106.2 120.5,1052.4 132.7,1052.6 125.7,1081.2 134.9,1053.6 119.6,1102.5 121.7,1097.8 131,1062.5 125.1,1083.1 126.7,1074.4 106.1,1127.6 123,1092.3 125.8,1084.1 124.3,1088.3 128.3,1058.8 133.1,1057.9 106.3,1127.5 123.6,1089.8 136.8,1061.3 114.1,1114.3 129.2,1065.4 126.2,1061.3 129.2,1050 111.3,1119.4 127.3,1079.9 140,1050.9 121.3,1098.8 113.5,1114.9 117.2,1108.3 107,1126.3 121.1,1099 126.2,1082.4 108.7,1123.9 123.5,1091.3 125.2,1062.2 125.1,1088.5 128,1062.7 126.2,1071.9 121.8,1066.2 116.1,1057.8 121.6,1097.3 122.3,1069.3 124.1,1083.4 126.2,1075.2 133.1,1068.4 121.6,1052.3 134.8,1050.2 130.9,1070.8 111.8,1118.8 123.1,1085 128.6,1050.5 132.3,1057.2 116.1,1109.5 143.5,1051.6 113.5,1115.6 115.5,1112.8 126.8,1079.7 127.1,1063.6 125.9,1069.8 117.3,1050.2 108.8,1123.7 114.6,1050.1 116.8,1109.4 127.2,1066.2 110.6,1120.8 127.4,1084.4 118.4,1106 131.6,1058.3 143.1,1050.1 120.8,1072.4 126.8,1077 124.2,1076.9 134.7,1059.9 118.7,1103.6 123.8,1070.3 114.9,1054.6 125.7,1067.8 127.5,1069.9 135.1,1052.4 115,1050.3 138.7,1050 123.9,1086.4 134.3,1051.4 122.1,1098.1 125.8,1088.1 120.9,1099 130.5,1077.3 124.9,1084.6 141,1057.5 127.4,1085.9 138.3,1050 121.3,1096.3 117.1,1056.7 126.3,1084.1 113.2,1115.8 124.2,1092.9"/>
<path class="tk" d="M29.50 1161.50v-2.8M29.50 938.50v2.8M70.07 1161.50v-2.8M70.07 938.50v2.8M110.64 1161.50v-2.8M110.64 938.50v2.8M151.21 1161.50v-2.8M151.21 938.50v2.8M191.79 1161.50v-2.8M191.79 938.50v2.8M232.36 1161.50v-2.8M232.36 938.50v2.8M272.93 1161.50v-2.8M272.93 938.50v2.8M313.50 1161.50v-2.8M313.50 938.50v2.8M29.50 938.50h2.8M313.50 938.50h-2.8M29.50 966.38h2.8M313.50 966.38h-2.8M29.50 994.25h2.8M313.50 994.25h-2.8M29.50 1022.12h2.8M313.50 1022.12h-2.8M29.50 1050.00h2.8M313.50 1050.00h-2.8M29.50 1077.88h2.8M313.50 1077.88h-2.8M29.50 1105.75h2.8M313.50 1105.75h-2.8M29.50 1133.62h2.8M313.50 1133.62h-2.8M29.50 1161.50h2.8M313.50 1161.50h-2.8"/>
<rect class="box" x="29.50" y="938.50" width="284.00" height="223.00"/>
<text class="tl" text-anchor="middle" x="29.5" y="1174.3">-0.5</text>
<text class="tl" text-anchor="middle" x="70.1" y="1174.3">0</text>
<text class="tl" text-anchor="middle" x="110.6" y="1174.3">0.5</text>
<text class="tl" text-anchor="middle" x="151.2" y="1174.3">1.0</text>
<text class="tl" text-anchor="middle" x="191.8" y="1174.3">1.5</text>
<text class="tl" text-anchor="middle" x="232.4" y="1174.3">2.0</text>
<text class="tl" text-anchor="middle" x="272.9" y="1174.3">2.5</text>
<text class="tl" text-anchor="middle" x="313.5" y="1174.3">3.0</text>
<text class="tl" text-anchor="end" x="26.5" y="942.3">0.8</text>
<text class="tl" text-anchor="end" x="26.5" y="970.2">0.6</text>
<text class="tl" text-anchor="end" x="26.5" y="998.0">0.4</text>
<text class="tl" text-anchor="end" x="26.5" y="1025.9">0.2</text>
<text class="tl" text-anchor="end" x="26.5" y="1053.8">0</text>
<text class="tl" text-anchor="end" x="26.5" y="1081.7">-0.2</text>
<text class="tl" text-anchor="end" x="26.5" y="1109.5">-0.4</text>
<text class="tl" text-anchor="end" x="26.5" y="1137.4">-0.6</text>
<text class="tl" text-anchor="end" x="26.5" y="1165.3">-0.8</text>
<text class="al" text-anchor="middle" x="172.8" y="1189.7">Real</text>
<text class="al" text-anchor="middle" transform="translate(6.8 1050.6) rotate(-90)">Imaginary</text>
</g>
<g id="plot-g">
<polyline class="pts" style="marker-start:url(#mb);marker-mid:url(#mb);marker-end:url(#mb)" points="397.9,1050 633.3,1038.9 633.3,1025.3 633.5,1023.3 633.2,1037.6 633.5,1010.9 633.2,1030.3 633.6,1023 633.1,1044.4 633.3,1039.5 633.1,1046.2 633.3,1025.7 633.2,1024.4 633.5,1036.5 633.3,1040.8 633.3,1038.9 633.4,1019.8 633,1036.6 633.1,1025.8 633.3,1044.6 633.2,1036.2 633.5,1019.8 633.1,1036.7 633.1,1012.1 633.1,1039.6 633.4,1035.8 633.6,1029.7 633.5,1028.4 633.5,1048.3 633.2,1024.7 633.3,1025.6 633.3,1047.2 633.3,1029.3 633.4,1015.3 633.2,1035.6 633.2,1039 633.4,1039.6 633.3,1048.6 633.5,1034 633.3,1019.4 633.3,1041.6 633.4,1018.7 633.2,1030 633.1,1021.2 633.5,1045.2 633.2,1033.8 633.1,1038.6 633.6,1029.2 633.2,1040.9 633.4,1042.6 633.2,1018 633.2,1014.5 633.6,1034.1 633.4,1009.6 633.1,1032.2 633.1,1014.3 633.1,1011 633.6,1040.1 633.6,1034.1 633.2,1017.1 633.6,1048.1 633.3,1027 633.3,1021.7 633.4,1044.9 633.2,1045 633.4,1010.8 633.4,1023.4 633.5,1010.6 633.3,1033.7 633.3,1044.9 633.6,1024 633.3,1037.3 633.1,1012 633.6,1039 633.4,1027.5 633.3,1013.7 633.5,1031 633.1,1042 633.2,1032.4 633.4,1043 633.5,1047.4 633.5,1021.6 633.4,1043.4 633.1,1010 633.3,1015.9 633.3,1047.2 633.2,1018.8 633.4,1039.7 633.2,1046.1 633.4,1010.9 633.2,1043.2 633.3,1026.3 633.5,1035.1 633,1048.3 633.2,1013.5 633.6,1033.4 633.3,1032.3 633.1,1035.5 633.3,1045.2 633.3,1028.3 633.2,1041.8 633.1,1041.9 633.2,1027 633.2,1015.4 633.5,1029.5 633.4,1047 633.4,1022.2 633.5,1024.5 633.4,1011.9 633.1,1027.7 633.4,1045.6 633,1009.1 633.5,1040.1 633.6,1049.5 633.4,1020.8 633.2,1028 633.2,1021.4 633,1022.4 633.4,1028 633,1047.3 633.5,1027.6 633.6,1031.8 633.1,1032 633.5,1013.4 633.3,1049.7 633.6,1042.9 633.1,1041.6 633,1020.1 633.1,1036.5 633.1,1046 633.1,1030.8 633.5,1036.5 633.2,1024.2 633.1,1015.6 633.2,1012.8 633.5,1016.5 633.3,1029.8 633.5,1025.4 633.5,1042.1 633.4,1027.6 633.1,1045.1 633,1019.8 633.5,1039.3 633.4,1015.8 633.5,1015.6 633.4,1013.6 633.6,1033.7 633.6,1047.6 633.5,1032.4 633.1,1027.5 633.3,1042.8 633.2,1012.3 633.1,1011.3 633.5,1008.7 633.4,1007.2 633.3,1005.3 633.6,1002.8 633.1,1001.3 633,999.8 633.1,997.5 633.4,995.4 633.2,993.2 633.1,991.8 633.4,990.3 633.6,988.2 633.5,986.3 633.2,984.2 633.4,982.1 633.4,980.8 633.1,978.3 633.1,976.6 633.3,974.1 633.2,972.9 633.4,971 633.3,969.4 633.6,966.7 633.2,965.5 633.1,963 633.2,961.1 633.3,959 633,957.9 633.6,1007.1 633.1,1001.9 633.4,990.4 633.6,987.8 633.2,999.8 633.4,995.4 633.3,990.6 633.4,986.5 633.4,1011.5 633,999.4 633.1,1006 633.4,989.9 633.1,994.9 633.1,1011.8 633.3,1061.1 633.3,1074.7 633.5,1076.7 633.2,1062.4 633.5,1089.1 633.2,1069.7 633.6,1077 633.1,1055.6 633.3,1060.5 633.1,1053.8 633.3,1074.3 633.2,1075.6 633.5,1063.5 633.3,1059.2 633.3,1061.1 633.4,1080.2 633,1063.4 633.1,1074.2 633.3,1055.4 633.2,1063.8 633.5,1080.2 633.1,1063.3 633.1,1087.9 633.1,1060.4 633.4,1064.2 633.6,1070.3 633.5,1071.6 633.5,1051.7 633.2,1075.3 633.3,1074.4 633.3,1052.8 633.3,1070.7 633.4,1084.7 633.2,1064.4 633.2,1061 633.4,1060.4 633.3,1051.4 633.5,1066 633.3,1080.6 633.3,1058.4 633.4,1081.3 633.2,1070 633.1,1078.8 633.5,1054.8 633.2,1066.2 633.1,1061.4 633.6,1070.8 633.2,1059.1 633.4,1057.4 633.2,1082 633.2,1085.5 633.6,1065.9 633.4,1090.4 633.1,1067.8 633.1,1085.7 633.1,1089 633.6,1059.9 633.6,1065.9 633.2,1082.9 633.6,1051.9 633.3,1073 633.3,1078.3 633.4,1055.1 633.2,1055 633.4,1089.2 633.4,1076.6 633.5,1089.4 633.3,1066.3 633.3,1055.1 633.6,1076 633.3,1062.7 633.1,1088 633.6,1061 633.4,1072.5 633.3,1086.3 633.5,1069 633.1,1058 633.2,1067.6 633.4,1057 633.5,1052.6 633.5,1078.4 633.4,1056.6 633.1,1090 633.3,1084.1 633.3,1052.8 633.2,1081.2 633.4,1060.3 633.2,1053.9 633.4,1089.1 633.2,1056.8 633.3,1073.7 633.5,1064.9 633,1051.7 633.2,1086.5 633.6,1066.6 633.3,1067.7 633.1,1064.5 633.3,1054.8 633.3,1071.7 633.2,1058.2 633.1,1058.1 633.2,1073 633.2,1084.6 633.5,1070.5 633.4,1053 633.4,1077.8 633.5,1075.5 633.4,1088.1 633.1,1072.3 633.4,1054.4 633,1090.9 633.5,1059.9 633.6,1050.5 633.4,1079.2 633.2,1072 633.2,1078.6 633,1077.6 633.4,1072 633,1052.7 633.5,1072.4 633.6,1068.2 633.1,1068 633.5,1086.6 633.3,1050.3 633.6,1057.1 633.1,1058.4 633,1079.9 633.1,1063.5 633.1,1054 633.1,1069.2 633.5,1063.5 633.2,1075.8 633.1,1084.4 633.2,1087.2 633.5,1083.5 633.3,1070.2 633.5,1074.6 633.5,1057.9 633.4,1072.4 633.1,1054.9 633,1080.2 633.5,1060.7 633.4,1084.2 633.5,1084.4 633.4,1086.4 633.6,1066.3 633.6,1052.4 633.5,1067.6 633.1,1072.5 633.3,1057.2 633.2,1087.7 633.1,1088.7 633.5,1091.3 633.4,1092.8 633.3,1094.7 633.6,1097.2 633.1,1098.7 633,1100.2 633.1,1102.5 633.4,1104.6 633.2,1106.8 633.1,1108.2 633.4,1109.7 633.6,1111.8 633.5,1113.7 633.2,1115.8 633.4,1117.9 633.4,1119.2 633.1,1121.7 633.1,1123.4 633.3,1125.9 633.2,1127.1 633.4,1129 633.3,1130.6 633.6,1133.3 633.2,1134.5 633.1,1137 633.2,1138.9 633.3,1141 633,1142.1 633.6,1092.9 633.1,1098.1 633.4,1109.6 633.6,1112.2 633.2,1100.2 633.4,1104.6 633.3,1109.4 633.4,1113.5 633.4,1088.5 633,1100.6 633.1,1094 633.4,1110.1 633.1,1105.1 633.1,1088.2"/>
<path class="tk" d="M395.50 1161.50v-2.8M395.50 938.50v2.8M442.83 1161.50v-2.8M442.83 938.50v2.8M490.17 1161.50v-2.8M490.17 938.50v2.8M537.50 1161.50v-2.8M537.50 938.50v2.8M584.83 1161.50v-2.8M584.83 938.50v2.8M632.17 1161.50v-2.8M632.17 938.50v2.8M679.50 1161.50v-2.8M679.50 938.50v2.8M395.50 938.50h2.8M679.50 938.50h-2.8M395.50 975.67h2.8M679.50 975.67h-2.8M395.50 1012.83h2.8M679.50 1012.83h-2.8M395.50 1050.00h2.8M679.50 1050.00h-2.8M395.50 1087.17h2.8M679.50 1087.17h-2.8M395.50 1124.33h2.8M679.50 1124.33h-2.8M395.50 1161.50h2.8M679.50 1161.50h-2.8"/>
<rect class="box" x="395.50" y="938.50" width="284.00" height="223.00"/>
<text class="tl" text-anchor="middle" x="395.5" y="1174.3">-1.0</text>
<text class="tl" text-anchor="middle" x="442.8" y="1174.3">-0.8</text>
<text class="tl" text-anchor="middle" x="490.2" y="1174.3">-0.6</text>
<text class="tl" text-anchor="middle" x="537.5" y="1174.3">-0.4</text>
<text class="tl" text-anchor="middle" x="584.8" y="1174.3">-0.2</text>
<text class="tl" text-anchor="middle" x="632.2" y="1174.3">0</text>
<text class="tl" text-anchor="middle" x="679.5" y="1174.3">0.2</text>
<text class="tl" text-anchor="end" x="392.5" y="942.3">1.5</text>
<text class="tl" text-anchor="end" x="392.5" y="979.5">1.0</text>
<text class="tl" text-anchor="end" x="392.5" y="1016.6">0.5</text>
<text class="tl" text-anchor="end" x="392.5" y="1053.8">0</text>
<text class="tl" text-anchor="end" x="392.5" y="1091.0">-0.5</text>
<text class="tl" text-anchor="end" x="392.5" y="1128.1">-1.0</text>
<text class="tl" text-anchor="end" x="392.5" y="1165.3">-1.5</text>
<text class="al" text-anchor="middle" x="539.4" y="1189.7">Real</text>
<text class="al" text-anchor="middle" transform="translate(373.0 1050.6) rotate(-90)">Imaginary</text>
</g>
<text class="tl" style="font-size:9.2px" x="396.3" y="937.3">×<tspan dx="1.3">10</tspan><tspan dy="-3.7" style="font-size:6.6px">-4</tspan></text>
<g id="cap-a"><text class="cap" x="314.2" y="286.2">(a)</text><text class="cap scr" style="font-size:20.6px" transform="translate(347.2 286.2) scale(0.87 1)">𝒜</text><text class="cap s" x="365.5" y="289.2">1</text></g>
<g id="cap-b"><text class="cap" x="111.9" y="597.6">(b)</text><text class="cap scr" style="font-size:22.0px" transform="translate(146.0 597.6) scale(1.42 1)">𝒫</text><text class="cap" style="font-size:19px" x="171.0" y="590.9">−</text><text class="cap s" x="183.9" y="587.8">1</text><text class="cap s" y="603.4"><tspan class="it" style="font-size:16px" x="169.2">D</tspan></text><text class="cap scr" style="font-size:20.6px" transform="translate(192.6 597.6) scale(0.87 1)">𝒜</text><text class="cap s" x="211.0" y="600.6">1</text></g>
<g id="cap-c"><text class="cap" x="472.0" y="597.6">(c)</text><text class="cap scr" style="font-size:22.0px" transform="translate(503.7 597.6) scale(1.42 1)">𝒫</text><text class="cap" style="font-size:19px" x="528.7" y="590.9">−</text><text class="cap s" x="541.6" y="587.8">1</text><text class="cap s" y="603.4"><tspan class="it" style="font-size:16px" x="528.2">T</tspan><tspan x="540.0">1</tspan></text><text class="cap scr" style="font-size:20.6px" transform="translate(549.8 597.6) scale(0.87 1)">𝒜</text><text class="cap s" x="568.6" y="600.6">1</text></g>
<g id="cap-d"><text class="cap" x="113.8" y="909.6">(d)</text><text class="cap scr" style="font-size:22.0px" transform="translate(140.4 909.6) scale(1.42 1)">𝒫</text><text class="cap" style="font-size:19px" x="165.4" y="902.9">−</text><text class="cap s" x="178.3" y="899.8">1</text><text class="cap s" y="915.4"><tspan class="it" style="font-size:16px" x="164.3">T</tspan><tspan x="175.4">2</tspan></text><text class="cap scr" style="font-size:20.6px" transform="translate(186.5 909.6) scale(0.87 1)">𝒜</text><text class="cap s" x="205.4" y="912.6">1</text></g>
<g id="cap-e"><text class="cap" x="467.0" y="909.6">(e)</text><text class="cap scr" style="font-size:22.0px" transform="translate(498.7 909.6) scale(1.42 1)">𝒫</text><text class="cap" style="font-size:19px" x="523.7" y="902.9">−</text><text class="cap s" x="536.6" y="899.8">1</text><text class="cap s" y="915.4"><tspan class="it" style="font-size:16px" x="523.2">W</tspan><tspan x="540.3">1</tspan></text><text class="cap scr" style="font-size:20.6px" transform="translate(547.9 909.6) scale(0.87 1)">𝒜</text><text class="cap s" x="566.5" y="912.6">1</text></g>
<g id="cap-f"><text class="cap" x="107.0" y="1221.6">(f)</text><text class="cap scr" style="font-size:22.0px" transform="translate(138.1 1221.6) scale(1.42 1)">𝒫</text><text class="cap" style="font-size:19px" x="163.1" y="1214.9">−</text><text class="cap s" x="176.0" y="1211.8">1</text><text class="cap s" y="1227.4"><tspan class="it" style="font-size:16px" x="162.3">W</tspan><tspan x="179.1">2</tspan></text><text class="cap scr" style="font-size:20.6px" transform="translate(187.1 1221.6) scale(0.87 1)">𝒜</text><text class="cap s" x="205.7" y="1224.6">1</text></g>
<g id="cap-g"><text class="cap" x="466.7" y="1221.6">(g)</text><text class="cap scr" style="font-size:22.0px" transform="translate(492.6 1221.6) scale(1.42 1)">𝒫</text><text class="cap" style="font-size:19px" x="517.6" y="1214.9">−</text><text class="cap s" x="530.5" y="1211.8">1</text><text class="cap s" y="1227.4"><tspan style="font-size:16px" x="517.6 529.1 543.2">PAB</tspan></text><text class="cap scr" style="font-size:20.6px" transform="translate(554.4 1221.6) scale(0.87 1)">𝒜</text><text class="cap s" x="573.6" y="1224.6">1</text></g>
</svg></body></html>
